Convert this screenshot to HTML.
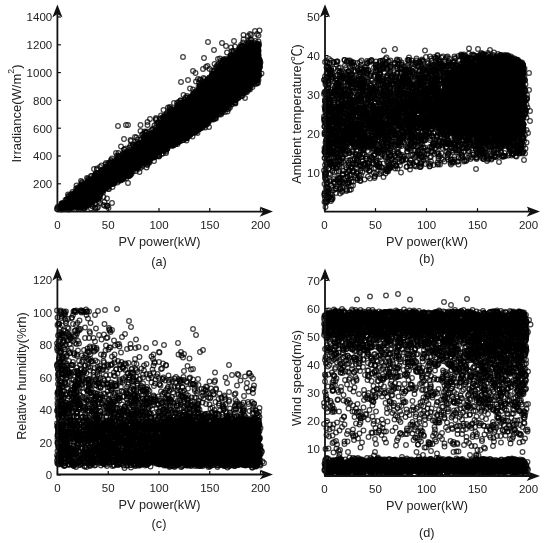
<!DOCTYPE html>
<html><head><meta charset="utf-8"><title>PV scatter</title>
<style>
html,body{margin:0;padding:0;background:#fff}
svg{display:block}
.t{font:11.5px "Liberation Sans","Noto Sans CJK SC",sans-serif;fill:#222}
.l{font:12.7px "Liberation Sans","Noto Sans CJK SC",sans-serif;fill:#222}
.p{fill:none;stroke:none;marker:url(#m)}
</style></head><body>
<svg width="550" height="543" viewBox="0 0 550 543">
<defs><marker id="m" markerUnits="userSpaceOnUse" markerWidth="16" markerHeight="16" refX="4" refY="4" viewBox="0 0 8 8"><circle cx="4" cy="4" r="2.33" fill="none" stroke="#000" stroke-opacity="0.74" stroke-width="1.25"/></marker></defs>
<rect width="550" height="543" fill="#fff"/>
<polyline class="p" transform="scale(.5)" points="246,353 202,362 411,170 280,324 358,276 386,247 261,330 301,279 268,330 497,151 487,148 366,230 253,351 506,111 480,112 408,245 414,172 210,350 508,122 404,179 172,414 138,398 493,172 466,187 515,88 516,95 509,161 515,117 392,250 437,211 281,310 347,252 186,386 441,176 492,106 423,162 393,220 177,398 219,361 301,277 508,128 444,179 480,188 507,131 268,318 460,141 204,361 190,359 204,380 411,206 226,367 392,215 157,418 213,333 323,280 295,295 481,97 361,228 284,311 258,350 312,261 199,348 194,346 514,157 330,247 213,351 283,295 263,302 203,373 440,176 470,134 437,197 389,225 483,134 184,396 446,193 427,233 241,317 221,368 281,322 479,182 447,121 291,270 443,150 220,370 213,358 407,230 515,157 495,137 502,91 284,316 311,256 504,160 281,324 298,293 390,196 435,168 382,215 327,244 434,185 307,288 388,229 233,356 371,250 199,346 369,243 498,80 502,123 351,230 414,201 210,363 340,272 386,250 405,162 128,416 450,136 382,219 414,231 318,309 377,254 447,151 199,369 423,229 473,181 289,263 245,348 476,156 454,203 504,93 467,178 213,365 371,246 193,379 236,357 430,220 372,254 180,386 391,221 262,308 406,189 385,261 446,152 485,151 503,87 257,332 406,169 500,96 420,217 124,416 331,269 296,311 414,173 477,176 214,368 210,358 235,337 487,158 420,162 472,191 369,208 237,306 168,408 289,288 438,137 442,161 489,141 405,232 253,311 356,283 146,388 495,130 247,340 482,178 348,219 305,282 384,235 156,399 439,204 456,208 329,279 240,359 373,245 496,166 325,235 326,252 412,245 214,334 209,364 325,267 394,254 238,343 504,135 397,174 469,119 516,144 334,290 154,383 347,260 439,151 251,327 367,218 309,276 300,238 268,313 421,209 406,235 452,168 486,111 425,150 155,411 462,118 506,152 142,409 419,202 381,254 206,353 376,228 448,145 469,122 169,393 245,309 322,288 217,359 317,304 411,197 353,221 462,110 393,239 454,121 398,216 486,170 124,411 351,279 157,397 458,178 391,252 461,136 380,271 239,356 242,320 243,328 498,155 460,131 334,259 339,241 324,296 169,415 252,336 334,298 483,110 191,393 474,175 221,325 441,152 499,162 456,155 208,356 500,99 482,157 317,245 430,221 227,335 335,287 466,122 361,267 157,389 463,153 467,128 384,197 232,351 430,230 331,271 165,389 404,195 348,284 488,115 292,265 313,264 345,250 389,260 237,320 277,318 462,95 433,174 253,320 225,368 392,237 512,124 457,156 290,285 442,229 409,248 326,266 355,288 236,319 440,156 467,113 502,79 200,383 369,222 263,332 434,220 418,208 393,239 411,236 414,249 451,123 430,164 446,179 448,203 338,226 391,208 468,145 420,202 495,149 335,257 276,299 451,215 516,99 325,282 389,224 455,159 257,316 283,324 399,179 213,349 203,341 192,352 464,175 478,163 340,232 510,139 223,322 370,246 152,400 276,324 420,174 377,208 369,272 235,365 225,365 343,223 502,132 292,326 422,222 275,308 150,397 230,340 192,390 242,329 520,122 414,166 337,252 486,187 296,318 416,161 389,250 282,279 331,290 479,100 478,151 348,275 448,122 300,293 265,334 361,262 247,349 513,131 368,250 470,135 423,202 186,366 317,275 174,402 276,298 314,296 467,161 427,216 297,272 337,246 407,205 490,140 276,298 411,165 175,399 507,140 505,134 188,379 469,181 455,152 451,173 307,290 126,408 497,179 252,348 514,93 407,208 504,132 485,192 491,178 184,394 464,148 451,144 249,299 412,187 413,196 190,368 512,110 487,181 269,318 242,329 422,237 405,182 262,323 323,281 351,282 165,412 389,235 349,245 115,418 467,135 226,364 385,241 183,403 490,94 332,278 247,348 466,163 473,170 381,237 485,124 383,222 190,350 330,294 182,378 360,227 410,221 318,250 506,112 117,414 228,338 364,273 323,272 440,117 508,117 399,244 147,409 246,321 433,153 223,345 439,197 179,406 284,311 413,208 324,256 480,114 477,136 342,250 470,186 409,227 514,165 322,252 328,287 210,352 212,370 408,245 226,347 125,408 387,256 465,142 205,379 354,271 246,345 456,206 427,203 149,406 271,313 422,225 473,159 251,341 485,152 341,286 503,132 422,232 321,264 177,362 345,241 497,84 304,281 441,143 336,245 397,208 214,372 270,331 448,215 499,105 315,272 304,282 303,270 397,233 406,175 486,153 269,334 229,334 179,401 318,286 450,168 431,170 322,300 327,220 164,391 396,253 283,323 385,198 350,264 461,200 204,365 312,236 300,319 431,166 382,208 199,381 217,350 410,174 470,122 248,328 320,255 395,237 362,273 343,246 425,205 414,191 467,198 480,122 432,134 172,385 409,185 348,283 447,175 389,207 178,358 449,157 472,141 181,385 414,213 164,364 311,261 225,352 286,268 454,212 392,186 259,326 468,133 401,193 498,116 453,134 285,307 271,292 256,306 445,188 339,223 489,170 237,324 425,233 181,371 198,375 351,280 247,344 470,125 313,261 411,203 468,106 287,284 313,247 394,230 213,341 446,159 250,312 114,418 465,137 458,169 410,255 477,137 265,309 168,410 494,184 369,251 394,230 363,232 402,216 213,376 514,127 516,118 295,320 266,330 166,388 361,224 466,174 480,156 455,193 178,397 381,239 352,255 240,328 188,390 329,281 216,346 502,135 274,319 267,327 496,165 519,119 217,355 372,277 468,143 506,147 349,223 318,287 294,284 189,353 402,221 156,405 237,326 496,121 518,88 323,308 282,319 355,248 292,273 301,285 303,260 187,373 476,141 394,239 339,244 490,123 360,280 365,225 345,236 452,153 425,156 199,391 440,138 273,275 374,229 382,267 448,200 406,195 395,199 441,150 209,346 495,120 214,337 431,232 414,211 451,160 442,135 391,252 403,204 347,277 490,112 297,325 506,159 409,224 444,135 309,311 232,344 425,158 495,115 345,286 258,334 309,287 406,210 374,246 273,310 224,317 164,390 144,407 390,190 354,242 329,266 446,134 457,137 195,378 291,318 403,249 426,229 159,396 306,293 185,389 517,91 466,178 434,176 322,246 380,218 490,129 367,190 378,269 292,306 157,411 273,307 282,322 295,313 206,381 463,173 406,227 251,352 173,368 421,165 434,223 180,365 481,139 372,204 208,369 234,349 342,262 226,340 457,141 319,283 476,125 455,183 340,242 216,372 469,144 433,205 207,366 285,332 307,264 501,121 410,181 256,325 256,308 422,191 517,115 299,325 438,149 410,181 512,129 273,331 407,224 392,226 307,313 343,265 170,376 448,178 460,131 401,211 453,185 422,173 314,300 406,219 502,109 189,375 205,343 219,334 400,182 454,123 490,156 512,153 437,213 279,286 234,356 297,289 442,165 397,242 509,121 408,251 456,122 257,352 228,362 387,204 437,197 503,151 412,234 414,172 263,312 369,270 343,274 177,362 464,118 461,112 519,126 251,326 448,133 452,162 482,114 384,229 509,153 154,391 399,230 133,417 501,149 242,312 439,210 485,176 367,260 497,99 292,277 392,163 275,320 352,258 389,265 432,237 515,93 434,171 447,207 495,157 321,261 143,394 438,177 492,184 343,284 479,153 487,112 323,285 428,165 337,290 270,318 346,268 515,117 411,234 237,314 354,281 188,393 481,174 458,161 204,376 244,328 334,287 412,211 346,253 457,150 471,108 410,175 493,138 275,322 474,165 255,309 257,314 472,159 446,156 216,373 460,202 313,267 322,299 459,155 512,162 361,201 339,259 492,162 415,237 278,294 509,130 318,287 256,339 449,207 448,201 268,314 289,275 475,110 426,186 328,267 456,144 493,152 383,193 482,107 147,395 460,178 381,228 309,299 317,289 507,111 203,376 435,174 237,362 512,96 160,402 477,104 381,239 267,305 486,104 189,352 481,132 236,359 467,184 330,246 497,99 197,359 492,114 429,153 374,244 275,329 407,178 425,237 513,146 452,132 348,245 398,237 406,179 299,307 258,313 395,253 161,388 474,166 429,197 393,240 340,214 422,219 439,208 253,343 424,141 361,247 454,105 292,315 252,318 156,407 467,124 438,161 454,145 516,149 247,356 256,322 188,386 474,133 336,273 214,339 391,184 514,91 232,329 498,109 257,327 316,247 187,373 503,90 352,288 422,157 457,184 508,96 425,216 286,274 491,183 472,200 223,358 285,320 286,320 348,222 351,274 201,362 514,153 442,207 336,275 483,106 158,415 131,408 316,289 477,148 255,330 412,169 406,180 262,337 420,167 257,328 386,254 512,128 280,309 329,270 282,297 223,340 352,268 333,290 227,363 248,346 291,302 227,359 471,140 507,136 349,248 413,240 251,350 408,176 233,340 463,160 159,405 415,241 501,147 443,201 444,216 198,388 204,380 306,257 276,303 208,372 480,132 441,197 406,219 155,407 219,365 342,229 187,400 511,145 414,215 251,318 447,155 199,354 206,382 460,142 417,227 336,231 190,354 179,367 178,366 240,322 287,326 515,103 422,226 257,304 477,173 356,266 412,182 168,373 472,155 224,362 397,184 268,332 341,274 384,223 356,251 415,166 469,114 507,158 268,327 388,224 189,388 412,234 512,112 215,347 398,204 278,300 324,249 413,197 253,337 412,226 214,334 328,250 449,168 209,371 466,162 248,355 376,237 425,202 417,231 423,228 158,412 421,223 512,121 480,145 424,228 301,297 383,263 446,174 292,265 167,385 364,276 174,394 512,108 323,274 284,311 319,261 145,398 379,197 320,303 344,236 393,261 318,297 277,310 439,183 445,181 237,311 413,232 326,296 462,205 398,216 416,242 213,360 167,384 446,168 390,207 493,115 185,378 423,236 430,146 253,333 393,221 388,237 289,322 361,277 201,351 418,222 363,272 136,413 440,227 470,191 517,71 503,93 303,284 456,179 390,211 369,223 516,114 393,184 307,311 366,237 130,411 514,154 357,222 508,140 311,292 519,135 452,137 295,292 230,355 363,208 356,226 503,168 476,187 331,299 445,151 191,353 456,180 477,115 523,147 296,303 295,250 211,337 501,114 313,288 281,326 332,252 465,165 338,258 453,218 298,303 296,292 352,284 488,167 354,274 379,251 216,337 478,122 513,106 442,162 448,214 156,401 511,82 273,318 484,157 433,163 433,186 512,168 230,347 424,198 139,399 458,174 459,205 342,285 418,173 149,386 461,148 363,205 338,238 414,176 511,132 491,180 213,346 173,406 330,236 137,413 434,193 492,167 404,179 215,352 342,266 248,324 167,403 385,257 287,288 359,251 266,320 472,163 480,184 300,271 270,304 396,204 139,408 169,386 176,360 329,265 382,230 428,149 444,214 287,304 494,107 191,380 473,126 362,243 460,196 143,411 308,297 493,158 142,390 250,340 235,338 308,297 500,127 277,325 488,163 335,273 376,234 450,185 236,329 163,386 407,212 362,261 306,282 419,192 214,334 214,343 493,95 231,362 316,303 321,257 402,184 215,366 492,139 301,268 354,238 487,109 444,127 445,191 476,135 480,148 342,254 350,275 417,200 390,196 401,160 305,260 269,313 263,342 230,338 426,211 414,193 188,371 177,391 276,318 436,221 251,308 138,410 475,185 153,399 495,159 485,102 133,399 419,200 215,352 360,228 274,333 342,221 475,163 466,165 471,126 507,112 481,155 264,303 364,260 145,393 190,385 328,244 172,388 470,119 405,239 368,234 222,320 363,259 469,164 308,272 489,107 241,323 494,158 380,242 309,301 291,308 286,304 330,287 323,290 509,146 361,231 219,362 215,335 377,262 217,352 502,146 448,201 464,123 310,304 509,164 153,393 389,195 229,327 324,255 416,202 476,138 332,290 384,219 155,392 490,146 381,228 466,114 471,187 326,255 301,316 373,244 232,345 405,190 470,149 493,131 205,381 514,119 297,289 394,220 377,207 323,287 453,155 350,256 159,391 213,345 499,100 495,119 220,335 243,339 305,304 150,411 217,354 424,221 307,278 203,358 477,115 430,148 450,224 497,98 311,297 310,309 468,204 319,265 289,310 506,90 334,297 329,291 340,245 265,323 489,106 361,277 275,279 510,111 419,179 473,157 438,189 327,270 453,156 508,121 232,323 315,274 514,112 368,269 399,232 467,136 186,395 464,178 178,408 513,103 217,357 253,356 458,155 415,185 377,200 453,214 490,176 385,273 174,394 191,351 237,326 345,281 518,151 284,292 332,254 396,250 476,108 341,239 420,205 210,338 230,342 369,232 346,251 454,135 240,347 425,173 158,377 121,416 127,408 386,230 469,181 358,282 258,352 346,263 217,362 294,329 411,230 412,184 384,210 269,333 182,361 223,336 204,381 299,317 272,333 356,250 331,243 178,391 450,136 373,240 397,192 424,152 193,383 404,221 261,349 376,229 319,251 359,239 385,203 362,240 285,302 460,207 226,348 296,292 370,228 335,242 229,363 475,150 492,163 436,175 434,178 360,278 510,62 181,360 171,388 371,228 168,370 285,295 247,336 515,144 341,265 203,341 428,143 200,334 463,203 483,130 404,199 305,312 277,302 419,210 467,142 345,258 479,118 349,261 359,281 345,230 161,400 457,126 512,94 301,291 478,134 338,263 415,132 460,215 168,377 240,323 411,198 362,242 349,256 179,410 338,253 495,90 135,408 414,177 343,235 301,295 170,408 357,225 413,210 336,288 344,292 324,299 493,118 355,233 353,281 418,198 424,232 360,218 421,207 308,315 425,188 513,153 510,108 504,170 485,107 204,367 480,174 505,110 380,269 294,325 320,263 217,341 282,317 369,277 309,251 412,217 365,215 425,167 177,394 421,200 170,404 227,324 157,393 502,80 401,256 388,201 490,159 434,200 442,161 359,265 272,294 163,387 211,337 329,277 352,276 177,365 485,110 436,211 365,249 395,213 517,93 404,245 351,267 478,187 448,210 226,350 155,384 167,417 488,133 329,297 214,346 237,346 474,117 456,134 197,378 323,259 361,208 234,323 368,203 445,209 324,286 293,309 320,286 248,344 145,394 275,335 468,143 472,125 342,237 258,339 341,238 495,133 373,269 408,206 431,235 293,315 492,117 404,165 373,273 454,181 364,264 169,377 429,216 517,103 301,302 182,370 451,158 449,132 438,220 418,221 445,213 500,179 163,395 208,348 475,140 332,280 361,230 442,147 516,151 318,266 399,184 443,202 154,413 444,146 436,185 484,148 283,300 501,106 371,271 299,309 361,201 358,221 424,189 413,167 362,278 318,280 244,342 260,341 512,123 494,97 322,301 140,401 442,207 322,272 249,334 494,137 242,325 139,407 271,293 472,146 191,361 459,212 401,197 335,267 239,334 381,250 145,412 310,284 402,237 353,261 496,138 245,341 512,156 511,99 308,270 416,216 460,192 469,146 301,268 392,190 417,198 395,247 371,247 244,319 388,193 248,299 392,254 352,251 328,251 375,269 212,360 427,161 456,204 319,290 388,245 229,356 327,233 492,122 317,248 431,223 342,217 184,374 421,193 431,148 296,312 466,129 465,195 413,236 469,166 438,229 261,291 162,384 386,202 399,228 218,361 470,181 186,395 481,174 261,304 177,403 415,162 177,368 326,273 478,143 326,246 480,191 176,357 473,172 281,250 356,284 307,305 332,291 385,251 237,336 305,270 510,162 517,144 492,141 421,231 139,417 187,388 456,146 397,208 389,256 517,131 188,338 320,237 380,206 243,341 431,187 163,412 350,280 280,310 415,176 393,230 364,245 487,176 458,201 375,231 478,102 471,135 507,108 185,394 507,85 403,240 194,396 377,220 380,225 411,227 515,114 501,138 323,286 303,288 496,98 323,288 122,412 306,298 475,130 436,177 301,313 291,306 429,222 362,250 399,188 290,269 262,282 383,238 208,376 499,134 453,134 345,260 152,418 375,195 372,275 340,219 449,146 214,335 343,275 428,178 363,260 233,321 328,273 220,328 476,187 439,170 262,341 382,240 208,366 512,129 198,349 368,210 371,224 451,182 226,355 369,217 202,369 190,372 500,134 434,137 171,410 497,107 486,169 358,269 296,308 286,326 514,155 515,111 491,139 323,280 204,341 453,187 308,314 263,348 156,399 354,224 153,382 211,356 398,165 453,169 295,324 295,301 458,182 479,130 276,301 457,147 515,149 442,176 392,237 388,201 371,259 343,260 194,337 507,132 261,321 162,392 454,160 468,156 169,417 399,228 437,205 390,195 165,408 457,218 384,212 338,263 345,247 440,222 159,405 437,152 356,278 143,412 262,320 499,132 432,209 157,406 471,191 258,321 285,289 285,295 164,375 304,298 496,138 434,199 469,118 293,325 156,393 256,333 344,276 341,278 228,365 202,346 172,376 299,286 470,195 291,324 456,192 464,112 188,392 429,180 353,242 440,179 331,259 469,138 366,242 302,276 281,262 228,367 511,120 174,398 401,197 346,268 317,283 267,326 423,236 449,186 396,223 332,272 332,287 283,306 207,358 232,345 233,345 164,370 333,233 328,238 192,392 467,124 411,223 263,313 217,352 363,225 498,162 315,292 401,257 280,306 156,388 291,309 436,218 242,360 215,355 498,157 384,254 211,329 182,367 167,412 441,168 379,201 390,183 174,407 377,246 330,295 487,145 311,302 464,193 231,325 241,349 505,151 222,346 491,181 200,378 142,417 487,181 246,359 141,406 241,343 424,215 386,223 445,133 441,204 400,224 303,286 167,398 201,361 309,291 461,146 309,303 125,409 197,360 499,113 415,226 353,216 221,359 322,263 140,411 439,146 443,129 388,222 365,216 277,287 189,379 395,236 285,317 324,291 411,176 388,238 136,397 496,88 382,201 483,160 468,114 345,277 363,255 407,208 247,318 261,280 400,221 323,247 300,313 401,213 334,281 199,364 270,274 463,179 462,175 467,165 160,385 325,285 322,297 431,220 321,296 419,175 185,379 429,147 471,107 178,386 289,276 383,205 216,378 207,349 359,278 321,240 200,389 418,195 393,200 503,163 441,132 365,274 485,180 297,280 470,185 406,219 426,180 198,364 215,361 399,200 425,192 125,415 309,295 251,341 418,180 331,299 326,246 294,281 292,299 278,303 377,258 175,370 242,345 489,106 378,242 303,312 484,181 450,127 482,173 410,195 478,150 461,154 452,129 398,226 373,235 466,153 335,297 376,226 420,205 448,185 245,311 155,386 472,113 352,284 514,89 439,169 234,357 174,396 436,217 366,280 419,164 516,106 239,322 498,175 490,152 241,361 353,228 498,112 404,231 247,349 345,257 491,120 301,279 267,338 296,273 399,188 220,332 458,168 411,193 454,126 368,247 329,235 490,90 236,350 499,100 430,169 342,244 314,268 442,139 374,208 415,222 429,175 134,412 375,201 300,286 442,148 452,207 159,399 275,297 451,213 422,168 395,213 441,172 468,167 492,106 325,288 441,179 433,201 426,210 320,284 456,136 465,155 454,142 498,118 401,199 245,338 422,238 257,324 313,283 366,268 455,148 189,373 209,353 292,307 223,333 494,152 487,101 420,239 370,227 432,220 316,263 430,152 423,171 282,317 252,340 507,164 183,383 269,321 347,247 215,374 457,188 352,234 466,116 172,378 427,217 465,163 172,376 487,183 467,102 475,110 448,179 348,274 415,219 449,145 148,391 279,317 412,244 241,353 485,122 289,292 159,405 132,410 361,235 262,315 276,289 388,187 414,171 230,336 425,212 433,185 271,335 461,159 367,270 484,147 502,111 474,195 471,127 385,215 260,302 468,127 238,323 342,240 308,278 444,162 397,179 159,374 393,263 346,258 502,132 406,231 477,108 486,141 293,276 279,307 484,111 335,277 246,347 260,336 439,199 429,128 490,143 314,312 212,338 470,93 462,182 389,231 479,164 214,336 294,322 380,269 228,336 429,159 236,330 253,306 255,313 216,341 219,340 433,228 481,117 508,98 442,188 353,217 286,323 353,255 352,227 400,159 303,268 342,242 347,269 332,306 459,141 115,414 374,204 517,90 406,188 209,378 451,122 360,259 393,244 424,212 485,123 467,172 484,102 467,120 360,245 187,385 460,120 137,419 367,262 322,250 519,61 289,325 246,309 345,247 281,331 513,150 264,307 383,267 479,168 363,229 315,278 184,385 325,302 240,347 484,159 330,300 218,326 191,397 456,176 427,197 154,380 207,376 452,190 413,164 165,410 204,357 480,138 175,393 414,180 512,89 295,330 228,344 477,153 478,98 324,295 449,196 416,211 291,280 436,118 152,378 149,408 500,157 441,156 489,120 277,316 422,196 513,149 419,214 418,210 285,323 405,182 406,225 187,395 493,124 434,193 418,204 449,158 429,180 324,299 368,222 380,254 382,235 342,253 313,276 510,148 226,365 300,276 482,178 417,170 378,238 210,346 396,198 425,175 442,216 222,333 429,141 444,153 415,182 151,389 396,258 272,317 312,283 150,412 405,193 223,341 147,390 355,217 430,170 175,400 416,216 230,325 416,161 515,160 441,186 470,117 364,212 192,353 495,110 279,327 468,185 398,217 436,181 282,290 332,241 457,146 383,267 518,118 508,91 347,248 259,326 436,175 318,311 511,96 342,266 480,168 475,195 426,209 231,347 513,98 481,142 297,315 501,131 164,387 173,403 156,399 344,273 248,334 325,254 236,333 444,197 200,394 518,142 379,195 417,202 490,148 180,397 307,270 513,111 362,241 388,194 125,406 313,268 296,308 320,301 284,299 375,215 150,390 276,311 374,256 407,250 483,125 497,105 272,327 431,160 489,103 285,314 416,211 493,156 293,305 499,133 315,263 407,245 245,330 130,407 456,162 488,170 431,160 450,118 429,149 475,181 323,242 504,147 236,357 365,234 432,209 337,246 478,141 227,356 138,391 502,133 170,387 480,160 354,241 474,134 421,187 374,192 302,307 252,322 514,145 472,115 279,288 209,366 331,245 428,233 306,309 365,261 251,334 461,177 398,180 384,225 198,350 331,279 348,233 307,266 179,363 414,172 317,245 420,159 361,246 434,208 425,161 203,362 355,284 414,242 419,138 290,311 471,172 262,329 279,303 507,125 180,374 405,248 432,203 518,122 345,235 182,401 502,94 345,229 224,357 250,312 146,398 432,166 158,406 441,156 456,178 502,170 424,229 445,147 385,241 170,403 514,121 212,350 419,217 448,156 425,191 213,371 391,214 429,206 443,158 452,119 313,287 483,107 376,214 305,280 339,275 377,259 402,222 400,257 121,414 257,320 388,214 238,359 429,174 365,243 449,192 452,178 179,403 496,164 205,369 473,154 360,205 408,202 309,278 503,167 346,263 413,200 437,176 202,351 399,257 207,355 191,391 401,229 326,253 210,353 402,237 406,170 494,93 182,384 492,144 478,131 361,252 505,155 350,248 463,205 465,163 385,260 252,297 474,177 452,170 419,210 200,368 289,322 434,189 165,372 195,396 426,220 208,357 313,307 221,354 449,174 393,187 373,240 315,269 396,212 421,203 414,160 364,253 246,336 156,384 389,220 200,361 174,395 440,197 458,131 425,177 243,348 176,387 454,187 203,348 436,166 275,290 458,193 297,282 402,213 440,145 412,218 484,93 481,114 507,144 391,223 360,280 259,347 324,257 359,247 257,339 460,177 496,112 485,131 477,170 361,245 506,111 455,223 475,143 318,271 456,184 269,336 483,113 223,358 409,158 501,150 501,102 436,177 411,224 362,218 211,347 444,144 399,198 505,138 258,324 398,242 389,192 506,148 427,217 465,116 466,196 336,242 483,110 453,183 256,324 476,195 384,233 421,212 470,206 436,133 284,270 181,381 482,141 502,112 261,317 392,207 425,232 471,126 449,219 487,134 389,265 401,251 437,160 361,282 164,366 499,146 292,289 295,276 144,405 282,315 188,393 225,367 374,204 462,135 402,203 384,259 367,246 462,142 518,124 137,393 359,222 168,410 208,356 218,352 440,154 323,283 239,320 502,97 481,150 296,310 350,253 419,198 170,379 521,125 134,411 392,249 326,253 489,96 359,271 340,237 454,168 219,359 444,219 427,164 373,228 380,217 289,313 318,285 421,181 417,230 396,228 427,153 138,403 447,181 346,273 450,202 367,216 408,200 392,215 490,134 463,131 346,267 463,203 475,178 312,238 168,413 382,258 435,183 438,153 463,175 474,149 505,117 212,352 295,323 163,395 453,141 152,394 391,146 370,243 473,127 175,381 317,279 455,186 367,268 240,346 237,357 436,190 504,111 416,179 362,274 473,116 256,307 471,207 353,260 296,315 326,307 204,380 246,339 424,213 422,192 291,287 370,199 409,241 226,354 424,221 172,410 195,380 312,296 438,215 515,136 205,353 157,402 415,203 380,244 391,205 244,316 372,269 342,247 422,184 301,296 359,268 238,327 352,256 218,378 467,141 225,333 472,199 181,369 380,198 460,189 346,288 451,151 446,204 413,245 508,142 291,310 345,255 397,232 400,213 266,343 257,309 191,348 438,195 447,119 124,409 484,95 472,147 367,269 240,345 511,93 220,355 242,318 461,139 141,415 360,211 248,311 285,284 508,142 470,200 436,159 408,164 158,390 454,159 404,215 448,132 425,215 333,286 288,289 476,145 309,275 392,245 274,302 519,150 213,337 496,138 374,213 327,255 506,118 135,408 186,383 434,169 436,175 313,295 388,233 517,111 416,241 434,208 424,149 413,245 414,200 233,354 142,411 342,236 433,230 324,250 491,144 360,231 514,102 479,122 414,167 446,200 502,149 139,398 302,296 415,196 449,134 427,214 492,129 339,291 424,165 500,95 485,139 134,399 258,342 516,114 149,389 140,396 376,238 320,279 352,273 445,189 351,240 373,268 173,398 471,143 496,162 296,294 185,400 198,383 351,256 159,413 370,239 488,123 372,276 168,369 409,185 255,323 347,291 506,161 175,386 264,316 340,283 179,372 435,208 178,408 466,200 187,384 427,228 339,216 435,173 227,326 272,323 271,310 517,152 271,330 512,139 365,275 404,226 284,318 193,389 430,225 410,172 254,321 178,403 193,376 296,285 170,407 436,193 257,331 520,134 261,336 424,165 140,413 485,167 350,275 401,198 145,384 425,179 410,194 389,199 451,193 437,173 477,196 486,119 225,350 467,128 368,242 207,363 351,225 234,311 325,253 241,345 453,209 274,330 452,194 416,204 133,406 274,328 373,270 499,138 342,281 395,266 454,187 447,171 400,212 342,276 355,265 354,284 295,299 409,215 153,371 486,163 320,269 496,102 477,105 242,337 382,207 460,191 256,322 504,152 163,406 178,387 330,292 263,329 360,217 175,380 156,378 458,177 217,365 243,343 175,366 454,165 193,389 319,277 256,317 247,317 510,141 459,175 139,408 417,231 353,250 408,169 373,230 451,159 336,255 472,156 187,366 288,298 471,190 455,140 434,164 476,184 320,285 451,209 409,196 479,182 306,304 468,148 425,197 247,315 505,109 405,205 241,322 198,379 260,351 317,273 397,200 512,91 431,211 361,247 294,295 474,172 400,218 400,170 514,138 155,415 205,349 346,237 387,205 460,173 359,238 337,270 504,129 255,303 462,202 376,227 231,341 288,322 252,315 181,383 389,245 143,405 388,194 368,222 419,207 321,270 397,258 155,375 281,296 301,290 227,336 124,417 472,146 145,412 406,181 181,403 389,220 440,223 201,376 212,376 501,141 275,320 314,288 351,288 163,409 429,201 450,176 188,396 458,179 318,269 519,127 268,317 405,172 131,412 230,331 468,172 516,129 276,297 323,250 261,305 347,288 491,162 505,152 446,218 278,324 422,225 178,382 497,136 360,213 427,228 135,400 302,284 441,216 463,128 193,382 295,306 378,226 411,210 481,173 412,202 472,130 445,171 379,266 292,283 386,179 510,113 131,400 299,322 310,304 230,335 504,134 295,275 210,338 265,310 501,112 498,127 435,205 418,160 235,339 442,144 418,170 507,121 227,349 508,142 434,176 336,244 466,166 288,280 180,384 447,181 445,222 409,168 464,209 468,128 414,203 278,332 259,304 500,159 419,201 173,389 453,172 205,363 433,225 505,137 389,257 453,190 382,237 480,187 202,366 413,217 458,121 323,246 399,230 343,278 499,144 188,359 398,247 363,261 439,211 516,116 425,211 366,214 226,324 341,258 351,235 303,286 496,91 370,241 316,300 406,187 436,221 507,143 492,121 347,256 424,175 453,186 397,226 509,141 186,384 259,308 507,126 404,208 426,232 152,385 399,247 421,222 401,237 497,154 427,201 218,366 383,240 373,221 407,207 158,405 498,173 457,143 260,338 422,226 462,204 221,333 490,169 179,380 405,180 470,133 389,246 346,250 263,326 471,195 383,264 356,210 439,167 455,122 190,394 417,243 369,252 379,245 479,119 492,141 171,409 366,209 429,193 379,219 488,176 286,285 422,186 481,152 141,410 356,263 254,329 390,243 447,143 332,291 206,385 464,102 206,352 402,192 438,154 206,361 479,131 430,179 487,125 487,70 468,130 450,133 310,295 446,185 429,213 272,293 227,333 387,262 379,225 372,223 479,171 351,251 388,188 162,369 442,193 213,361 297,320 233,352 485,184 490,121 237,318 151,396 393,238 298,296 234,332 448,171 408,215 279,330 349,240 245,318 276,304 398,247 407,196 497,171 303,301 256,339 304,295 225,343 509,162 181,364 179,372 494,131 343,268 507,147 145,393 148,411 447,153 432,198 170,412 196,368 328,284 469,149 429,168 459,178 474,122 405,235 405,195 318,313 254,317 187,391 487,122 499,165 508,166 229,366 492,95 265,313 460,114 427,149 283,313 374,218 498,116 300,282 269,298 517,160 379,218 517,100 385,192 504,166 456,212 423,184 346,282 449,209 247,318 468,136 307,282 289,282 251,345 262,327 162,390 510,110 382,227 401,181 231,346 390,199 483,159 500,110 364,220 312,295 346,271 432,147 419,195 409,231 282,310 382,253 505,97 506,112 193,379 277,300 353,265 288,315 196,374 512,117 485,92 313,282 473,170 477,130 211,344 298,274 284,309 388,195 136,389 190,390 502,139 164,401 175,392 493,167 340,229 437,142 361,263 307,280 364,277 414,186 258,343 462,171 462,185 333,246 479,138 472,173 453,156 272,300 510,95 418,233 245,344 320,294 312,269 470,145 417,226 188,370 359,274 262,311 439,190 191,349 338,271 315,300 405,181 518,128 294,280 301,304 442,221 210,356 358,283 401,215 306,300 512,108 274,314 445,138 281,317 397,247 375,240 353,226 205,346 172,371 495,104 258,333 123,416 171,376 287,323 383,250 172,411 359,224 342,287 453,150 340,280 498,85 167,398 495,124 397,258 125,412 214,337 485,114 337,291 238,354 325,251 485,172 352,254 309,297 184,401 154,397 510,159 484,107 385,258 302,277 492,159 491,132 410,246 448,217 365,240 359,282 380,228 158,391 271,321 207,351 140,393 309,293 272,318 397,191 404,248 511,138 369,200 400,174 262,303 505,119 246,340 481,148 416,227 360,235 423,169 477,174 405,221 194,339 452,162 375,236 409,206 449,180 477,195 290,280 361,222 362,230 360,241 131,415 180,405 492,162 274,316 411,221 326,295 325,283 248,354 320,275 303,276 276,289 188,375 484,122 256,328 281,330 493,109 325,270 427,204 361,259 491,135 163,379 499,107 213,354 436,218 278,316 351,252 504,132 434,151 439,149 185,359 512,107 315,305 501,94 391,264 516,135 413,172 443,211 157,398 514,147 226,347 423,172 287,315 516,147 454,127 344,251 270,306 437,193 252,334 264,293 130,412 265,325 295,310 364,264 437,129 463,113 272,322 153,387 460,178 373,255 493,108 132,416 487,79 254,337 502,109 187,399 436,186 398,215 349,271 312,304 500,136 369,245 256,343 486,171 268,301 226,352 346,224 496,127 406,230 191,393 460,180 394,246 460,159 347,290 384,215 334,226 439,144 308,322 144,391 236,340 413,248 368,231 347,267 459,117 168,397 371,225 284,324 267,323 430,237 207,348 367,280 489,144 413,245 249,330 294,275 399,211 316,301 179,367 438,186 385,210 259,305 465,188 477,156 301,311 257,323 411,220 159,401 497,153 324,249 190,398 421,233 373,202 146,411 407,176 205,351 203,350 259,295 348,256 441,161 309,301 311,288 357,271 297,299 244,321 474,125 278,301 249,333 441,145 505,101 494,139 238,338 417,245 444,155 374,276 353,246 363,218 485,162 326,261 291,325 255,324 147,393 412,203 351,272 351,248 423,214 354,225 402,234 309,305 178,382 441,201 390,202 199,367 441,146 485,185 482,182 437,166 454,199 469,199 452,212 383,264 385,246 432,153 405,232 433,204 431,191 504,164 484,159 496,155 399,196 327,265 360,267 378,250 309,297 263,307 456,183 456,203 418,235 466,201 421,203 400,195 401,230 377,239 254,304 464,201 396,232 370,212 201,354 213,339 279,294 307,285 397,259 150,389 372,269 363,253 511,118 216,360 196,358 452,214 352,238 262,309 378,247 186,358 206,342 176,396 244,324 174,356 363,216 470,205 430,212 514,166 495,163 446,184 310,264 484,175 352,257 203,331 347,222 274,333 403,210 459,127 228,358 460,206 190,401 466,128 385,246 166,387 400,244 471,181 325,289 436,174 217,372 191,395 453,171 494,112 285,306 432,165 382,198 182,352 469,149 193,368 402,182 425,214 443,181 455,127 428,157 415,160 386,195 340,282 465,192 399,190 489,101 374,258 421,162 439,160 433,207 432,199 346,279 126,412 423,200 359,217 164,382 410,178 255,327 445,197 437,175 418,156 327,278 232,337 177,374 429,189 217,364 444,190 248,341 334,260 344,231 427,194 463,140 438,183 290,289 157,404 210,366 502,164 382,259 365,228 178,366 186,393 189,367 330,231 443,126 221,365 414,168 127,414 397,185 257,330 212,343 193,355 252,309 385,254 247,328 379,196 372,251 370,204 430,153 271,290 445,152 337,250 274,305 469,161 394,196 423,221 425,224 400,220 456,201 289,309 305,283 259,308 247,328 382,266 330,291 320,259 503,106 212,326 440,159 396,247 483,129 430,212 476,167 308,290 413,242 490,101 381,241 495,110 245,358 238,354 406,253 209,345 485,165 470,153 180,394 438,135 270,300 189,387 157,384 206,355 511,87 321,289 472,172 294,302 168,367 418,196 501,140 444,207 159,375 468,82 126,407 499,102 441,206 196,375 376,218 414,170 335,268 473,178 193,354 301,269 428,164 292,324 479,187 443,151 282,324 480,94 447,183 304,316 514,159 498,139 184,370 161,383 506,111 514,142 420,207 477,173 369,225 447,138 466,114 186,388 294,283 411,224 298,318 251,320 259,316 144,415 420,158 242,342 325,291 381,225 466,175 321,290 516,139 220,325 356,281 499,116 445,179 318,312 239,348 436,196 449,141 513,150 193,360 197,382 385,207 357,213 333,274 424,239 188,396 186,377 516,113 280,300 432,222 395,206 331,237 517,83 424,148 165,384 393,190 378,239 460,190 441,211 237,338 266,290 249,338 325,273 375,263 428,226 231,358 411,182 164,380 440,202 235,345 436,202 405,200 191,358 365,207 267,303 374,240 411,225 378,203 311,269 505,114 480,140 378,247 442,151 424,154 364,246 468,126 319,300 292,302 406,174 496,174 180,387 302,301 482,110 496,111 442,164 440,141 184,386 455,131 333,275 510,128 317,255 451,166 497,139 253,325 295,244 413,179 330,269 373,281 414,169 288,322 272,295 232,326 279,344 332,303 123,419 260,315 508,150 296,299 275,312 297,300 137,410 462,181 391,264 162,414 405,255 478,176 397,187 345,262 424,162 375,241 350,280 479,184 335,271 369,246 403,211 189,352 451,204 210,357 505,106 492,122 464,194 174,384 500,102 151,414 461,195 327,294 456,147 503,163 474,134 188,355 322,263 261,345 474,168 478,122 302,274 484,121 182,393 371,273 236,357 363,212 436,177 304,313 444,165 380,258 313,291 257,333 137,409 163,415 341,271 346,254 331,255 350,267 490,178 253,347 381,223 373,273 161,397 294,263 255,331 322,293 225,374 172,400 459,127 481,126 380,254 447,149 225,365 283,313 213,340 279,307 467,104 307,308 328,281 255,324 399,186 206,370 430,224 312,261 488,120 434,178 435,215 194,376 380,207 496,149 486,130 359,228 267,304 505,130 400,171 291,314 184,387 426,227 403,177 263,322 460,198 504,126 485,171 341,249 464,169 234,318 322,231 464,179 329,235 250,320 240,322 419,155 362,210 221,334 358,243 374,209 371,195 140,403 160,406 297,311 419,164 483,192 259,333 258,332 454,193 357,204 369,222 336,284 356,222 298,277 439,176 481,122 376,212 482,187 389,235 328,254 505,102 215,371 440,184 244,338 327,281 268,298 141,415 251,311 366,222 510,122 334,284 517,109 333,229 416,225 143,414 436,223 225,345 363,272 329,269 274,336 475,177 406,205 442,212 475,120 454,186 371,236 160,402 515,100 160,400 196,365 412,173 208,371 233,349 401,173 509,129 355,210 321,277 414,227 385,240 419,215 461,196 463,169 387,188 294,310 258,336 369,271 478,175 244,333 486,186 235,357 359,224 510,121 319,273 177,379 424,233 239,326 330,287 507,102 234,324 278,309 389,244 492,116 335,269 468,114 450,143 463,181 441,179 349,222 465,180 397,255 497,113 507,157 505,174 299,304 495,120 235,314 196,371 200,367 268,313 228,331 268,324 145,410 274,331 402,193 474,160 348,206 359,270 312,240 411,204 336,215 280,310 396,187 423,160 233,342 193,371 346,251 291,265 356,271 293,335 425,205 484,182 483,108 415,232 453,132 300,286 464,153 403,207 472,154 209,374 376,212 289,278 363,240 153,389 512,98 330,278 277,313 184,352 467,173 409,180 385,189 173,398 355,241 335,270 240,324 488,159 446,219 329,256 324,283 358,243 228,339 229,352 412,210 456,144 451,163 232,306 365,266 195,369 424,170 288,273 335,289 348,284 184,404 287,289 279,312 249,334 423,153 357,284 407,250 422,216 214,347 205,378 471,133 123,407 508,101 215,357 136,409 386,211 432,157 308,265 300,300 354,272 493,151 366,220 368,233 405,186 444,225 463,202 367,276 333,299 205,355 225,339 517,131 310,314 387,203 262,326 456,133 297,273 445,170 464,121 290,292 211,343 449,146 368,273 230,353 361,265 417,191 450,189 488,105 446,133 164,408 457,201 482,90 425,228 253,322 350,256 507,131 360,241 389,228 448,160 213,350 176,408 123,408 207,371 257,313 447,137 398,218 218,353 195,357 395,185 437,161 386,211 449,170 500,125 372,270 434,131 193,349 152,412 281,297 449,150 504,94 354,258 171,398 354,226 504,137 321,285 298,279 221,334 380,230 494,120 246,352 120,415 240,315 147,411 160,415 388,231 481,135 359,269 514,140 479,107 306,301 481,182 443,226 227,350 349,269 276,315 369,272 319,276 458,162 475,165 492,97 262,305 168,380 242,331 368,266 220,335 283,319 465,202 492,114 282,335 330,283 438,168 484,148 436,154 253,317 391,195 342,241 203,383 417,241 310,308 256,319 503,147 288,313 136,406 362,213 353,265 455,147 490,133 469,135 338,236 351,250 485,154 216,327 462,176 238,321 341,280 379,205 435,171 482,109 423,234 380,177 161,410 436,173 484,92 231,323 139,403 517,139 441,181 276,338 143,388 191,368 427,190 444,221 468,120 243,350 426,211 490,96 477,135 352,282 499,90 399,237 495,147 428,158 240,322 439,168 503,156 486,85 285,287 287,321 494,101 267,290 477,104 184,378 345,266 357,209 311,277 239,338 345,290 135,415 438,220 407,197 462,187 163,373 446,167 240,356 288,283 484,178 420,158 266,299 247,347 380,237 427,239 196,386 296,301 389,260 279,296 379,225 358,255 510,123 177,396 242,293 252,349 455,164 320,283 449,148 254,343 196,382 296,277 162,362 225,366 449,197 280,300 354,206 508,159 456,169 450,213 490,179 425,198 330,267 450,207 284,308 216,372 459,186 272,342 327,237 499,177 222,334 493,149 287,303 459,165 441,122 483,177 509,163 211,353 437,143 401,248 363,214 401,234 203,372 152,410 415,210 354,266 356,247 416,188 365,275 405,231 430,186 445,186 271,328 451,196 473,192 486,112 493,180 390,219 457,157 190,370 446,146 440,210 501,132 376,273 435,221 453,180 260,316 435,203 195,363 433,204 292,281 229,355 314,291 407,209 302,313 262,306 427,163 389,260 506,120 512,162 341,277 265,326 320,263 490,134 383,226 411,200 170,383 467,191 499,98 490,196 253,351 510,110 474,108 262,306 483,112 407,156 248,305 233,349 366,259 496,135 241,334 433,213 316,305 496,150 149,400 344,240 436,200 403,234 485,175 416,159 454,196 502,70 287,282 170,394 438,206 434,162 402,249 239,328 496,176 470,115 341,277 421,203 438,180 426,211 447,139 369,272 452,128 374,276 211,337 240,320 449,179 356,252 475,134 276,311 254,311 210,340 378,206 274,285 428,173 494,165 458,148 260,318 188,399 500,97 289,302 346,221 518,135 454,148 324,286 439,192 346,288 257,323 159,409 419,173 299,299 411,195 471,146 416,201 467,136 369,210 480,104 334,240 333,247 340,223 299,273 350,236 290,285 358,266 345,239 409,224 359,274 416,184 403,175 442,194 191,401 422,225 444,160 466,137 366,236 520,132 509,108 405,239 399,242 183,401 346,278 251,331 438,179 238,353 246,351 419,176 197,402 182,394 183,409 182,417 197,396 191,417 196,414 217,416 181,396 210,412 185,394 187,395 186,398 185,393 207,394 184,404 182,392 184,402 184,405 215,412 182,404 184,397 207,410 185,413 197,398 190,407 214,411 209,404 190,415 214,397 183,401 193,398 366,114 416,84 408,116 444,86 452,92 428,100 386,142 362,164 376,160 396,158 406,138 412,134 236,252 252,250 256,250 248,278 256,366 418,254 516,166 500,68 514,68 496,72 200,406 214,412 224,406 194,416"/>
<polyline class="p" transform="scale(.5)" points="768,188 894,285 652,349 893,115 1021,130 988,151 1026,177 907,199 983,215 678,246 909,218 922,109 1037,167 949,151 870,187 1029,161 838,194 834,182 788,244 662,270 997,185 811,319 846,302 968,216 953,265 831,288 872,116 674,229 902,176 989,242 1003,115 667,358 1020,201 904,163 733,224 860,211 1004,294 1008,124 878,229 700,135 923,113 952,213 955,281 935,240 772,165 1018,263 764,278 795,146 1030,234 710,245 901,172 934,249 985,127 864,222 953,201 703,234 1029,204 809,313 947,165 953,113 1001,148 1030,152 872,179 744,175 782,262 938,148 927,210 975,176 780,201 871,180 992,215 722,274 877,308 921,137 911,129 765,245 933,225 948,211 956,196 689,235 1007,278 973,202 936,164 823,291 803,238 669,181 788,289 933,277 790,312 766,256 952,138 846,141 723,198 915,150 1016,180 832,333 846,238 800,208 870,176 690,131 1022,166 1031,203 993,229 1022,146 1012,227 781,183 972,197 944,141 816,213 1002,131 955,268 717,216 977,285 672,185 975,217 972,197 1035,208 1018,188 985,226 1045,210 1050,179 653,334 744,196 967,229 991,247 818,297 721,137 785,233 919,120 1032,294 678,226 766,249 954,259 818,120 819,164 996,140 926,123 718,332 691,179 731,224 845,169 955,170 837,244 1003,220 934,156 1003,212 806,156 1031,259 778,123 1047,223 972,278 780,336 1046,196 883,161 1027,165 954,178 1000,185 943,203 942,257 757,186 1045,176 662,301 1025,165 929,196 1018,244 1060,222 1020,211 739,254 883,263 982,211 969,179 1002,194 752,236 1025,136 677,136 967,134 898,179 910,227 930,253 857,204 965,222 894,221 844,314 998,266 674,300 1043,248 1041,267 948,262 990,311 1029,235 1019,206 910,209 847,216 659,267 685,350 839,123 665,191 710,199 887,246 989,129 700,223 996,268 1033,313 917,148 818,125 691,299 932,129 1016,192 993,189 997,167 706,206 903,173 815,217 1025,179 986,211 812,252 695,254 747,191 1022,121 1036,151 719,261 699,199 1046,204 1009,227 837,244 1044,227 1042,153 1005,180 1032,139 973,189 1017,255 769,132 709,131 1011,175 1005,233 904,185 976,130 905,304 858,180 1008,236 935,254 1025,272 884,252 736,353 790,222 983,127 839,309 1001,262 795,238 997,137 947,269 1001,141 881,205 959,171 1037,197 936,236 1025,137 749,287 725,246 992,278 959,201 829,301 981,207 976,230 982,235 1039,208 732,139 1014,204 697,157 1048,282 825,208 778,335 873,255 950,159 740,245 680,366 865,231 934,177 903,214 983,134 985,243 937,170 899,226 976,159 996,239 835,238 929,139 1020,241 1032,218 767,354 1004,171 896,282 794,146 921,265 893,198 1050,203 930,229 920,183 675,315 866,209 972,296 1020,117 666,324 966,257 797,307 977,222 812,215 695,150 949,168 1042,222 1009,150 762,248 738,276 722,135 898,188 743,235 1038,200 710,201 658,319 723,262 917,329 720,193 812,167 996,198 1032,235 754,138 689,228 752,231 1037,148 946,193 775,336 777,319 674,310 1016,211 1039,178 924,150 878,153 771,234 688,263 1017,203 874,239 987,143 701,321 978,178 663,141 677,279 896,227 826,128 867,141 653,359 936,258 1030,215 907,265 755,213 988,173 744,271 870,158 1037,220 842,196 884,199 763,200 882,257 1000,117 1026,188 1022,130 832,203 1036,215 942,153 703,200 894,175 916,187 1038,227 736,279 768,189 898,126 814,160 931,290 873,176 990,197 873,164 1031,139 1042,260 994,215 782,163 878,292 924,165 818,144 975,232 885,238 955,273 877,313 881,194 924,127 684,242 1037,201 1002,304 684,317 894,219 711,202 934,246 914,163 836,133 947,139 864,294 893,133 750,259 947,232 987,203 903,249 882,206 1055,215 910,267 955,233 838,143 1038,187 943,161 741,237 1006,213 692,378 689,263 1024,175 929,213 860,113 1050,161 680,135 1020,248 921,238 933,206 880,199 721,145 860,144 964,115 1042,217 707,168 872,156 969,248 757,303 789,201 809,180 940,157 914,199 766,128 767,138 695,346 997,152 963,204 844,241 1018,195 988,182 1001,249 1017,237 823,195 1025,308 685,301 754,326 739,254 982,120 749,285 1002,166 1019,148 992,242 961,125 687,287 991,164 893,277 1002,295 747,176 652,213 1044,162 1028,150 829,282 994,116 949,142 1009,205 654,135 993,251 955,148 962,180 995,244 770,251 1045,145 825,145 799,216 697,342 715,221 748,311 893,185 700,231 988,228 972,164 848,212 928,216 1010,121 680,321 1025,186 1015,183 859,266 741,148 693,289 917,161 1003,144 653,405 1024,229 747,326 1012,218 982,246 902,233 923,289 929,261 909,177 941,202 903,183 830,243 830,158 651,285 700,221 861,244 1038,157 795,258 764,161 688,268 1046,160 908,160 649,391 1029,209 657,301 1031,178 950,230 950,125 714,278 724,261 960,153 654,220 942,177 977,280 839,187 771,347 899,141 1025,136 965,194 946,291 1005,198 854,244 682,153 951,235 847,123 654,296 971,195 999,198 981,117 880,312 819,209 773,229 949,111 1025,116 821,262 983,236 663,285 1034,208 854,245 1013,196 1033,126 1015,133 762,246 1009,280 1031,266 933,142 709,292 899,129 1033,162 714,162 689,222 840,190 850,243 773,129 964,222 993,244 673,313 733,290 1022,185 761,149 974,223 998,191 921,253 991,159 1009,195 910,249 926,191 1023,150 1017,229 916,181 933,320 753,173 1023,210 868,223 798,287 663,141 935,295 931,245 1001,297 1041,225 917,160 1016,278 990,193 672,271 1025,301 911,222 765,249 822,156 929,120 787,233 804,137 813,155 676,141 729,267 1015,246 927,139 922,316 855,147 980,197 717,255 910,141 1000,249 929,201 744,255 649,316 830,210 983,125 903,131 999,170 915,157 673,254 917,216 934,133 918,275 799,215 701,149 1033,205 911,215 835,252 922,249 986,187 708,342 733,232 924,172 951,193 855,171 667,272 1030,195 950,153 983,164 1034,178 1018,264 901,176 789,267 940,312 899,264 950,268 834,245 1015,205 655,221 1048,195 687,157 712,313 1014,170 1036,210 901,155 656,244 1025,222 755,304 1024,129 713,287 1012,292 672,291 685,366 890,190 941,273 854,236 818,193 864,243 995,255 1037,229 1012,139 987,165 808,226 1042,265 902,201 951,246 855,249 902,212 875,325 1044,198 1033,138 896,307 762,248 844,225 750,227 1016,215 852,170 908,139 1027,236 907,185 1005,129 996,132 870,200 1026,189 1019,283 798,189 895,240 650,153 694,255 983,125 850,248 1022,258 758,205 1036,209 762,346 675,178 969,250 986,265 960,238 784,330 901,140 1021,204 993,183 822,194 799,311 705,161 1023,282 739,253 934,211 982,285 744,316 735,258 677,189 945,235 993,194 725,268 1038,238 1036,139 659,201 1044,231 900,208 843,167 1013,224 830,170 771,263 992,185 1042,250 833,166 931,190 804,215 1036,179 1002,282 982,155 1025,170 903,167 956,180 1044,162 886,225 758,300 973,185 1003,205 919,259 817,180 937,285 936,281 758,244 825,214 928,188 976,148 1040,163 901,213 724,272 683,222 962,303 758,333 701,239 1011,252 811,152 966,169 954,202 816,220 1043,140 991,199 952,148 819,249 978,247 1016,152 944,154 1028,229 961,204 1008,184 1002,251 863,189 686,211 912,232 713,284 717,218 1025,240 1040,194 1006,311 824,248 962,120 765,268 1048,193 984,158 652,281 664,304 682,362 1012,235 855,155 701,213 649,368 939,194 958,203 1043,218 1035,235 1004,273 910,217 1024,200 866,251 934,179 904,131 749,191 823,184 774,165 1037,206 954,182 669,233 902,254 921,143 662,152 905,222 1047,210 707,249 1000,209 970,133 778,200 927,178 826,137 863,171 714,288 1025,271 681,183 731,181 1004,124 904,148 878,292 961,278 1014,140 999,154 1010,189 1032,234 719,165 979,201 846,189 761,191 977,168 726,282 957,206 916,135 999,161 905,214 850,201 870,162 740,313 1007,279 984,234 989,167 1003,217 976,183 1005,163 976,117 832,222 848,225 940,243 920,143 984,202 972,177 1004,279 802,289 673,235 996,155 698,238 872,194 842,244 1042,251 978,184 923,221 852,193 1018,167 947,170 957,186 772,265 650,352 768,255 830,255 1012,185 713,233 948,206 940,160 851,237 739,236 1049,137 1003,237 956,225 995,239 1012,215 681,355 892,265 981,200 742,228 1043,211 954,123 685,316 700,320 958,191 949,251 860,276 1041,282 990,120 836,228 907,212 976,174 869,114 858,199 710,263 662,136 994,146 841,163 704,234 932,186 1033,237 736,326 841,288 1006,210 848,251 743,292 706,224 921,214 686,253 1001,231 693,247 1024,265 1043,243 1029,201 996,189 1040,204 1030,197 999,178 1001,205 1030,226 888,145 854,197 966,253 965,305 704,231 1020,242 971,216 989,210 826,189 898,191 652,311 892,178 889,191 795,136 708,225 1003,179 789,126 691,181 681,309 1047,302 829,214 686,226 807,203 661,245 728,196 889,276 703,240 799,178 1007,146 657,205 872,163 811,140 787,168 910,265 911,300 851,248 909,159 996,209 716,226 912,175 868,242 989,232 659,257 678,329 876,167 954,144 981,248 1002,251 861,237 875,156 693,293 797,268 930,246 976,228 774,138 706,301 947,230 981,138 1027,162 1001,217 1034,138 969,177 662,121 819,219 1046,176 823,203 1003,151 1012,154 993,149 1015,122 1025,253 956,174 1043,147 800,190 962,183 784,155 735,269 860,193 961,206 988,192 801,199 1035,143 815,174 856,219 980,253 967,269 1003,227 664,332 871,160 897,232 719,311 895,280 965,294 997,142 733,339 828,198 957,168 937,165 749,280 710,329 1023,262 705,286 913,208 986,155 908,296 914,217 1008,198 1011,160 709,221 1046,304 1018,172 983,150 995,201 1016,192 1009,173 902,230 953,251 729,222 988,138 918,230 691,199 907,204 1023,280 667,289 991,154 821,216 797,267 800,135 675,172 729,234 723,197 815,212 1038,164 957,275 1002,193 929,208 848,199 845,206 826,143 1016,156 842,171 912,202 969,194 837,228 950,208 911,227 857,218 929,247 839,255 673,298 1011,188 726,179 912,192 922,154 818,248 966,162 739,342 886,113 783,259 933,237 1008,288 905,201 959,284 693,287 653,148 931,276 928,281 922,237 695,270 970,226 718,153 925,120 774,324 1033,249 731,249 921,159 930,131 996,140 1031,217 905,193 960,206 940,202 1034,267 822,293 818,242 983,173 997,202 987,151 1007,165 687,342 1032,193 1034,235 993,255 932,157 663,213 897,227 868,228 1012,149 984,268 893,176 960,171 823,189 1032,211 714,320 661,295 674,281 1041,299 758,178 926,251 753,251 956,142 806,274 925,247 766,296 883,127 1050,307 918,151 1019,174 759,334 926,187 1006,213 680,217 794,305 1024,119 1012,199 849,252 934,197 977,136 931,129 771,315 922,207 718,210 963,173 893,160 996,204 1038,123 724,162 879,251 1005,115 649,304 781,222 1021,164 946,152 987,304 1009,139 805,227 792,267 1029,240 706,254 943,231 950,261 894,229 1026,159 992,216 1043,266 976,293 1036,200 798,210 999,185 662,398 1040,229 1054,198 799,269 884,167 850,183 1012,265 709,155 859,222 909,319 693,189 778,330 1002,133 744,272 879,123 934,143 674,250 998,183 729,215 930,243 776,223 678,314 1009,181 995,265 980,196 985,199 980,278 898,151 735,281 1002,209 991,136 985,236 1013,245 834,171 950,225 991,245 989,201 988,201 771,129 795,178 1018,171 891,118 781,143 650,217 1040,126 965,108 941,198 1023,184 1043,293 955,216 1043,234 1000,189 665,186 675,150 749,262 944,315 843,266 994,134 1045,211 1012,232 936,212 975,152 887,231 750,212 877,328 962,180 834,192 971,286 1041,203 1028,152 1004,263 831,140 1048,174 673,249 738,238 973,163 975,131 998,262 684,283 703,230 1000,243 990,178 952,198 951,233 967,124 685,291 895,314 965,173 973,208 703,286 1001,234 1045,147 975,219 1040,164 913,170 706,255 969,256 668,186 873,233 733,143 1031,292 976,109 946,255 905,221 886,249 661,241 923,208 824,196 794,245 765,158 792,154 698,163 850,140 971,166 1008,161 964,193 969,277 984,203 913,154 928,252 1026,140 975,203 987,242 802,224 982,263 1016,195 927,239 721,342 726,257 778,201 840,172 758,153 916,248 877,227 748,310 655,296 864,222 900,289 971,208 703,285 726,230 678,312 1025,157 847,170 821,196 750,240 1038,134 946,168 738,293 1019,125 1002,194 878,225 917,285 683,285 783,201 971,165 1053,260 717,243 730,221 969,119 868,211 877,183 685,364 731,257 950,288 678,250 706,326 737,140 789,187 698,306 952,228 1031,135 1001,122 697,182 917,240 1008,188 944,260 995,114 769,300 967,210 903,235 985,218 985,169 728,170 806,170 782,317 928,205 1046,252 713,250 712,252 962,253 658,323 722,130 704,270 819,250 789,239 1045,161 986,110 1041,289 936,238 701,125 915,291 1019,184 984,130 904,229 983,133 975,222 693,158 982,187 959,170 965,313 850,190 1039,230 930,118 1002,131 730,249 1037,175 940,217 1021,173 946,196 673,168 901,266 684,300 1020,241 957,136 922,228 954,267 1029,228 705,304 673,129 956,298 981,253 926,256 1012,265 727,189 926,217 956,201 864,259 741,205 657,139 1025,143 852,260 766,288 942,165 715,259 857,145 795,337 944,183 662,241 1042,133 1031,220 925,209 805,276 1029,180 849,201 860,200 875,212 674,359 1022,183 1001,168 952,142 715,137 1035,149 733,207 985,194 1011,165 679,332 692,136 1014,242 673,335 997,228 675,183 683,202 686,156 868,211 831,125 939,204 653,222 870,167 1023,234 833,257 650,199 921,165 1011,259 1024,206 750,238 894,288 1017,180 871,201 951,256 695,301 799,128 788,246 1028,158 849,171 906,190 1024,141 880,131 955,223 897,308 866,230 679,145 795,229 797,295 936,208 827,232 1025,211 817,182 814,303 672,323 945,240 941,318 934,181 1034,121 932,141 933,181 856,302 747,222 890,202 1008,208 979,139 1001,259 824,170 889,268 726,177 973,184 825,277 650,203 707,230 709,186 818,208 1017,237 1048,218 1007,253 988,139 790,126 829,149 852,220 946,109 1005,145 1005,268 1038,158 929,205 819,175 986,216 1029,143 1030,230 1024,212 670,266 817,264 1023,163 983,236 873,214 872,122 654,273 1003,168 795,224 962,295 763,201 954,230 969,172 800,247 1051,297 1009,201 995,183 1038,301 850,295 1020,135 988,192 834,243 1045,190 1012,150 794,219 944,135 769,174 677,225 849,210 900,246 711,307 997,288 863,122 1038,151 934,128 716,322 1011,122 1025,159 713,218 1050,201 837,193 785,245 757,154 941,136 660,150 1017,242 850,227 952,193 891,265 733,287 663,253 1031,207 794,218 819,173 926,224 807,187 1026,225 689,187 719,149 671,246 765,168 655,308 776,289 869,230 697,325 1008,209 878,205 928,250 869,232 935,265 723,225 849,188 1039,174 1015,209 958,111 848,181 914,237 866,287 967,155 916,190 950,270 966,159 955,156 833,117 953,221 1004,219 1045,194 726,183 1039,205 934,251 729,214 971,259 963,250 722,219 777,231 1030,218 672,386 826,213 768,216 963,207 947,196 903,203 815,264 880,224 931,187 927,271 1041,199 872,208 924,223 738,242 734,205 833,208 792,243 711,219 1049,213 862,240 848,239 705,271 1046,141 886,319 973,266 981,223 1009,168 841,240 992,137 996,156 879,236 952,222 733,228 715,177 1021,168 700,159 682,292 693,209 1011,193 794,180 996,286 979,138 987,299 696,164 693,213 996,259 799,214 964,221 772,266 879,255 757,233 1006,166 1007,134 791,220 992,298 1013,247 961,118 751,196 938,127 929,158 955,185 738,205 702,247 698,340 714,347 1038,204 1042,247 749,224 959,245 673,246 1002,125 999,167 785,210 933,173 753,256 967,318 665,293 1006,190 1030,190 925,201 907,216 984,130 928,237 781,215 930,145 1013,122 744,182 898,117 1003,237 873,191 1007,203 978,293 923,111 1013,257 1015,123 1033,177 921,274 892,295 802,247 755,223 728,285 712,260 1024,118 839,164 923,211 970,284 810,189 670,233 846,189 911,287 918,192 768,252 931,129 692,228 916,323 1044,166 880,237 739,187 956,298 743,146 999,132 943,120 924,263 861,207 658,282 1005,169 721,177 1003,162 807,157 866,236 677,242 958,227 737,178 1039,206 908,290 1016,208 655,365 774,156 869,225 964,200 1004,200 648,160 653,238 695,237 801,216 966,303 934,126 1044,200 1026,254 862,178 784,334 1056,266 759,147 736,230 809,266 722,218 941,162 737,290 990,154 1044,182 1006,230 994,183 663,399 882,129 874,149 842,298 803,253 664,217 898,217 1027,225 1026,170 1047,199 1044,174 892,283 768,285 1025,185 718,264 663,276 884,251 1012,226 1044,214 650,201 807,223 862,242 982,167 1028,148 940,162 695,210 1022,182 649,253 923,306 668,197 863,220 771,221 661,325 680,189 769,311 934,223 1039,136 977,264 1016,272 894,223 951,161 1041,175 862,303 915,237 1008,313 937,284 669,266 726,249 842,171 652,309 1017,114 1039,257 1036,211 760,259 860,315 742,183 960,292 941,225 800,331 656,289 1043,184 1010,224 1037,250 817,151 869,308 823,248 990,163 702,271 1013,123 739,333 720,221 872,174 836,275 982,215 958,226 1019,196 976,319 1040,240 815,283 651,224 817,187 1039,221 1009,182 984,254 653,122 966,118 930,118 787,240 650,268 971,154 825,169 1029,150 786,265 696,166 1037,254 1050,270 703,174 765,135 803,292 720,282 978,143 928,109 1031,128 1018,172 825,271 902,172 903,214 861,191 1000,289 767,327 925,252 972,203 993,118 979,226 966,230 981,294 1033,229 900,148 702,334 974,215 896,208 665,220 860,332 993,240 1012,199 685,376 793,271 727,268 789,192 907,221 1039,202 996,188 807,265 743,284 732,182 949,159 852,258 746,232 726,218 1001,272 1036,212 840,157 675,174 836,274 1029,171 1023,229 962,211 1000,206 879,167 1017,221 923,213 985,246 979,233 837,187 745,298 909,113 1022,225 968,212 981,170 997,159 760,302 1017,283 684,359 696,275 1041,236 1034,222 896,164 984,214 963,156 791,162 1008,198 984,203 937,239 987,226 655,213 949,241 960,250 806,321 990,289 962,199 855,243 972,154 851,230 884,194 798,274 908,148 757,240 1051,169 988,127 1022,141 760,254 786,228 758,217 1000,222 942,226 852,186 900,244 877,243 1019,168 1001,110 793,156 939,294 1019,274 804,177 928,182 1031,312 996,199 815,193 982,216 873,179 1019,281 711,268 1028,185 813,294 987,237 1018,176 1030,176 1023,221 922,171 1040,218 687,236 1002,152 1033,173 826,309 689,280 917,190 905,163 1014,274 961,193 975,222 904,296 747,237 1035,175 1022,183 1050,160 1035,240 1047,291 775,265 826,198 666,260 696,222 773,153 990,277 1028,167 813,240 977,184 957,130 957,211 907,125 838,196 1028,141 981,142 997,216 952,146 799,218 908,325 967,205 947,187 883,128 964,299 664,195 817,207 1019,179 930,192 1012,162 994,202 698,196 1029,192 773,286 759,236 959,305 1002,200 1041,125 965,153 733,283 1015,241 907,224 1037,212 935,166 655,382 899,194 953,163 1037,166 866,199 776,343 894,161 958,143 999,177 983,208 841,221 710,240 671,245 1022,231 934,263 752,271 792,151 1019,154 961,162 806,153 1037,162 799,238 741,246 927,144 727,239 765,131 1017,206 780,183 969,148 1020,253 939,138 942,270 768,144 889,253 1023,162 771,232 864,191 1043,224 892,272 1040,130 977,193 858,157 962,161 1019,253 832,235 1040,207 754,290 869,217 937,183 916,197 1035,259 1046,150 1035,137 952,219 814,237 1034,178 1039,153 904,173 823,275 959,199 1035,301 930,293 935,188 930,229 1027,215 1045,186 946,136 733,211 1017,181 877,284 878,209 719,159 950,150 937,174 946,191 849,204 916,206 916,269 831,313 721,275 979,253 832,181 1030,258 1014,163 967,253 1027,213 986,173 784,153 878,200 760,239 1034,138 822,287 958,179 1034,298 952,209 1009,165 909,164 992,221 942,226 890,242 996,143 999,177 750,352 950,226 961,244 706,260 1046,193 679,213 727,279 949,161 1022,201 793,172 702,252 906,145 825,196 1014,277 728,224 821,182 1032,225 684,382 689,120 754,179 1018,146 1028,235 928,264 853,207 966,209 734,174 947,186 672,192 958,246 988,218 994,130 1034,215 754,288 876,231 766,248 985,174 966,217 850,196 932,322 923,138 844,246 784,204 918,212 987,208 682,210 686,257 958,277 860,176 752,134 1037,201 740,357 1045,149 722,220 1026,155 918,201 982,199 1026,216 921,214 1029,239 1031,153 729,280 987,140 979,187 1008,161 892,218 886,133 1009,217 927,243 841,247 674,230 927,165 844,160 722,286 659,208 923,202 714,202 810,221 979,213 838,239 685,347 770,278 911,147 682,302 793,240 773,338 817,213 921,262 1041,185 726,184 790,337 950,251 687,285 893,293 1018,119 730,155 931,165 723,297 684,191 820,238 670,262 800,273 1021,223 910,192 1039,205 1032,168 1028,120 910,289 782,216 876,255 725,231 1021,131 1009,162 714,169 1040,234 968,179 1040,142 998,169 757,162 1032,257 829,146 948,111 1001,125 788,241 729,285 817,120 1018,198 655,250 740,260 702,372 867,239 1021,185 975,199 892,184 1042,205 833,188 697,272 901,167 1024,221 822,230 865,180 1026,261 972,218 930,142 804,262 819,145 890,212 866,142 1029,159 1015,203 1016,160 834,172 1009,306 1039,191 1002,146 922,263 961,214 884,194 807,314 736,271 950,166 704,183 1035,283 701,357 914,261 676,260 864,151 653,268 1006,151 906,144 675,262 794,237 952,165 726,174 662,265 914,167 648,238 766,257 817,235 965,133 1037,215 906,130 983,169 1000,210 1038,237 999,149 874,233 1047,137 985,128 1028,258 867,209 986,232 922,230 995,178 968,140 1041,176 943,218 760,241 764,248 1018,246 803,260 858,234 924,266 862,181 695,285 1000,170 1046,130 915,259 897,217 764,293 990,213 840,334 974,203 879,195 1025,227 1001,197 923,179 1004,187 750,229 966,158 771,230 1032,187 1039,307 967,223 942,144 1036,185 889,323 810,186 941,144 1005,218 974,310 918,240 788,161 709,285 808,207 928,296 940,281 828,153 943,217 652,325 1023,202 711,294 1040,134 1001,242 1039,162 895,211 831,242 1030,173 794,167 830,268 847,275 1006,194 897,157 1034,230 926,156 1018,236 716,190 1027,270 817,224 746,189 997,213 1030,258 989,171 866,303 866,290 781,271 711,276 759,295 870,210 902,233 1019,156 1024,219 944,297 1024,220 911,210 658,395 811,147 967,166 767,208 932,146 1015,194 936,151 707,202 985,111 860,252 1047,248 1034,204 805,178 708,257 712,253 708,203 748,220 960,161 967,208 1045,209 1021,241 663,154 917,226 873,205 795,174 960,186 658,118 840,169 782,255 746,217 716,176 991,247 981,128 1022,113 975,268 938,302 903,222 654,403 1018,177 976,190 919,134 956,188 799,324 907,196 994,140 661,205 1016,216 938,107 791,322 974,225 693,335 916,142 1021,172 981,286 810,256 905,252 1033,173 1028,171 968,191 865,236 951,193 686,325 670,181 1046,132 1004,183 755,141 952,215 684,188 1028,222 733,216 889,208 716,259 1046,153 765,191 1030,139 959,234 681,379 1038,243 672,234 931,172 686,152 989,201 967,232 675,247 744,282 932,150 663,257 948,217 927,253 1003,175 764,223 789,184 653,281 716,189 880,135 729,219 952,203 854,250 917,178 947,180 1015,208 1016,175 657,305 778,209 1009,145 947,224 1027,205 744,189 1030,124 955,138 900,260 1044,218 972,165 778,159 875,271 953,142 1025,271 799,120 715,220 935,166 1039,194 678,299 661,147 666,306 797,232 1028,203 933,173 982,255 1008,201 729,328 762,265 888,285 841,156 959,248 656,249 1042,210 1036,215 696,233 703,251 977,198 715,126 955,192 1016,220 780,175 769,250 930,245 694,122 1041,166 780,279 782,138 963,221 1006,239 913,190 945,154 900,204 753,300 1007,225 1024,259 721,227 781,186 953,190 713,309 966,150 795,285 890,252 679,357 1038,181 971,221 1021,250 948,179 988,105 706,371 917,264 670,175 674,288 1016,175 864,211 971,262 754,188 776,223 898,258 949,123 915,237 738,189 1034,240 781,301 717,215 738,286 1010,231 943,244 931,204 1038,185 978,121 770,246 922,246 1025,127 668,365 892,204 713,329 831,252 879,241 913,241 954,239 831,196 811,163 996,198 776,171 794,258 959,177 842,168 748,218 1043,290 857,207 1026,195 1011,188 752,322 1031,180 1019,295 1044,254 966,142 904,319 666,241 968,182 840,329 831,209 737,199 978,184 724,182 892,162 953,227 954,158 856,125 965,181 938,150 889,205 1014,200 675,312 930,223 904,172 885,282 1037,123 1027,241 1007,138 1013,280 768,272 997,243 992,232 1032,149 979,292 948,254 976,220 1036,303 650,346 669,345 1025,308 924,310 958,114 888,138 864,222 904,173 956,185 799,156 900,239 741,197 700,190 721,267 957,227 742,171 925,295 694,257 707,175 1032,218 835,217 880,242 1016,131 745,193 757,269 958,216 922,208 964,306 869,161 1046,139 953,148 863,191 1041,240 752,248 1015,205 952,260 867,247 826,274 1036,221 675,277 708,290 940,149 937,194 658,241 983,165 1022,154 1013,186 668,124 765,121 723,157 987,265 804,160 910,151 874,307 808,214 1025,284 947,206 1008,276 746,257 1016,188 696,143 852,261 895,310 765,291 937,208 815,189 910,247 1012,135 952,231 653,252 780,240 782,256 1046,184 811,215 736,200 876,195 936,237 1013,271 898,248 1045,307 947,214 979,148 1040,187 754,199 954,190 1016,176 936,194 1045,183 892,244 914,206 1049,152 900,139 970,237 932,238 1013,184 726,271 755,243 1020,140 1007,224 1042,168 880,158 732,228 688,264 939,208 799,164 802,182 972,111 833,205 989,215 817,219 678,358 1036,274 1009,237 952,251 869,148 927,238 720,124 1036,246 971,283 859,273 1021,171 952,237 924,192 1042,234 724,265 886,207 773,200 694,199 976,174 735,333 832,216 820,270 1004,272 705,156 969,207 673,290 817,136 964,316 1020,187 911,285 996,225 867,137 950,246 678,300 913,279 709,284 852,114 703,210 778,148 955,246 933,239 873,274 700,227 925,217 995,141 976,152 1010,139 662,218 973,166 1018,245 843,283 984,233 661,326 728,164 1002,201 793,332 651,404 748,135 1025,165 1051,219 997,283 886,133 1017,311 829,183 770,215 1012,160 781,208 957,191 943,173 895,146 1038,193 989,179 838,188 711,356 748,337 909,141 815,120 652,402 722,285 1045,235 974,256 976,178 697,331 807,146 749,353 962,179 763,303 746,292 675,123 959,305 657,286 739,319 977,244 924,254 678,197 884,185 912,182 935,167 838,168 766,228 696,321 859,243 770,309 1016,207 745,278 970,207 725,145 650,305 928,155 698,183 833,272 851,248 822,206 767,271 1044,217 883,232 863,303 1003,150 890,251 774,278 1021,157 985,198 766,227 1027,191 897,158 878,215 828,191 836,155 734,226 1022,201 890,182 735,146 1042,302 918,245 805,283 896,232 958,237 1009,147 1009,242 1044,242 984,226 750,217 887,269 995,248 674,191 996,118 766,188 930,213 819,211 932,228 1014,287 743,120 700,236 677,231 862,245 848,206 695,268 789,252 934,144 973,163 970,291 974,155 1026,240 1045,177 1040,216 1053,285 740,151 789,311 658,286 987,189 656,177 1037,147 754,130 1012,193 868,166 867,169 995,123 1002,181 977,189 1003,178 710,260 655,154 869,155 969,209 1028,150 652,249 682,280 1035,250 1001,223 833,222 724,291 840,128 895,163 841,334 781,231 978,250 1023,255 806,253 1013,164 1004,266 910,187 856,221 933,265 953,315 674,238 926,194 899,186 885,257 1028,266 1042,193 863,258 984,195 876,175 985,205 1020,122 743,239 904,209 1028,193 1000,228 879,209 655,145 947,219 799,291 975,165 715,200 659,306 998,243 970,182 761,238 901,207 664,288 950,215 967,202 672,314 1033,245 963,278 685,341 767,222 1019,183 903,261 938,121 772,339 999,282 884,229 1039,263 726,255 875,227 978,131 715,357 658,219 1024,122 991,219 1040,229 852,317 923,148 963,231 915,207 979,191 1023,250 1030,257 931,260 983,274 891,165 740,171 727,163 696,211 974,267 791,220 984,171 807,273 1043,294 910,167 705,161 940,179 882,184 897,123 961,156 1037,155 889,152 988,196 1023,197 819,202 729,277 672,161 981,256 703,127 945,179 944,201 962,175 847,236 1029,210 1033,208 955,188 783,168 991,243 753,330 1022,269 892,236 800,309 823,169 852,213 939,190 878,232 976,243 777,324 863,132 973,246 984,280 788,224 975,155 908,271 778,159 931,220 1000,158 849,158 933,237 922,180 724,215 727,328 806,139 883,115 953,149 988,219 963,133 994,167 711,280 804,310 826,241 657,288 956,178 1013,277 672,244 1002,253 957,214 816,161 657,211 847,161 655,258 736,236 912,137 1006,221 1020,233 886,286 977,243 1034,231 960,171 842,294 931,144 1010,246 1034,191 1015,115 672,228 997,170 755,252 654,243 712,248 740,288 992,199 757,265 909,284 946,167 835,189 714,259 671,378 976,202 893,148 773,208 971,179 651,358 758,313 867,330 1016,266 1041,198 846,295 970,197 1017,270 696,121 831,238 944,202 652,375 960,257 987,168 1035,202 734,279 779,266 980,211 945,119 940,135 705,320 665,257 882,142 727,276 675,297 1029,200 666,192 788,230 1021,163 692,238 1012,236 1028,226 979,207 841,326 1032,145 1024,307 895,266 804,265 1020,202 983,301 989,122 966,168 946,192 1010,207 730,276 792,331 1038,159 995,203 934,117 849,236 878,250 882,136 961,188 873,279 974,219 1030,185 951,297 755,332 1000,173 874,184 738,246 985,164 923,220 1019,237 867,285 698,201 702,336 709,222 975,180 778,189 667,186 1003,151 716,314 796,169 781,236 857,141 906,184 848,135 997,187 879,137 651,245 1001,239 813,334 1022,216 911,239 697,246 965,193 813,229 751,254 670,272 1033,188 709,257 833,253 844,119 1036,223 682,252 684,299 782,154 1038,192 1020,271 938,161 678,343 790,292 1012,111 719,266 679,168 1030,211 711,220 834,245 872,162 729,238 684,184 779,194 699,152 921,270 649,296 1014,144 1014,163 991,176 969,204 780,145 856,254 1042,149 936,229 1047,220 995,250 877,317 705,210 1037,283 959,158 1010,157 868,227 1027,218 882,230 995,212 845,155 846,248 685,246 829,237 905,163 742,122 955,183 999,231 868,209 1033,295 842,314 658,348 1037,212 917,186 972,239 958,178 897,249 971,188 1003,156 720,356 685,296 1017,244 966,180 1016,124 990,233 791,284 1041,170 732,317 662,264 899,147 707,125 1028,175 911,199 727,286 1017,160 903,289 876,127 939,194 976,106 921,223 1023,191 696,261 682,171 1044,172 1019,196 1004,115 968,169 774,254 742,212 985,207 1019,194 947,260 1007,211 752,129 1008,251 687,274 682,242 983,311 880,163 1008,191 1017,202 993,313 844,288 955,275 766,236 681,277 880,235 771,191 960,210 847,138 1003,284 720,261 661,150 908,210 1039,189 1011,282 985,211 699,380 989,145 818,139 1047,162 899,234 1002,267 795,240 709,212 888,202 729,141 840,179 811,186 960,197 725,231 846,210 790,201 770,269 861,217 1027,221 861,328 1042,203 989,291 762,264 1046,278 822,321 764,284 755,303 757,203 1025,179 1004,115 652,297 934,166 1006,282 1017,139 986,178 779,298 1038,193 712,159 736,331 987,200 992,119 679,270 716,311 996,196 1042,179 827,230 780,236 926,272 792,315 913,282 784,222 987,147 1006,253 1008,151 831,199 927,113 982,143 947,213 1008,193 784,161 1028,229 797,200 853,188 826,241 794,191 754,252 955,157 649,184 840,277 906,141 1034,177 964,141 993,230 720,258 756,271 973,168 1035,277 729,223 847,247 684,177 894,133 956,213 707,288 862,313 981,251 911,297 1002,246 947,309 894,163 830,249 969,143 1013,193 960,229 977,121 822,273 700,259 1037,192 878,288 866,209 661,304 737,237 997,154 936,278 966,120 1021,294 1017,170 898,130 911,145 961,246 905,173 959,151 924,258 954,124 656,284 802,191 1031,199 887,166 766,175 910,279 997,124 782,232 726,321 1032,200 881,146 997,187 967,169 750,253 767,299 829,273 1042,206 687,189 985,143 1002,201 962,297 691,269 683,210 901,221 966,140 1027,168 945,236 774,198 715,266 780,335 760,218 997,158 1001,271 923,310 938,228 835,308 723,203 919,280 998,185 946,236 698,247 932,167 898,239 722,301 713,256 1024,178 1039,129 946,222 702,256 737,287 971,216 954,140 916,263 1012,280 804,165 1039,168 1024,137 854,187 713,320 696,265 816,281 957,220 896,219 825,221 658,378 778,211 887,223 659,215 1039,168 851,263 1042,166 982,277 763,161 1043,206 1040,146 1043,187 823,121 781,248 785,245 682,158 826,185 995,220 742,152 1032,226 935,237 989,230 993,115 967,124 1028,194 676,256 863,253 1034,220 1029,244 1024,175 937,203 832,254 1044,211 1008,220 877,254 890,176 1027,210 892,229 888,224 722,208 1022,166 956,276 1015,141 974,170 997,257 726,279 820,279 1038,222 1039,238 1037,231 784,223 1024,192 1046,274 751,231 900,180 883,307 1028,166 934,155 1024,224 1020,167 676,274 964,205 951,218 956,209 770,232 831,216 691,290 1036,275 1044,127 1019,211 811,205 983,129 955,241 654,155 996,195 980,228 1011,251 986,161 1001,178 1012,236 852,261 996,204 893,195 865,190 976,135 902,151 1041,222 769,193 926,111 728,221 845,150 1007,204 1005,240 870,282 949,219 1019,196 1004,132 903,167 1004,313 655,237 704,161 717,198 869,167 818,274 748,254 648,233 839,140 957,154 885,215 894,272 657,233 913,197 1039,259 782,310 743,121 944,268 734,126 924,151 859,246 939,186 1014,219 848,233 1030,181 957,293 895,183 937,119 804,166 850,134 671,223 1042,283 1026,286 992,210 970,161 931,253 982,210 836,194 988,284 970,258 816,294 800,156 1012,132 928,187 1051,226 895,113 999,194 927,236 979,141 698,212 723,271 697,236 754,268 821,206 948,237 655,161 796,318 1007,285 918,160 717,191 997,157 737,234 747,218 1029,132 1016,223 947,182 856,127 816,247 972,118 933,119 947,213 755,165 968,225 1044,182 942,217 672,377 981,226 1046,251 986,122 876,234 1042,187 970,164 1001,213 911,141 953,199 1035,221 693,124 971,151 656,275 959,192 916,300 851,280 753,230 907,181 1025,127 1045,161 987,230 949,229 998,186 965,225 768,262 863,212 752,123 891,220 704,177 926,162 994,305 670,330 1001,228 921,181 886,142 1025,167 707,363 1041,181 722,150 670,367 962,180 1004,215 980,115 684,203 970,222 977,259 904,236 977,209 862,267 1035,168 935,204 913,230 961,154 934,240 749,309 967,204 653,369 876,242 1003,118 962,264 803,147 763,274 748,180 742,240 661,348 1008,147 1007,162 995,242 741,210 982,221 817,222 873,227 949,153 985,265 659,147 1045,241 688,182 1002,193 678,249 907,205 753,254 995,152 1011,277 912,132 1041,171 927,191 895,174 751,324 995,278 654,318 1025,190 981,176 685,313 1029,156 1017,221 892,295 854,180 951,184 741,178 1019,266 872,158 776,285 967,228 956,178 1005,123 971,144 997,151 910,201 774,162 1032,224 686,217 805,279 938,230 1053,209 768,219 694,380 1038,302 955,220 1048,208 829,188 1000,270 956,154 929,288 935,115 900,264 723,337 914,246 766,137 835,207 981,229 749,269 1009,232 979,127 1007,205 875,214 912,182 817,168 935,234 996,196 1007,201 972,211 918,305 1011,242 850,187 1011,267 960,194 923,270 1014,246 993,208 991,192 934,199 977,137 739,177 1025,153 889,237 829,330 964,206 1037,250 765,278 947,131 1020,206 796,237 1013,178 706,263 1009,236 941,243 824,232 664,148 680,374 1007,197 1036,257 1038,204 1043,217 962,199 939,145 845,222 969,152 876,173 657,385 725,323 1012,195 699,184 828,200 994,201 764,335 704,280 1040,260 688,178 1035,186 1002,249 986,142 890,230 1003,229 1010,188 954,169 946,188 831,301 1031,196 1025,212 686,245 812,318 1036,248 1000,221 727,297 668,217 798,185 931,264 998,209 1018,180 758,229 672,177 998,182 678,322 736,256 992,280 1025,144 869,184 672,278 876,175 976,190 867,251 986,227 970,223 685,279 763,287 696,213 808,231 1044,246 963,222 962,194 997,133 1012,169 1022,146 941,210 954,137 1006,113 985,291 911,135 896,258 911,169 850,185 902,272 901,248 968,303 678,220 712,175 858,236 1025,240 980,250 966,234 929,182 1024,173 925,264 786,263 853,271 985,169 924,155 841,158 727,216 946,241 1037,192 1042,224 748,274 1027,199 771,284 877,191 1038,231 830,284 918,283 804,172 967,212 1044,225 859,137 651,169 1028,161 876,180 735,295 711,164 1000,238 895,159 1028,217 796,272 1019,229 1002,270 1031,211 1016,278 707,329 997,188 969,170 1017,154 662,326 892,200 989,209 964,189 913,268 916,216 927,252 1033,222 874,176 872,139 814,333 660,393 712,279 778,273 1016,175 976,138 1004,209 778,233 921,258 766,175 973,171 938,205 1009,115 835,301 649,388 787,288 934,191 900,267 906,180 1000,179 907,260 699,233 657,290 730,134 792,277 1032,155 896,177 924,313 907,210 1030,205 997,139 701,280 942,194 1044,170 861,171 916,180 901,140 812,230 983,317 900,215 851,228 892,241 1018,185 799,252 661,300 657,215 951,293 993,228 1031,139 816,169 705,336 794,299 762,219 1045,262 930,114 1025,196 923,194 826,270 887,197 927,197 907,197 759,327 968,269 820,281 758,327 703,249 1046,129 1032,195 976,238 1029,124 1003,213 746,260 975,140 858,263 953,318 872,144 719,194 985,244 1032,174 970,271 748,165 1037,239 935,241 835,231 958,214 886,130 969,130 990,265 761,258 1002,137 962,138 884,132 791,216 1022,207 991,121 981,255 1007,186 941,285 840,124 1046,163 912,116 1032,177 935,249 1015,211 753,242 1008,113 732,168 976,144 983,245 718,219 841,184 991,162 835,228 1037,215 991,195 882,200 866,189 1038,193 1000,255 810,203 1001,190 854,167 781,197 1012,276 672,336 664,219 774,295 868,139 654,281 922,134 760,264 1031,195 674,195 813,140 840,152 971,181 949,163 1005,176 954,305 919,174 1026,200 854,208 665,257 783,270 822,231 967,213 670,209 799,214 1010,258 746,213 820,207 909,146 1002,128 857,266 675,255 1040,207 976,214 1046,274 978,199 843,313 909,247 934,209 880,159 888,165 699,149 715,291 1028,137 961,219 988,230 962,235 970,215 909,124 666,243 668,303 655,328 885,261 1022,160 713,266 989,156 1000,221 757,274 863,225 685,225 905,324 800,281 960,158 1002,305 656,133 930,215 663,305 970,215 963,280 984,160 1044,160 652,211 953,249 913,193 1016,226 985,241 956,129 786,167 983,138 863,225 724,211 656,278 927,211 752,269 1038,167 825,232 923,188 929,248 949,171 989,254 916,176 698,274 1020,225 1037,164 893,304 1039,208 651,305 826,262 970,209 986,179 944,269 800,204 945,168 919,290 954,209 969,182 817,161 945,232 923,199 928,194 1009,156 960,168 936,169 858,227 903,218 901,288 918,210 786,189 820,243 1030,293 778,277 995,241 755,157 1018,133 913,243 1033,119 986,254 742,241 990,276 966,286 979,219 970,248 987,186 947,132 1030,293 787,242 857,229 1002,211 989,288 1042,156 751,130 1023,146 664,200 1012,150 875,290 820,291 1021,210 656,161 862,239 1002,127 848,255 997,145 731,200 948,292 1019,180 944,222 979,139 1010,127 812,270 895,130 946,169 835,183 902,130 786,220 785,213 888,131 989,213 843,184 782,264 1015,141 1004,220 1021,127 720,276 1031,182 939,215 974,272 829,283 840,206 954,151 991,314 1037,214 692,303 957,222 725,191 896,204 860,238 680,151 931,185 666,154 1030,252 1008,137 684,384 835,246 946,165 996,144 1033,214 846,206 1012,177 869,205 1036,298 941,268 975,233 747,297 1009,258 904,251 927,190 891,227 965,259 910,255 939,259 913,215 726,176 1041,155 939,275 1043,199 919,238 1004,257 838,241 804,129 990,182 684,155 852,146 983,174 1015,287 1021,236 996,170 845,262 937,131 971,304 771,171 968,153 1025,218 1035,187 895,176 862,323 808,226 1034,216 837,312 914,165 934,281 942,198 650,185 1036,151 700,121 904,164 954,282 823,240 1037,292 975,217 888,270 1031,157 1011,214 744,226 721,251 1046,248 754,269 756,133 931,203 761,122 684,265 855,203 941,116 1042,187 755,220 1036,198 838,245 891,201 924,196 689,301 944,155 649,404 1038,138 893,233 1040,220 836,215 899,195 943,185 963,208 964,198 714,317 766,167 993,202 694,253 997,149 847,184 993,198 986,190 1041,288 880,329 997,143 1000,258 1023,214 833,176 804,245 852,181 1001,199 1003,165 943,118 820,332 788,303 987,163 802,146 745,320 713,282 987,257 997,265 650,316 1033,252 935,153 688,267 654,199 1027,240 703,124 1022,132 853,218 912,245 697,143 1001,110 752,135 956,193 771,223 1040,178 1041,259 980,183 1030,152 768,213 1020,124 745,250 1023,239 681,289 917,316 791,269 1028,162 689,306 909,152 729,145 949,184 894,288 794,138 824,173 923,241 1037,138 936,217 852,163 695,179 707,235 921,247 976,291 997,187 1003,292 677,175 989,140 988,186 874,235 994,236 937,263 820,167 1016,150 925,177 1013,202 1007,153 958,166 1027,144 678,282 999,122 818,158 1033,247 1044,166 826,236 711,267 696,286 719,234 650,356 749,225 1001,154 650,330 720,238 991,158 920,151 841,162 1040,213 780,266 678,268 721,296 937,187 930,287 1004,285 795,230 982,177 691,330 1006,169 973,195 673,273 1007,199 652,302 767,246 847,313 924,225 778,276 755,281 796,195 1000,254 736,244 1039,145 984,176 825,276 990,129 995,170 1008,155 932,149 894,186 1028,267 935,254 1030,157 656,376 654,225 1009,174 1000,135 984,156 971,143 968,193 662,330 698,254 984,245 706,182 749,198 962,176 936,125 1042,186 863,167 913,137 904,175 763,267 846,281 964,128 1022,230 826,241 1008,188 916,275 975,144 934,117 849,281 1022,260 652,294 719,262 888,152 1033,176 960,164 755,150 844,218 1024,180 664,390 1021,283 1010,186 859,208 961,114 862,218 733,318 952,239 995,210 972,242 938,214 999,141 826,256 997,178 814,265 817,143 947,262 952,255 1036,247 772,181 1013,243 980,242 902,184 905,223 947,159 993,166 1034,120 651,162 780,135 940,155 701,186 953,265 901,243 1025,202 681,294 1041,256 816,259 909,210 911,267 1036,199 961,225 662,283 974,322 940,288 1043,215 1016,128 682,218 910,274 667,252 997,118 881,257 878,194 934,229 1033,271 836,242 691,225 875,204 1036,144 892,189 989,170 697,212 701,164 1030,175 661,388 943,252 1004,149 935,186 750,277 987,128 777,244 699,306 789,129 719,248 1048,217 955,201 982,207 805,212 838,291 714,264 649,241 1044,305 1036,150 815,303 988,156 927,151 767,163 991,238 801,242 843,133 792,195 1036,280 977,223 889,162 1013,192 902,182 692,308 742,194 695,353 703,245 1021,136 723,202 811,173 915,157 1040,157 689,233 959,239 1024,200 985,200 1019,246 746,212 815,234 765,257 748,346 853,194 1018,123 884,287 746,181 816,298 804,243 691,278 755,274 1026,164 665,171 961,226 1000,262 877,233 945,230 928,221 1047,249 1024,133 773,194 806,191 1044,285 985,207 1040,201 756,251 745,237 1006,186 653,365 966,126 744,272 707,344 894,152 650,266 994,248 828,290 951,231 1015,151 1017,240 723,245 730,328 730,281 944,267 1046,274 992,246 733,222 649,387 1010,248 890,203 842,210 726,271 1021,224 956,196 868,230 995,292 1005,126 1001,161 1009,208 957,240 873,149 669,286 988,301 930,145 705,268 707,284 1010,231 748,297 1030,272 928,303 851,249 652,298 926,209 702,334 807,163 775,285 1041,195 829,332 821,262 1025,206 1016,111 971,211 860,214 881,253 866,211 740,253 935,240 840,221 765,267 880,208 1025,221 961,154 1026,134 967,190 867,291 699,282 686,215 1019,140 1036,139 775,194 829,227 695,368 921,147 915,217 920,293 985,188 934,150 1004,147 1040,290 995,242 768,223 1030,181 810,167 716,209 1025,243 935,214 1020,200 680,142 693,257 966,239 974,187 997,199 758,258 1027,216 1037,216 853,220 1002,263 794,119 678,222 1018,185 692,206 998,191 720,292 776,123 782,176 978,195 675,217 824,227 914,207 650,348 915,254 728,214 857,163 957,162 885,296 958,116 657,166 1043,269 694,169 1013,120 834,253 909,193 817,208 847,252 905,251 985,128 805,188 775,151 980,149 667,306 982,149 732,162 1001,197 821,168 893,193 869,144 997,137 761,179 660,262 780,321 1013,122 820,221 1045,166 1038,202 1015,180 974,222 1026,219 844,218 1041,131 944,205 999,246 1026,157 873,164 939,144 721,279 1001,213 975,177 938,171 1017,155 695,278 907,180 1016,237 654,376 1034,148 1006,215 936,225 1011,312 915,180 1010,148 820,139 654,240 986,244 986,217 1005,210 1014,284 958,184 648,341 947,266 717,175 682,285 815,131 1025,152 1025,298 813,241 1012,184 1021,171 1005,277 777,293 902,294 870,297 759,229 791,331 792,215 1036,291 970,144 1041,203 986,250 971,282 881,262 673,231 1015,226 755,222 774,206 701,217 739,227 1011,218 1045,142 835,282 1037,166 900,264 794,180 905,210 756,217 881,273 877,264 698,248 1020,266 995,285 955,222 902,191 1019,184 793,290 972,149 826,202 729,223 995,234 953,316 709,224 945,151 977,209 1024,157 975,151 679,365 877,256 864,198 882,202 681,271 911,216 812,249 847,296 1025,194 702,149 924,201 1045,190 956,248 849,277 1032,173 959,260 963,180 812,229 944,191 658,245 1048,160 726,223 675,333 1051,229 1007,178 909,117 969,132 704,280 907,251 999,162 656,195 880,266 968,221 659,264 1003,141 703,227 980,189 1030,144 719,139 895,204 953,186 946,243 988,187 1011,255 1020,268 1023,184 1024,244 983,149 662,360 968,175 1001,183 1010,234 705,207 711,328 723,190 763,220 937,129 898,188 864,221 928,323 649,159 719,251 1027,193 842,279 882,256 664,146 715,189 1035,199 979,298 725,344 697,193 670,225 965,163 796,236 1021,208 677,247 1031,157 1011,142 976,220 1039,177 921,156 1026,134 988,235 953,144 801,285 1028,216 699,292 958,308 681,311 1025,241 907,186 1022,149 746,186 1036,263 928,202 1043,206 988,162 1045,248 942,263 745,264 1015,155 935,136 685,255 1002,177 943,190 1027,242 787,181 1009,207 779,177 966,223 803,169 835,305 827,230 905,249 805,238 1012,143 973,225 982,172 937,230 848,281 699,253 874,272 1038,203 751,252 864,210 996,266 1053,235 956,197 945,147 883,230 724,161 664,376 1019,242 660,304 946,243 1031,187 660,211 884,291 890,150 1039,156 890,175 919,219 660,363 995,164 997,227 1014,267 677,242 764,261 907,132 972,212 686,143 860,158 687,237 1018,160 962,203 964,274 949,285 979,172 917,112 1019,251 1041,189 704,132 1010,183 809,140 1027,218 833,311 1026,238 966,272 1033,262 887,219 1036,200 683,245 681,238 1026,156 1027,160 826,326 658,239 951,244 697,257 912,201 745,213 881,128 972,211 1016,281 721,290 938,276 936,238 728,248 922,230 1033,198 679,218 1023,245 862,151 1036,198 807,151 1009,195 986,210 834,158 802,184 899,130 906,199 859,333 915,204 737,164 992,235 1041,153 949,240 667,125 798,283 781,289 976,250 948,251 1045,210 882,269 896,178 917,159 871,242 688,297 848,271 991,170 682,322 996,245 660,324 834,256 727,152 766,299 851,265 1020,287 944,239 960,268 1046,184 1029,213 808,196 1016,275 1038,246 749,246 1032,147 935,245 754,228 987,151 799,167 1017,214 701,199 662,218 927,261 1010,125 1014,179 973,131 1016,170 778,235 831,211 900,263 947,205 900,175 1025,226 1018,286 842,223 785,170 962,244 889,217 803,130 1045,139 1016,241 943,199 705,130 699,268 883,232 673,222 879,249 1019,265 680,244 1046,213 659,262 961,212 910,186 962,236 1030,167 1018,188 817,160 767,209 1016,152 825,196 1012,223 995,230 770,276 733,155 1020,265 728,140 742,284 950,175 975,124 1016,200 995,192 1047,249 778,184 1003,121 1006,147 996,162 949,237 671,217 1038,172 718,240 926,174 922,171 856,219 938,241 959,173 695,154 982,223 737,266 991,204 1018,178 1016,167 945,276 1020,142 1045,225 791,219 1010,143 1034,170 672,287 893,176 916,226 1013,247 1036,180 1007,153 1015,177 759,184 705,303 660,292 704,204 1021,142 963,207 755,200 1015,157 828,216 742,280 1037,166 860,148 918,263 706,205 977,129 876,244 993,217 794,230 973,210 1035,300 1034,194 880,243 1007,128 934,280 750,232 974,248 923,240 1019,114 905,155 961,197 699,249 1042,204 846,186 783,152 1037,197 1035,191 758,227 991,201 895,146 871,211 980,127 914,136 847,241 995,198 854,244 839,210 928,179 905,253 954,246 925,132 672,157 910,233 940,131 795,231 720,175 947,177 1014,244 775,253 763,268 879,123 992,154 806,274 985,197 898,253 749,356 993,213 1009,138 795,204 820,166 982,113 771,198 974,155 866,186 795,129 659,228 957,209 741,211 931,182 1013,167 929,261 896,319 1035,172 982,160 962,254 1039,173 891,199 776,211 977,178 1041,165 988,313 930,143 988,224 754,251 1015,111 1038,129 1046,222 948,140 880,232 998,211 708,142 1020,223 726,301 908,207 930,127 677,262 665,261 973,268 970,256 1025,208 892,269 667,286 1037,260 764,309 715,292 691,146 862,146 770,272 772,242 929,321 950,289 704,276 693,192 758,269 927,128 948,207 966,244 1022,210 966,234 976,278 950,162 824,238 1003,228 845,206 721,362 988,175 710,220 653,229 863,293 1012,183 1041,189 1013,148 697,170 1027,308 649,244 802,248 802,345 940,244 762,342 977,199 857,156 1051,182 686,261 756,306 1019,270 649,269 1008,169 683,267 1047,276 929,147 1010,168 698,267 699,280 720,264 995,187 996,189 979,262 689,120 751,183 949,148 937,302 1037,196 816,153 908,209 912,147 924,171 1031,186 982,284 651,298 934,224 833,324 874,291 854,300 1030,245 868,152 998,139 811,255 1003,248 956,165 783,292 815,163 984,268 996,159 1039,151 824,272 968,111 704,149 760,281 831,255 783,186 961,254 983,200 799,181 668,316 1037,148 943,163 667,322 992,258 773,223 964,116 1034,137 783,275 896,166 678,289 790,204 1015,240 984,167 1008,153 977,158 1048,228 900,167 949,191 992,124 952,310 819,246 1041,149 987,279 970,139 842,332 767,220 856,155 970,241 812,238 829,218 659,296 949,246 683,264 759,141 996,112 998,308 1005,194 697,361 794,217 879,216 662,226 953,136 931,248 840,236 980,160 998,131 831,213 877,207 940,235 974,172 785,202 714,326 935,242 886,199 900,187 961,237 967,318 942,132 1024,258 1030,199 959,274 938,243 873,178 1023,182 731,235 834,175 742,201 759,348 909,164 976,313 858,158 964,186 1044,215 948,281 1037,204 958,199 951,143 1036,143 953,258 1014,159 818,262 721,331 1024,233 1014,198 753,176 1045,135 960,232 812,147 983,284 934,214 1036,244 1037,248 818,115 699,273 1032,131 1031,167 1049,226 976,187 929,171 863,219 967,161 653,220 1045,199 842,206 698,365 984,176 891,178 712,214 853,182 777,340 1022,184 929,215 838,155 1016,205 746,213 1017,270 988,194 650,124 1042,249 963,182 775,169 1048,181 1032,140 926,187 913,132 1022,138 886,145 1019,121 1013,233 797,267 853,220 991,224 703,208 981,152 767,183 985,194 727,291 949,229 999,242 788,327 843,327 1038,166 847,174 751,227 655,187 660,273 984,251 1034,136 863,117 964,167 703,363 1000,294 840,142 1018,198 963,124 676,206 985,146 872,216 957,235 1009,206 903,151 958,212 1024,166 760,210 962,138 1043,249 948,162 960,188 1026,284 682,238 991,202 969,245 1024,118 733,243 963,188 696,209 993,157 874,208 905,324 913,267 985,119 849,155 911,220 1004,173 1028,229 815,296 863,135 954,174 676,355 1004,222 1035,145 1019,132 1001,184 977,252 748,153 951,166 969,156 949,283 868,254 892,174 667,364 708,289 1054,190 946,127 998,146 837,302 860,280 926,192 1037,229 681,231 952,268 931,206 999,293 836,125 949,251 778,256 826,261 652,292 1019,150 1018,295 812,154 657,245 966,148 878,252 1030,237 798,226 841,164 845,251 928,218 976,235 686,211 699,341 1043,265 905,186 663,158 795,244 958,230 962,239 674,361 1011,158 988,165 899,285 1022,209 902,151 945,227 981,134 1003,154 1003,208 1003,262 1038,243 1032,266 1014,287 870,158 984,145 908,254 799,221 1012,291 827,175 779,336 677,357 864,206 1001,142 680,299 658,230 716,141 933,210 754,265 975,210 962,134 905,250 835,275 948,173 1036,231 898,177 1024,191 989,230 752,234 673,170 914,154 659,267 848,211 719,309 959,137 680,282 1001,259 987,166 1012,190 1047,233 790,269 933,219 960,244 997,184 682,283 923,211 794,241 772,172 1017,206 731,174 1022,192 926,135 667,293 905,240 953,275 1037,234 816,140 942,218 977,141 757,300 989,237 875,192 953,200 984,203 820,153 772,268 1043,218 788,327 930,275 805,196 993,148 856,233 1019,196 864,297 1036,153 854,154 885,139 710,263 847,155 1046,172 948,200 755,249 916,169 937,278 806,202 705,267 657,255 714,240 688,277 880,148 949,202 653,269 745,289 803,277 910,255 980,263 1037,145 1047,235 675,292 850,302 760,159 705,259 1016,158 987,146 849,255 966,223 1015,145 723,234 661,329 889,211 825,268 968,235 769,182 977,247 761,226 956,158 1036,156 753,162 1012,256 816,239 740,190 979,198 966,201 689,187 1023,208 1014,233 1037,213 932,291 713,301 923,187 1022,215 954,130 922,232 984,155 1028,203 680,278 947,149 771,126 887,197 657,193 672,305 848,211 704,308 900,187 722,291 668,205 764,301 979,150 953,314 855,251 1014,146 1014,274 878,198 943,207 987,188 747,220 689,194 879,268 678,216 1028,187 1038,291 665,395 918,224 778,224 736,285 978,198 895,287 952,136 955,228 1040,156 724,167 673,275 985,201 771,205 962,175 1009,110 989,300 972,204 1018,121 1035,245 676,276 678,181 984,174 1017,220 852,219 708,226 793,235 1033,303 738,183 975,144 723,139 665,398 814,213 959,136 720,167 1037,235 774,290 931,198 1034,164 1001,266 818,165 991,175 658,140 668,183 750,292 865,173 814,191 785,251 983,180 949,256 923,151 679,363 1037,185 782,232 766,205 899,304 931,169 983,188 734,127 879,160 729,260 904,325 1015,176 1018,123 764,298 861,161 763,257 1044,220 986,235 687,207 918,183 1010,208 973,194 909,206 817,170 800,253 1001,143 901,326 947,210 821,320 758,240 715,269 674,161 709,144 930,158 702,379 952,117 864,272 736,189 1031,175 996,189 700,164 652,257 925,239 655,279 943,110 942,156 1015,208 742,167 922,145 1025,143 753,242 937,172 912,230 874,227 825,210 813,259 955,260 885,222 860,183 1022,229 865,253 1010,201 657,238 667,241 1004,215 959,177 972,193 989,225 829,279 1011,127 874,203 993,212 723,121 1025,271 983,157 1026,286 1001,291 667,210 860,232 965,208 663,371 968,257 1013,165 910,159 936,211 903,157 795,148 1040,263 831,169 763,216 1032,241 901,320 930,145 909,180 854,270 964,274 997,116 896,217 789,220 852,244 974,118 715,250 651,189 1024,239 979,148 666,336 970,183 676,278 981,163 792,238 1019,285 964,113 740,247 861,252 868,177 696,268 1017,220 893,184 743,278 743,272 937,218 1005,231 823,141 837,282 991,193 1013,207 961,157 1042,195 976,209 793,225 921,129 1000,270 1041,140 652,295 915,323 1030,132 961,196 922,144 1038,255 649,253 836,131 1037,208 968,227 1006,152 825,238 809,166 1033,306 989,277 963,253 1053,199 882,229 754,300 825,286 951,129 968,223 959,155 874,126 1038,253 825,261 666,251 773,272 673,213 676,258 820,298 651,414 1020,183 657,163 950,173 981,232 867,167 667,302 676,166 1029,189 729,256 866,130 1014,248 732,293 912,156 656,191 1040,295 660,325 1002,239 816,197 852,212 879,125 807,157 977,250 1037,232 891,190 805,232 965,242 794,121 861,128 669,264 941,118 923,236 1013,126 997,307 875,304 1015,277 665,213 1000,183 717,218 935,191 1041,261 975,250 950,227 1006,238 794,133 815,146 813,240 823,285 649,239 764,243 997,215 909,314 795,236 662,316 720,272 1011,248 735,194 918,132 920,212 680,162 895,132 954,186 697,255 854,308 910,165 968,186 985,192 668,380 781,121 839,309 989,123 897,187 1018,225 857,201 973,218 1018,145 689,271 816,166 737,272 817,189 1015,201 659,248 1046,222 1015,192 977,133 737,142 882,247 1015,123 987,205 888,188 675,238 942,138 840,236 993,274 864,271 895,146 1008,148 967,217 914,300 923,160 929,135 735,266 964,256 895,270 934,131 735,237 809,133 688,275 1000,241 1039,215 1012,141 982,224 698,144 1020,268 1038,153 971,117 727,216 1016,183 871,206 1044,177 659,199 963,106 793,246 654,179 1023,193 904,156 678,262 670,174 976,248 725,294 722,257 947,270 836,262 1017,133 655,125 831,269 938,268 968,204 785,283 953,202 1005,180 867,266 1046,204 1005,265 876,246 789,209 696,367 908,268 918,234 728,300 954,293 896,227 1001,224 936,233 944,211 885,284 857,163 965,176 1001,149 1031,148 845,184 713,194 782,236 951,214 792,211 912,150 1012,281 956,201 898,221 1043,148 919,277 955,155 1025,225 664,184 1033,239 964,166 942,193 1000,175 732,280 807,219 913,259 749,179 669,282 776,134 780,177 981,213 996,138 988,169 806,200 907,124 994,202 951,178 654,398 1002,214 1023,185 706,281 907,203 989,254 911,231 1036,168 1032,151 1043,183 811,210 885,210 999,199 851,328 1006,203 676,216 963,197 797,252 739,342 910,179 875,112 961,141 869,214 985,266 908,174 985,261 818,254 922,166 649,303 945,151 871,224 977,243 883,237 658,292 975,230 1017,252 1012,155 996,157 1017,139 1009,187 806,242 936,306 843,155 690,356 697,239 988,182 844,223 1014,290 1002,173 699,221 1037,170 946,232 878,136 942,207 964,161 950,236 797,123 998,116 990,123 786,244 780,133 837,264 1014,187 1014,210 879,190 1016,155 987,207 936,207 1043,216 1024,238 674,123 972,306 747,327 1040,180 651,205 693,199 882,244 979,210 690,192 975,282 1029,133 733,140 966,108 780,252 1029,211 653,396 752,348 658,290 1046,262 992,257 1040,193 722,331 981,202 985,137 843,273 913,242 755,249 740,124 902,329 1002,154 930,177 1042,222 962,160 782,296 875,233 714,344 820,339 912,255 843,233 887,156 658,169 848,155 893,287 987,170 782,149 886,284 949,165 677,198 964,254 978,233 1032,134 838,130 1005,114 912,244 654,180 760,233 956,130 680,278 908,248 1027,217 907,239 980,139 831,255 964,119 910,264 926,204 930,206 795,177 1044,125 999,259 966,175 802,253 878,121 1016,158 957,266 979,251 959,203 749,238 909,252 783,217 1031,231 1000,154 961,114 705,341 980,130 823,176 918,209 658,136 1011,138 801,206 925,314 978,317 854,246 938,131 958,290 898,167 1023,238 1036,293 815,158 897,286 1019,252 1031,230 925,148 878,258 966,257 691,156 984,233 654,256 1013,205 991,203 758,158 799,183 913,256 849,246 975,177 1030,224 712,251 757,332 656,133 709,318 927,229 673,255 872,185 716,257 686,172 976,167 926,185 972,133 991,207 760,247 948,207 888,151 950,121 985,215 976,186 849,240 994,131 744,315 937,126 973,139 741,191 693,382 659,277 962,239 974,278 682,201 653,297 692,240 765,169 782,133 941,249 957,157 937,164 689,252 1045,145 892,242 987,220 1026,139 918,201 811,162 931,112 923,163 1039,175 779,240 722,282 708,157 784,164 941,201 1029,238 960,287 889,123 1002,176 978,240 875,224 970,283 986,282 898,145 1023,235 720,361 952,217 709,271 952,199 938,225 660,243 1038,205 1015,235 795,258 1015,211 778,280 977,193 849,314 1024,152 839,203 1037,265 1027,297 866,192 1029,117 842,238 1026,215 1019,291 1044,189 1044,266 847,250 726,166 787,150 770,313 990,247 861,174 961,151 1034,289 777,260 926,187 1014,213 866,131 981,231 734,233 978,256 1001,229 947,255 929,142 945,241 978,230 714,202 921,218 680,268 798,167 1017,211 972,110 771,223 701,253 1038,153 795,227 875,329 649,213 847,320 897,160 726,300 991,226 770,248 762,212 794,206 957,164 942,263 686,274 1019,158 893,174 893,192 1021,192 974,237 946,240 651,165 943,119 971,207 1002,227 994,152 1006,230 906,239 781,224 887,260 1025,208 722,250 705,252 966,249 777,307 991,173 1023,239 696,289 914,266 1049,197 914,304 899,195 952,179 892,250 1033,176 935,226 965,223 985,132 942,255 993,130 897,230 996,221 1007,190 1015,214 1032,179 966,224 964,205 651,219 983,319 661,206 695,354 775,230 1013,186 1012,201 665,342 1020,174 905,231 1019,299 997,267 985,244 843,230 684,195 715,232 753,220 769,177 966,209 799,188 933,177 936,244 921,172 846,182 975,125 1020,221 927,191 995,260 993,188 1022,192 1016,237 912,278 980,147 673,265 761,169 1020,187 986,200 1023,191 689,212 842,250 991,136 754,322 952,161 1032,195 738,232 872,221 878,250 1007,220 951,151 1042,235 967,116 763,262 1000,134 814,251 999,180 1004,224 887,268 874,178 696,285 650,384 1022,129 678,232 659,143 803,320 654,253 1028,194 751,253 774,136 800,155 761,139 797,305 1018,307 739,245 1043,254 780,243 701,189 867,214 976,283 1003,129 1046,260 897,196 711,257 951,187 1045,161 1007,151 929,135 891,166 989,193 961,137 1052,221 721,284 784,237 939,147 682,326 757,159 1045,150 976,179 964,272 660,217 788,204 684,148 1010,119 927,234 971,235 945,211 996,124 715,360 947,225 677,243 991,232 959,123 979,158 926,167 919,146 656,224 838,271 738,271 651,232 999,123 991,144 1019,161 964,213 952,243 1030,192 825,218 957,220 1026,233 654,275 883,227 797,234 1036,159 1013,221 991,213 882,196 949,212 838,189 1006,208 989,234 975,134 1041,169 938,240 1021,224 987,258 916,185 653,279 971,263 735,302 937,243 813,264 841,218 904,142 965,147 756,155 1036,144 986,139 915,166 963,193 1042,189 1023,311 857,327 981,235 730,236 1021,146 981,146 696,276 897,217 1018,243 1060,242 806,263 789,221 927,149 917,182 706,125 934,236 892,207 919,179 933,264 818,250 1014,272 1015,200 969,197 1007,235 752,249 833,240 656,276 765,161 873,129 813,139 998,124 893,238 832,207 991,131 1015,259 813,188 981,159 1025,184 673,233 952,266 941,210 711,165 1031,122 888,180 704,282 1017,120 683,145 1014,123 965,142 1013,283 846,138 1019,171 711,231 995,245 936,213 803,255 835,210 1009,281 700,196 1010,113 947,309 965,146 943,190 994,196 909,214 904,167 882,213 832,323 878,226 1019,216 946,231 947,140 853,204 955,185 1038,182 718,167 969,216 861,191 866,181 1040,197 782,271 740,250 1004,313 821,271 1054,196 769,173 1035,259 755,222 976,150 705,282 913,226 659,269 1000,137 704,241 998,218 963,207 1028,202 1038,199 901,147 871,117 1005,144 918,215 844,253 880,185 1018,148 831,236 790,155 970,223 726,281 952,298 762,154 836,213 991,139 702,253 703,278 1045,178 1010,177 729,309 939,199 1029,250 653,384 689,233 913,159 761,314 790,231 905,230 723,314 778,331 1014,157 740,286 717,253 860,142 896,211 965,209 843,246 799,163 985,154 985,194 1023,186 907,168 757,168 924,191 762,334 735,337 1019,243 912,245 796,209 854,214 926,296 983,145 721,259 655,262 1032,271 947,215 718,272 808,285 726,276 684,198 986,159 726,332 894,225 871,286 969,213 742,255 716,160 1024,168 940,290 957,241 948,260 956,179 1046,145 1021,131 835,174 980,156 745,258 826,253 955,221 936,219 833,126 860,294 966,300 994,152 998,131 1010,212 1025,275 853,202 988,314 713,241 664,226 987,234 1042,189 972,259 912,237 927,197 713,223 852,245 766,221 1042,162 1045,206 982,240 819,326 913,248 1046,186 906,242 949,219 656,309 909,222 1042,264 741,249 949,227 673,256 986,116 744,220 857,243 901,237 1005,125 917,199 886,191 1047,259 921,153 979,234 968,152 958,280 922,214 991,209 972,196 1001,179 971,242 1037,306 973,210 934,260 977,181 1007,207 982,239 897,237 1046,255 993,221 1040,180 902,248 743,314 1041,189 932,195 751,206 798,256 851,209 894,179 883,130 978,206 941,217 1014,136 976,227 1021,302 1032,154 981,216 809,142 905,215 694,263 1000,147 971,243 959,300 1000,121 926,152 704,169 1031,223 914,157 820,212 1002,145 938,252 927,234 1036,170 722,199 901,225 674,307 834,151 869,187 1031,123 700,255 940,215 871,201 909,138 1011,136 997,212 655,251 831,154 1030,219 847,137 1034,201 960,127 675,204 912,147 932,190 721,277 979,132 984,255 1008,223 964,262 680,220 970,200 953,166 970,286 960,292 700,208 930,126 798,192 951,155 996,238 1016,166 949,194 878,233 680,387 915,199 810,141 795,182 1034,199 858,201 901,229 706,253 867,220 970,160 1044,177 907,229 1048,144 703,230 960,168 911,244 947,244 1017,176 661,284 702,272 1008,219 1003,122 835,167 998,202 746,291 1025,299 878,233 841,264 940,132 946,232 738,327 1032,211 1010,256 738,341 970,269 777,305 994,210 968,208 886,222 653,158 1006,250 1000,229 1014,212 654,381 916,273 821,227 851,145 912,278 906,253 962,143 726,158 678,318 661,200 883,317 711,249 760,122 897,246 982,313 999,235 1018,165 996,219 877,128 951,186 954,114 1013,126 949,168 1029,266 1019,181 964,230 919,222 1039,201 974,123 1000,165 652,214 989,127 704,165 949,230 771,274 839,273 972,266 958,137 897,253 977,213 1037,204 718,351 1004,115 773,342 766,194 1026,300 688,265 1028,169 1041,286 978,146 712,249 967,143 851,147 907,187 754,229 923,280 972,156 800,220 887,184 912,259 943,136 980,239 958,207 921,185 790,269 1001,231 659,183 958,135 955,162 928,114 1043,156 1022,177 1012,252 875,116 1049,188 996,201 961,168 774,342 1045,214 888,233 1019,298 701,162 901,284 739,237 964,161 837,227 991,207 904,227 1040,142 822,279 1031,219 684,209 1026,140 675,165 659,126 998,174 697,152 751,203 1016,176 669,245 1043,229 810,219 677,207 972,272 764,265 888,199 712,239 858,132 986,262 995,133 656,388 666,250 709,239 718,197 889,223 952,284 1002,136 1009,277 1020,287 1024,163 914,192 1008,261 1041,178 1019,170 844,121 956,143 705,193 959,126 780,231 726,230 985,260 781,311 720,148 880,182 666,235 917,213 1040,153 995,189 994,190 913,232 1037,170 991,168 714,233 808,272 871,132 660,221 752,144 1016,192 1043,270 831,242 658,256 798,173 1031,198 731,183 747,247 1004,246 816,183 1005,267 879,199 936,239 1033,231 869,165 913,167 653,135 910,129 1035,165 1045,211 767,136 854,239 729,359 722,350 981,194 1012,160 718,171 1037,155 762,219 862,134 653,295 941,124 719,286 822,241 1033,280 910,145 688,205 842,201 734,292 857,198 793,199 676,263 991,288 825,194 1016,162 974,192 679,226 935,200 854,156 979,137 682,173 765,133 792,268 721,209 1020,223 696,221 805,186 778,167 928,209 902,213 1021,229 985,173 821,257 937,168 657,189 989,277 721,183 984,217 993,193 855,220 892,237 1006,145 766,122 956,209 1016,167 652,346 932,242 817,237 969,314 1041,175 673,188 956,217 927,138 725,309 787,224 1038,175 1029,208 940,162 941,168 806,243 941,139 922,188 912,131 1035,201 821,256 846,246 974,193 997,285 1012,204 800,137 759,149 847,232 689,254 751,177 983,202 927,171 820,182 897,253 823,249 910,195 931,194 853,246 1029,200 830,129 708,284 1004,174 790,159 983,216 757,190 677,217 975,168 932,254 803,209 742,290 896,287 671,275 911,164 757,192 649,265 691,367 984,130 845,142 725,234 984,212 898,169 914,223 919,264 971,266 843,324 961,262 720,197 666,333 660,188 995,167 1003,181 699,252 983,213 748,225 903,258 938,263 713,346 762,204 1044,228 938,194 966,190 651,338 810,136 958,233 781,223 928,267 1046,131 986,191 1032,277 749,230 1014,265 963,197 737,249 933,131 1007,172 664,155 969,199 901,179 974,286 885,184 735,173 774,210 1036,302 802,178 1046,204 845,122 933,195 738,123 875,110 721,193 928,143 979,168 729,327 923,150 804,322 1010,147 843,233 998,178 1008,123 998,179 736,328 889,173 1004,190 702,224 918,192 1031,238 851,224 1013,131 882,184 864,249 850,249 972,280 787,258 866,240 763,189 961,186 685,153 975,268 879,213 947,191 1002,226 897,165 1033,141 792,155 1038,138 962,299 1031,250 1002,227 1029,143 771,118 926,154 657,222 954,144 651,296 824,310 843,272 971,174 1035,171 1020,249 781,193 943,210 856,237 1005,160 987,194 951,144 698,232 1013,172 1013,156 924,221 1024,164 977,252 799,285 960,171 724,218 677,201 767,263 832,205 890,215 901,228 1014,200 1014,233 658,318 984,189 850,270 922,167 737,195 844,144 947,252 690,309 807,318 924,111 996,108 824,242 1038,240 952,213 997,178 746,303 736,206 1001,230 838,150 686,315 1025,227 914,221 836,184 1029,172 660,256 739,277 759,145 711,142 690,262 856,142 770,199 731,216 921,249 1031,183 958,173 879,241 899,286 741,194 924,178 887,251 972,143 867,287 1024,172 860,223 925,148 1001,143 881,235 912,272 1034,151 827,236 853,204 722,171 668,238 919,193 751,249 1038,142 998,217 751,336 900,233 999,152 701,175 1043,151 1012,264 664,309 1013,230 967,109 779,180 1041,258 966,126 856,228 874,242 876,133 878,142 788,214 823,268 983,128 993,176 992,184 782,223 657,175 942,205 736,287 1040,210 674,373 862,170 902,209 873,198 969,307 978,163 849,308 1022,155 719,172 780,313 771,207 1024,184 784,318 662,402 811,188 813,206 869,174 749,150 703,157 936,173 902,255 1045,210 945,190 1028,198 1003,111 660,225 1023,174 1003,130 981,218 913,230 934,213 1002,212 963,155 887,158 816,228 712,263 810,162 1030,190 1006,163 984,255 1021,192 893,229 684,160 1025,273 942,146 911,203 833,219 909,246 885,223 883,185 972,162 889,187 1030,211 653,286 671,277 820,326 1035,217 858,243 741,230 873,291 733,134 930,148 1009,289 871,197 674,284 652,215 841,281 961,253 936,316 657,337 972,186 1033,245 1045,158 761,163 1031,204 935,267 673,124 824,126 705,173 1020,293 899,243 837,213 696,164 683,166 794,212 693,278 991,172 701,351 735,285 1004,146 954,171 978,283 975,137 882,220 1011,223 927,184 1040,184 858,204 1023,143 871,225 722,198 993,275 980,212 766,203 899,219 932,117 663,301 832,178 895,264 891,169 890,179 975,133 976,158 1018,137 933,213 807,270 1028,156 931,127 1022,287 790,255 707,208 933,297 921,245 1031,229 1010,169 999,288 1039,265 820,234 867,265 1015,149 990,292 1035,218 984,178 1027,298 789,266 918,301 852,178 752,141 668,272 923,174 1024,155 972,117 1035,144 711,351 984,146 1036,120 748,222 894,168 994,180 714,265 917,190 1030,190 811,227 808,172 1043,200 939,212 686,349 797,159 1051,220 1023,187 1008,312 975,169 1040,130 789,230 917,290 760,247 990,186 936,153 1003,129 981,266 953,215 1038,305 964,236 690,233 925,245 794,273 1035,156 915,238 722,333 657,261 723,271 1018,226 894,222 730,189 725,224 982,195 760,126 669,164 954,306 1041,216 734,122 1013,204 946,192 875,274 827,292 979,190 821,310 823,257 772,178 1009,133 974,142 775,249 774,251 893,195 680,377 1001,212 992,274 929,153 727,222 711,211 960,234 712,294 1025,220 1021,161 962,200 896,197 1037,218 1009,170 841,219 667,234 1047,203 1011,131 885,289 944,224 990,242 702,141 985,117 971,246 671,283 696,365 937,174 1044,173 1013,275 686,242 918,187 1021,125 1009,206 833,121 894,249 981,163 981,164 967,200 974,267 1029,163 752,285 922,166 987,273 946,163 684,186 1033,179 987,210 775,152 811,246 942,134 942,199 1003,208 965,282 787,308 749,264 979,186 824,170 807,205 822,251 656,177 685,242 858,178 689,272 975,316 733,313 960,245 773,115 942,155 1042,143 1042,148 959,280 1002,267 650,396 961,309 919,273 933,242 987,207 878,245 725,181 968,235 776,300 899,146 990,144 854,247 1003,210 774,249 853,267 912,228 931,217 978,228 944,183 774,186 671,152 998,192 890,199 995,167 848,157 951,236 913,218 1034,226 749,310 729,236 1017,218 675,329 968,252 1041,146 700,276 984,190 933,144 1039,187 1021,121 665,232 660,142 1041,281 667,137 686,263 774,277 988,240 1009,249 961,109 705,218 792,241 985,209 783,204 1044,160 1001,237 789,236 688,243 962,302 919,245 955,236 970,217 939,169 745,216 1043,267 918,175 1017,259 929,188 1035,148 946,139 770,272 762,247 1015,148 982,265 993,189 901,127 658,337 743,161 1019,188 668,218 663,306 685,253 933,284 959,182 892,235 677,173 757,237 963,164 666,229 942,125 940,217 989,260 715,160 971,159 870,143 726,307 1019,163 699,351 773,247 1047,258 921,134 736,158 879,282 940,198 947,117 971,203 684,213 847,256 1018,247 798,226 1029,170 806,158 726,168 835,293 919,255 990,120 923,238 944,262 1007,313 923,266 996,170 973,155 894,146 670,327 1040,163 1038,180 904,255 981,203 1040,191 876,217 719,184 983,184 922,149 1020,189 1008,244 969,183 970,222 956,205 818,196 779,216 673,343 807,226 965,190 843,250 1025,197 847,252 927,200 782,230 1035,233 904,301 1017,234 900,221 1034,132 794,238 725,250 899,180 934,232 930,204 889,191 695,302 1014,213 884,241 1045,278 778,245 1032,205 650,220 980,114 1023,303 902,319 1031,152 937,125 652,182 993,213 902,247 960,256 970,158 655,197 671,240 717,199 926,227 776,180 812,207 987,163 760,147 949,259 741,223 1030,267 814,204 1031,237 786,194 989,185 648,188 803,125 1003,230 1026,227 889,133 815,223 790,283 952,338 998,324 1048,320 790,98 938,97 956,98 980,100 850,101 768,101 1058,146 1058,180"/>
<polyline class="p" transform="scale(.5)" points="468,917 189,877 171,899 507,869 406,932 409,831 330,878 421,897 371,899 120,875 336,886 115,853 455,879 126,747 238,875 513,847 315,748 384,931 217,855 385,891 462,915 244,908 487,850 264,872 189,895 372,919 327,813 376,902 212,859 489,889 298,916 353,850 219,895 357,828 134,835 385,849 454,856 294,871 200,906 252,926 333,831 446,925 476,886 135,739 262,904 401,865 228,828 445,863 140,752 217,874 117,856 257,830 248,839 389,861 507,920 222,808 298,907 431,875 217,902 511,932 337,882 441,852 259,879 169,743 132,689 164,869 136,638 127,724 410,906 221,695 435,878 400,907 244,851 414,871 451,886 301,933 223,769 324,917 412,844 355,772 362,934 180,895 195,724 492,853 508,911 184,917 116,783 323,849 153,844 319,912 472,897 253,787 413,847 366,865 311,887 434,858 497,927 508,905 198,850 455,917 445,887 402,848 228,930 322,846 440,905 327,755 171,907 488,848 492,904 328,866 139,689 425,913 233,887 127,682 392,796 446,898 485,903 422,888 426,909 258,849 362,869 381,901 137,815 225,840 465,857 192,912 504,908 359,891 150,771 498,865 206,855 467,926 216,846 401,919 177,918 493,868 366,881 500,887 485,901 240,866 248,823 214,907 409,876 219,910 498,873 508,865 128,783 147,908 407,919 444,882 368,924 494,873 510,901 439,845 482,897 396,850 397,828 423,879 178,766 500,847 228,919 514,879 486,896 272,888 478,872 254,879 461,829 502,885 306,798 410,908 508,894 194,831 426,915 114,729 453,874 201,773 219,695 294,868 445,893 386,923 477,889 121,887 308,772 428,828 417,908 209,925 229,725 510,918 400,885 460,913 374,828 271,844 499,864 143,766 490,753 431,913 499,888 375,859 141,745 486,861 128,915 516,858 134,776 206,839 307,731 382,854 356,786 158,925 407,907 402,875 431,845 500,856 189,736 387,860 123,902 501,851 429,842 466,925 355,903 476,887 208,858 212,889 433,880 499,906 373,897 508,900 124,842 427,851 368,794 492,916 274,882 259,861 156,756 434,855 237,831 247,820 321,844 300,853 201,916 424,888 471,853 257,896 269,875 474,840 224,819 354,882 357,709 515,912 485,906 442,916 392,914 228,787 419,917 342,820 336,829 467,858 282,914 431,868 205,917 510,871 290,800 385,903 312,889 518,842 302,909 229,873 143,796 463,918 281,923 326,867 311,901 256,921 495,873 358,893 378,863 308,875 502,924 121,900 389,923 426,880 126,685 170,879 503,882 138,722 217,915 148,850 497,877 485,908 236,913 190,886 123,873 473,894 507,813 309,848 473,882 184,822 154,794 476,887 123,666 383,877 472,844 399,892 399,851 273,904 480,879 438,904 488,892 301,834 349,773 166,851 196,857 203,873 517,893 126,715 231,828 243,828 377,881 360,817 432,857 286,774 137,930 454,885 379,909 475,860 468,858 170,816 358,843 382,883 389,908 290,906 339,851 141,923 121,706 366,795 398,880 372,851 313,864 174,780 505,863 381,856 302,918 468,844 489,882 333,930 508,874 114,911 318,927 291,866 247,931 147,796 428,875 481,885 307,925 311,921 416,915 401,921 225,918 414,774 358,890 473,898 396,895 352,866 257,923 403,860 171,832 373,852 237,915 374,845 296,846 379,863 478,875 148,862 284,921 284,885 228,837 202,931 409,857 333,889 329,827 259,835 351,927 435,916 375,879 518,910 391,895 357,857 494,860 505,859 440,877 509,899 289,802 122,804 499,918 314,753 492,844 404,841 380,847 178,859 482,847 326,905 336,836 247,828 180,861 316,882 158,881 388,922 122,912 509,853 275,806 356,875 140,813 446,849 179,839 132,713 503,916 206,909 302,798 367,905 340,898 449,844 508,807 272,802 371,872 431,899 205,925 309,915 336,821 458,924 202,797 409,921 510,883 214,843 381,925 325,887 227,915 384,886 285,817 484,912 505,908 420,902 399,932 367,830 452,841 193,788 124,737 339,841 207,927 429,876 473,854 224,728 520,894 197,739 263,890 345,882 386,910 142,807 130,751 321,889 135,893 514,900 232,853 377,815 209,860 298,879 397,915 243,844 500,904 442,895 117,823 292,834 484,854 298,922 135,845 516,859 221,803 249,921 424,876 430,837 338,848 306,924 364,861 308,883 251,885 133,835 180,867 360,763 116,850 444,869 128,932 189,823 454,896 506,844 205,875 182,786 492,883 219,869 205,909 442,930 261,917 308,885 289,873 303,923 513,932 393,850 154,808 376,806 283,929 168,715 123,833 153,900 389,910 419,874 135,885 426,876 361,868 468,920 522,907 453,838 427,845 454,928 327,893 465,926 493,850 451,890 192,836 403,857 468,879 362,918 341,904 251,912 310,795 496,917 180,876 171,836 188,703 416,858 464,908 406,872 155,646 506,921 396,880 254,793 320,857 423,850 202,709 450,893 519,878 332,731 418,862 237,911 124,633 397,893 460,924 485,921 186,870 148,833 149,662 267,779 356,844 293,911 416,852 458,922 505,868 348,854 389,913 279,920 234,816 479,846 425,849 447,854 305,863 453,925 207,757 488,856 480,928 124,849 125,768 410,839 433,885 195,787 329,916 277,808 183,898 506,857 280,859 455,859 437,901 344,914 394,855 292,887 231,893 477,885 429,898 175,907 499,900 355,895 394,911 176,637 455,869 198,814 287,867 510,891 389,890 468,848 430,925 154,742 490,860 514,861 286,780 436,905 383,868 175,782 396,815 267,865 218,808 339,925 130,699 220,894 192,837 158,866 375,875 506,900 225,858 163,770 144,730 447,871 427,788 447,896 474,916 342,839 442,892 175,782 189,918 318,856 465,837 348,889 361,782 150,908 508,929 330,840 501,849 326,819 226,893 370,895 322,898 425,873 327,852 511,881 279,926 445,848 378,882 452,875 380,856 294,925 507,871 332,901 249,814 397,834 154,833 513,892 204,890 182,877 386,871 190,848 249,881 470,811 331,916 352,901 462,866 476,864 328,901 307,745 417,893 270,929 343,870 385,862 513,906 388,901 399,856 361,854 481,885 294,854 414,859 128,684 205,860 300,870 202,893 228,912 469,909 474,897 139,903 439,891 329,866 133,756 446,883 484,842 490,899 218,810 194,897 351,766 117,682 354,846 442,842 464,918 292,827 487,840 447,816 449,881 269,854 175,703 173,840 338,881 174,918 148,788 176,858 278,869 484,857 316,881 220,898 376,871 473,832 438,830 448,859 483,890 377,926 279,926 288,907 328,882 264,738 518,891 292,921 519,849 385,900 204,806 168,700 401,884 519,816 353,931 311,923 407,870 269,905 181,765 327,898 285,908 420,832 396,849 451,921 371,915 153,827 275,849 483,871 445,809 194,898 350,890 422,915 273,861 159,801 418,879 250,908 443,863 160,880 326,927 177,768 135,904 387,903 154,709 414,912 158,687 308,799 164,917 157,870 379,925 451,909 177,734 263,905 252,886 461,891 440,917 181,887 382,889 465,885 461,860 124,897 472,817 490,870 432,847 487,879 205,884 160,730 259,890 208,912 479,841 391,925 437,798 486,874 246,855 261,688 456,903 330,844 450,877 421,862 147,925 505,905 134,744 218,893 297,918 161,918 310,800 382,910 360,904 417,851 496,863 498,883 148,744 356,865 390,850 312,921 405,911 279,902 199,911 264,843 263,925 385,921 372,788 234,915 361,805 270,791 139,871 292,859 374,918 410,926 479,861 415,877 480,913 506,839 469,907 215,769 454,930 427,863 166,908 502,889 271,931 117,785 456,835 432,891 120,858 230,752 488,816 283,857 504,874 345,915 171,835 521,931 432,779 416,907 162,849 447,884 135,655 277,851 390,833 350,887 349,901 227,923 439,847 131,879 411,897 204,914 355,802 320,895 505,927 302,844 479,889 496,907 387,895 443,928 286,922 152,863 337,791 146,809 339,885 154,735 442,902 139,890 491,929 347,877 493,880 280,928 121,762 345,895 131,789 220,928 259,833 116,817 194,859 282,883 515,905 460,910 479,904 442,898 412,882 423,826 122,922 406,791 511,873 231,925 480,874 290,848 396,932 328,819 189,876 475,913 228,799 243,863 290,910 446,916 472,883 271,818 512,822 138,840 430,906 261,846 490,832 263,738 114,732 483,853 292,916 287,851 471,882 367,867 193,925 342,842 447,913 511,901 483,887 148,841 312,865 405,916 176,852 141,812 173,874 250,889 238,873 335,886 398,892 327,911 388,877 268,919 397,906 377,851 128,746 319,874 496,919 327,881 187,851 499,909 154,880 127,661 200,830 399,913 279,929 307,897 263,866 190,912 471,931 500,881 447,894 156,866 268,811 467,918 269,855 271,829 479,888 373,929 461,847 465,862 357,864 124,782 501,866 395,917 259,828 216,758 257,926 430,876 274,846 128,870 429,885 269,832 406,916 513,827 494,860 374,843 507,882 244,848 351,846 137,746 433,926 297,916 460,929 434,850 493,776 469,857 195,734 156,924 488,792 412,930 336,873 243,912 207,904 383,857 333,911 241,764 439,902 345,868 379,844 517,904 224,907 203,870 278,870 237,797 193,845 366,849 132,810 489,911 456,853 285,815 404,913 243,848 192,847 334,847 337,881 194,917 517,901 225,932 457,870 323,912 213,879 497,913 486,878 510,838 130,707 134,896 392,910 435,916 253,781 115,855 426,918 383,920 357,811 384,916 177,846 432,876 189,807 469,893 170,797 230,841 286,921 355,911 311,871 352,825 374,882 115,885 206,739 477,930 268,914 385,911 430,745 278,886 472,837 309,888 135,823 159,790 288,877 434,930 326,839 210,869 455,861 239,801 497,862 285,873 207,905 395,809 178,835 153,784 372,911 512,850 475,890 299,782 474,862 471,893 236,722 177,881 390,867 225,837 212,740 265,879 186,875 460,853 137,819 461,871 364,921 254,897 447,846 466,922 429,868 215,911 183,905 150,798 463,891 146,724 512,923 307,791 308,876 389,854 378,925 470,863 234,816 307,895 433,872 304,810 487,916 145,816 439,907 138,912 430,873 406,832 390,929 505,888 348,877 412,883 381,887 130,822 417,913 180,908 490,898 415,874 397,857 506,889 271,860 435,910 252,889 300,805 199,881 128,926 478,903 376,845 268,761 472,886 270,914 505,844 435,934 127,850 293,929 505,891 369,839 329,844 482,840 484,875 473,930 132,758 331,848 334,805 161,791 276,834 501,918 507,777 455,859 422,922 246,820 178,812 195,895 391,858 212,888 277,931 253,912 408,917 478,876 368,760 320,885 293,728 438,925 476,856 503,914 462,850 394,820 374,862 136,903 192,824 211,876 333,816 399,880 221,888 117,896 217,893 119,776 316,793 453,870 178,856 323,884 254,698 463,930 161,810 513,920 267,910 313,900 119,692 136,868 451,918 271,826 148,706 259,886 274,903 255,865 257,924 463,850 370,888 270,789 368,855 294,885 503,902 495,875 381,910 351,846 350,866 384,845 245,917 476,843 193,918 297,927 238,791 147,853 269,781 432,850 123,739 334,918 117,648 384,922 243,724 323,829 375,859 154,834 413,881 432,777 415,928 358,875 448,876 472,899 288,925 476,890 385,855 182,911 469,878 121,696 356,873 181,930 306,883 364,845 507,932 213,884 292,778 224,773 494,766 369,911 471,899 185,908 501,898 368,781 236,829 458,911 225,816 339,893 260,881 426,920 471,896 498,848 239,905 304,895 360,907 410,860 488,861 371,874 358,861 430,914 134,845 397,807 181,871 296,917 149,790 398,917 407,927 457,847 372,841 366,785 356,852 507,857 183,927 235,747 167,854 413,916 424,854 178,720 496,858 116,671 349,840 374,904 237,884 348,905 358,831 429,914 256,837 115,701 508,926 495,929 115,870 211,865 240,881 432,853 479,892 453,842 460,858 119,666 445,927 148,932 299,900 498,929 450,900 318,911 390,825 401,923 501,848 353,880 497,887 240,823 353,928 346,929 208,848 420,859 502,856 424,905 325,860 507,882 501,922 210,904 378,925 178,787 115,853 282,771 467,861 350,927 367,849 369,906 457,846 439,852 498,839 308,856 170,867 358,866 115,927 205,914 334,799 117,923 183,850 372,870 270,928 126,822 483,901 473,876 444,913 315,908 410,856 152,745 388,768 118,719 500,876 186,893 516,926 447,843 317,906 240,900 218,872 402,794 172,715 439,888 416,883 511,873 118,860 363,899 515,878 505,917 225,815 338,874 228,857 342,847 319,917 193,860 477,911 377,870 285,831 348,884 465,852 368,911 428,849 119,820 379,826 328,785 430,894 462,863 403,853 212,894 251,891 432,914 125,819 348,922 411,863 234,886 400,913 427,878 428,880 304,897 217,811 430,921 129,895 341,800 223,892 121,845 305,845 474,918 339,797 504,935 489,897 167,869 194,863 500,930 341,881 516,892 311,759 471,880 123,807 358,891 343,905 360,882 280,876 296,926 502,892 274,778 478,858 498,881 297,904 468,860 445,910 442,929 117,911 502,881 334,823 503,865 311,845 389,880 132,855 210,917 205,740 409,911 499,877 384,832 373,893 250,817 283,853 214,877 356,874 514,868 420,898 123,636 409,893 477,880 510,852 258,858 305,866 121,896 471,787 279,848 119,882 367,882 380,869 504,878 424,910 519,925 493,894 432,852 508,854 335,911 323,899 250,853 460,928 363,852 209,850 177,842 377,896 454,844 144,848 354,875 359,893 351,842 193,837 330,903 391,892 411,876 120,813 296,919 515,886 447,880 484,885 252,857 418,851 369,892 234,913 384,863 379,888 422,853 415,888 466,881 409,919 509,899 248,914 444,861 232,909 375,842 465,879 168,904 226,904 499,908 433,926 222,780 352,860 285,871 501,866 397,887 464,850 262,869 480,893 304,870 445,865 343,909 462,911 122,841 493,922 290,931 458,865 324,873 444,858 274,884 306,838 364,846 178,866 237,837 316,838 219,923 307,906 432,853 366,884 152,650 244,912 362,921 435,885 479,867 461,847 228,681 479,895 255,822 366,894 234,920 463,847 494,880 440,871 200,875 176,869 311,915 364,870 474,918 211,919 161,858 415,908 278,759 457,890 215,866 366,870 335,915 312,927 215,919 456,927 290,806 444,887 123,906 365,774 210,888 427,930 159,760 509,888 466,863 505,918 215,823 231,771 273,740 274,821 146,682 478,916 174,847 510,894 191,856 497,858 262,913 172,796 500,925 395,815 127,852 190,821 473,903 515,882 357,905 503,894 481,895 314,857 505,861 390,782 163,880 463,865 438,885 351,847 157,803 261,842 217,918 496,846 126,864 385,905 478,929 342,881 156,749 476,899 161,910 325,758 191,819 334,930 303,765 180,785 469,851 389,867 475,847 284,924 216,878 454,884 246,852 458,847 345,860 456,846 250,902 361,900 143,730 416,892 457,888 436,852 273,800 459,909 226,907 230,872 220,919 169,884 139,706 191,891 344,805 153,772 513,850 117,920 239,879 327,863 242,705 285,892 239,729 452,905 370,902 396,907 132,841 511,900 134,681 191,892 205,919 115,879 318,756 336,917 126,888 340,903 134,787 384,883 332,796 416,928 252,918 214,923 356,863 184,919 126,807 135,879 347,849 167,908 156,873 295,817 382,863 122,765 312,922 293,779 412,828 342,851 396,849 203,920 409,917 262,843 251,727 238,893 315,872 253,819 202,908 352,925 210,827 398,913 406,920 251,754 258,847 252,898 473,884 180,932 316,810 330,921 437,847 447,910 192,850 453,826 224,809 282,872 134,711 480,926 146,848 304,916 368,906 123,849 453,895 348,909 290,838 450,846 129,892 376,797 503,888 271,908 193,771 432,884 242,774 417,931 448,895 447,820 503,909 191,924 131,891 462,849 359,859 268,815 354,901 468,853 381,879 460,871 195,863 395,851 368,862 358,870 447,854 443,884 133,738 150,874 123,920 508,875 129,627 389,890 345,920 164,711 488,888 443,889 268,727 451,809 434,847 469,883 312,914 345,900 355,869 357,758 491,925 289,892 405,862 280,849 356,873 125,834 435,851 510,859 515,868 521,899 436,842 411,889 320,832 211,908 499,878 170,905 310,799 373,872 364,843 512,908 144,859 363,842 490,892 203,853 313,875 164,897 337,845 434,904 256,788 354,916 347,902 204,842 383,919 376,910 200,822 483,861 116,865 407,873 325,857 517,878 180,921 450,916 208,890 243,782 249,823 387,895 126,863 492,843 253,873 339,928 391,874 442,877 259,860 505,915 511,910 397,872 279,923 452,881 199,903 402,921 114,921 386,874 325,893 259,910 455,833 207,921 476,924 508,891 343,856 477,899 286,914 420,933 420,899 338,859 229,719 361,863 308,900 213,911 473,920 136,742 444,859 442,915 405,848 302,907 117,750 486,844 375,840 496,878 205,793 348,906 200,860 343,902 320,815 316,928 462,865 386,866 482,895 143,736 125,893 311,834 270,915 132,790 317,808 400,859 514,922 373,904 211,904 363,892 379,930 119,855 489,890 363,888 511,882 356,775 322,886 481,835 133,899 394,892 142,868 437,902 118,823 239,818 130,879 219,853 510,854 412,788 438,890 509,901 362,869 282,912 505,841 466,927 487,836 331,925 463,899 441,857 141,908 502,867 257,879 337,864 480,920 194,899 251,882 332,810 483,866 472,872 177,851 461,899 114,821 412,871 372,913 290,815 476,917 216,729 142,696 123,788 308,920 474,771 375,878 345,870 281,901 284,880 179,895 451,881 166,749 410,842 265,885 480,879 481,872 513,892 129,824 428,880 371,920 159,858 125,671 142,807 202,874 465,927 289,902 366,849 374,885 118,879 335,857 294,884 500,928 126,673 264,915 262,916 363,711 486,892 342,861 493,865 304,914 120,893 354,928 388,830 345,853 169,883 155,811 348,875 499,908 481,886 477,898 147,883 242,853 157,745 379,874 120,724 435,877 405,877 383,902 175,697 186,877 159,919 470,913 321,894 410,914 382,886 443,863 221,730 424,869 421,924 257,923 372,913 418,918 473,876 373,833 453,918 386,847 161,875 396,885 177,758 370,927 226,902 135,870 294,863 318,904 116,916 465,853 423,922 355,914 401,912 394,926 504,883 503,855 239,910 449,914 359,850 499,923 277,694 243,883 145,824 211,920 369,879 464,865 503,914 265,792 375,889 123,862 359,865 478,877 141,842 425,915 217,924 370,907 449,915 411,844 407,797 520,898 199,832 489,893 292,825 472,850 321,916 183,829 513,878 447,898 509,906 123,927 499,930 369,799 297,907 167,860 471,852 474,856 427,897 478,868 415,884 365,870 219,845 437,857 386,769 196,849 317,887 449,895 181,646 490,864 326,878 473,910 217,918 401,906 448,929 485,915 471,894 410,913 437,871 130,859 221,889 345,920 492,896 158,903 119,734 407,848 443,795 357,870 417,856 434,844 225,923 437,930 215,912 453,868 478,808 309,890 273,875 232,825 200,797 372,897 282,854 243,829 213,843 238,843 319,928 202,899 362,873 248,840 505,819 462,855 142,839 225,820 469,897 410,828 504,875 206,890 451,932 149,879 169,895 348,932 448,868 479,890 434,897 481,761 429,854 244,902 398,866 367,850 479,913 333,927 413,835 231,858 231,772 255,931 189,856 505,908 432,919 369,912 291,851 515,897 510,856 148,874 140,897 353,862 157,925 365,775 437,884 318,907 272,880 228,828 228,745 220,840 186,863 129,765 299,799 309,884 380,816 343,903 502,908 286,783 288,856 514,826 278,901 249,849 403,918 421,868 339,816 291,877 235,857 206,919 482,883 371,795 268,897 128,734 515,890 132,731 243,866 386,901 392,839 228,880 286,862 458,800 187,827 146,780 394,926 447,856 398,863 379,851 443,920 339,912 291,923 412,846 401,848 314,892 437,921 119,819 490,905 388,881 119,881 300,896 458,932 303,829 402,881 393,858 313,857 345,763 417,934 140,674 443,927 399,884 190,810 481,920 161,913 256,769 117,753 492,887 202,899 244,916 446,874 432,916 435,874 508,928 150,847 325,904 411,879 222,822 332,846 463,898 496,851 519,834 484,893 461,881 358,899 228,856 472,885 514,866 497,872 123,894 486,891 341,899 436,931 440,927 207,722 392,851 297,896 439,861 231,771 455,894 270,796 387,848 368,708 366,846 188,799 399,899 365,922 503,917 309,895 395,914 158,922 444,918 377,877 281,776 307,709 324,902 270,807 358,897 433,896 275,889 492,858 460,849 203,889 134,754 246,888 138,668 440,926 368,742 215,847 319,849 190,797 332,928 193,793 434,854 238,912 363,849 379,874 399,863 268,906 430,839 490,903 153,824 156,887 287,864 478,890 367,895 138,671 394,899 494,869 130,900 308,803 505,876 301,853 469,911 458,919 455,892 339,931 429,764 118,648 221,898 220,885 271,738 118,647 394,841 309,726 269,843 121,678 446,875 508,892 465,878 272,916 154,712 223,892 126,868 147,760 424,910 318,704 417,857 423,858 507,899 326,849 354,848 335,923 118,695 130,919 155,802 348,841 389,896 232,883 199,892 408,916 167,853 510,898 341,883 495,859 339,851 250,875 473,928 477,870 374,912 381,906 303,866 256,843 474,875 401,861 429,908 419,851 486,912 501,849 303,755 448,817 376,844 324,737 282,899 395,907 414,911 200,738 208,858 174,878 475,902 452,849 214,731 416,863 114,687 193,854 407,920 430,850 498,897 443,797 481,864 216,860 430,915 296,843 435,881 494,929 191,911 461,900 284,824 266,790 388,873 344,890 409,887 367,883 437,828 125,929 228,804 475,854 386,833 273,843 115,796 146,931 503,879 376,876 373,891 451,895 290,883 437,858 508,837 262,830 269,799 347,905 391,884 466,898 510,913 390,814 500,916 375,811 505,779 229,842 319,851 269,928 316,853 189,862 185,866 129,918 280,916 139,835 458,854 504,898 389,795 120,777 467,853 188,754 254,899 339,914 474,922 131,890 463,851 330,786 170,932 466,924 185,877 118,928 246,854 264,906 450,903 288,741 327,878 477,908 211,812 363,830 442,853 169,883 363,760 394,852 389,778 447,877 489,855 509,856 179,817 376,800 497,877 144,787 352,876 464,912 472,844 207,923 415,838 365,849 249,915 269,927 457,904 256,895 518,912 481,920 385,768 340,867 429,877 510,900 189,865 378,904 507,862 502,916 300,826 486,928 280,828 267,904 298,919 245,821 362,906 248,793 165,794 120,770 355,842 390,880 301,925 462,856 506,757 287,875 389,900 292,789 149,842 400,885 518,850 248,840 483,847 297,855 295,830 267,930 405,906 208,887 290,845 163,928 138,920 191,811 497,865 463,843 453,851 136,834 502,892 377,831 127,870 528,926 206,905 469,889 126,740 306,888 145,909 275,826 451,858 461,887 365,839 430,921 425,904 122,801 481,913 265,914 470,876 149,710 485,925 418,868 388,867 479,927 147,929 421,861 460,907 459,927 472,880 277,839 358,929 286,878 181,923 203,873 331,882 428,862 116,728 512,933 244,902 121,920 489,843 513,841 279,714 460,832 484,898 435,894 339,857 480,852 253,787 178,843 134,827 381,932 397,882 298,909 330,822 497,890 277,871 118,929 507,903 468,850 144,909 443,882 181,925 255,825 446,855 336,913 441,895 320,822 409,883 187,903 334,850 489,887 197,918 218,798 220,907 322,881 415,863 300,855 370,858 478,860 173,856 338,827 425,906 331,849 428,927 383,850 422,842 138,863 180,879 198,766 452,912 466,877 115,886 441,895 317,823 299,923 356,855 502,892 471,800 433,893 372,910 359,832 141,901 319,929 264,855 401,854 155,742 158,863 360,869 455,866 457,844 368,925 245,900 185,819 345,845 265,806 493,905 361,897 507,920 476,913 268,854 392,843 465,923 371,868 117,914 473,893 399,819 383,857 292,918 414,879 185,823 444,886 366,922 146,648 261,884 127,748 187,750 453,917 473,845 461,883 388,867 347,910 336,888 510,932 333,851 150,903 339,876 391,872 470,884 365,848 366,926 346,785 375,925 386,890 408,891 386,849 507,920 442,872 166,888 506,922 397,855 520,910 418,918 331,846 380,755 452,916 281,922 351,826 175,855 441,883 297,921 463,881 355,930 290,877 246,860 192,917 362,909 156,760 350,913 427,895 152,873 473,861 117,853 414,877 376,886 257,810 286,881 506,843 383,886 423,877 211,929 129,822 215,767 398,867 196,869 122,857 410,920 181,887 440,851 115,902 229,709 207,847 290,900 419,870 475,852 169,878 508,926 487,849 141,845 193,888 337,872 202,922 279,811 183,858 155,825 476,921 431,804 509,877 441,882 414,865 334,887 517,879 421,817 454,928 294,846 170,881 435,924 423,868 392,864 474,903 319,889 484,926 379,853 471,905 130,765 402,892 355,927 267,907 204,867 213,813 139,875 291,887 225,778 513,884 231,820 295,794 344,917 175,814 130,629 484,857 372,886 237,861 444,874 255,923 249,833 495,927 274,923 292,891 283,902 497,922 474,849 501,893 189,898 308,911 490,917 183,921 486,840 125,901 426,911 478,883 440,908 299,907 125,851 454,851 215,774 460,901 377,878 183,880 414,885 129,863 503,920 182,723 353,841 494,846 343,877 478,929 376,892 522,901 378,891 149,913 134,666 424,920 325,893 141,876 325,873 335,890 396,897 293,748 128,865 472,849 511,924 302,854 340,835 158,805 340,889 400,846 287,893 404,876 305,898 368,919 406,859 395,825 287,894 351,880 480,910 426,896 180,832 498,868 475,888 120,655 493,923 199,750 461,833 220,819 435,891 367,804 281,829 332,730 510,874 350,825 362,924 320,890 284,880 365,901 191,770 168,745 507,825 509,842 155,891 296,928 404,833 140,848 487,872 504,876 455,898 201,776 410,926 247,851 162,740 300,882 187,694 245,764 349,821 368,870 425,906 478,867 374,921 271,919 374,810 343,870 362,809 352,754 268,819 316,849 432,921 414,784 159,917 166,862 233,868 332,803 271,918 470,876 510,869 384,927 362,889 271,696 469,879 484,896 381,847 453,891 210,926 239,693 477,750 154,768 161,765 511,849 457,877 500,927 261,872 117,828 420,865 443,904 319,768 430,921 250,866 253,903 472,808 350,915 209,924 317,867 452,886 197,874 383,876 520,929 436,867 180,696 215,783 132,870 165,877 457,907 405,901 382,908 360,877 517,866 420,860 261,930 329,916 193,896 212,915 278,904 448,931 446,912 206,898 487,894 446,865 354,847 507,920 395,917 167,821 400,832 293,878 365,841 416,894 504,922 405,849 236,864 468,891 263,901 515,859 266,884 330,862 288,840 359,858 389,910 395,922 133,806 357,898 201,911 404,867 216,914 143,904 511,903 166,833 327,926 309,878 346,845 394,849 460,929 389,835 132,879 281,864 328,869 414,904 412,889 122,702 223,730 336,912 183,913 455,870 385,876 289,903 450,844 465,857 436,865 140,901 421,913 117,917 413,908 219,775 462,915 167,869 275,793 407,894 481,914 158,819 166,720 133,883 225,850 372,879 277,851 310,901 507,877 487,903 465,845 485,862 502,908 453,885 474,909 499,867 418,861 250,923 471,916 377,909 422,931 516,851 499,869 209,848 345,908 357,905 384,821 190,683 264,872 194,876 513,907 161,930 447,840 446,853 255,805 239,846 208,725 156,902 510,902 380,876 139,812 373,920 196,876 303,882 221,852 507,900 511,846 361,847 406,904 170,765 221,664 386,768 507,853 476,904 257,912 453,895 166,816 442,875 442,902 337,873 132,642 456,891 511,864 499,866 167,923 335,777 505,903 194,868 314,875 503,858 459,932 219,661 320,927 417,787 146,923 213,848 377,930 437,848 176,909 123,903 303,859 397,903 124,874 509,851 493,876 278,851 324,912 120,785 437,882 473,873 373,902 439,787 453,851 442,880 429,836 164,754 172,761 513,850 490,915 156,757 408,923 382,883 479,927 319,907 491,901 508,876 242,879 380,876 398,924 381,899 485,877 463,901 479,892 513,878 299,802 338,876 121,882 503,896 479,847 148,916 281,818 114,847 180,860 119,816 360,801 354,836 421,895 496,906 262,877 330,761 469,844 419,914 118,787 447,927 458,803 428,919 434,915 202,926 127,832 327,915 175,881 449,794 513,907 397,770 441,914 401,922 515,863 351,852 462,899 142,897 158,868 430,876 454,919 125,811 122,628 440,851 434,845 190,906 198,670 498,871 439,881 489,894 398,888 180,693 138,867 295,806 381,838 352,918 458,921 145,793 350,890 135,809 306,858 488,886 468,870 367,871 412,808 116,832 281,783 335,904 159,810 445,886 331,868 164,724 490,903 501,914 224,800 380,918 173,746 490,855 313,900 318,914 355,899 486,846 255,747 148,931 437,848 474,873 117,691 461,871 218,884 218,820 214,767 322,858 344,794 386,738 176,718 209,648 350,797 371,840 509,850 322,807 346,824 504,876 329,882 181,921 118,802 325,924 375,833 242,886 348,843 465,848 160,878 476,884 344,880 499,822 240,859 324,805 323,896 136,923 186,928 258,816 258,904 136,777 494,864 336,911 404,872 439,861 246,821 457,901 467,886 377,866 286,910 373,886 427,869 236,884 402,930 384,914 120,902 510,855 259,807 364,845 410,845 510,843 189,877 214,932 226,804 252,862 458,784 318,912 503,911 294,923 266,822 224,846 311,915 214,841 138,821 369,923 492,841 408,778 181,718 198,863 405,850 212,866 473,916 253,842 274,893 122,738 200,892 184,915 190,901 190,796 432,877 498,875 481,886 134,890 461,866 506,896 294,889 162,746 266,851 435,848 114,621 171,870 468,918 466,860 437,888 296,917 370,918 399,919 193,696 273,728 322,926 500,902 337,857 186,805 210,856 389,911 469,855 390,812 480,868 377,858 286,823 170,731 226,835 445,858 517,865 331,911 473,881 446,860 438,866 202,918 206,876 116,749 514,923 145,927 516,913 459,911 243,910 349,869 197,894 285,916 312,893 273,825 181,877 437,889 255,889 515,912 443,856 276,858 175,915 463,878 151,859 142,676 495,917 215,845 473,893 335,929 197,855 298,875 376,833 376,899 225,858 234,920 118,775 384,914 355,820 317,927 431,839 379,818 379,848 412,848 332,861 506,891 200,904 446,858 481,875 197,883 282,909 491,899 242,928 401,878 185,926 322,928 495,858 167,912 436,896 342,901 308,793 257,866 380,923 299,805 367,888 441,867 495,860 267,854 256,886 131,750 458,920 223,841 333,909 334,906 498,910 251,855 138,747 162,927 261,696 242,873 353,926 402,915 380,811 408,894 457,855 366,831 152,770 362,849 301,915 123,800 125,789 343,913 212,769 141,910 236,900 446,891 267,844 458,910 453,886 442,914 136,746 345,842 271,796 256,878 503,849 442,855 488,843 487,805 340,932 306,804 213,825 338,798 470,857 461,895 487,855 143,928 181,768 440,845 349,757 517,924 339,931 470,887 449,928 399,908 488,860 377,866 211,701 273,762 469,932 351,922 511,921 264,869 259,905 464,847 347,889 143,800 124,871 177,782 391,881 177,760 120,920 481,876 516,885 178,882 430,867 122,910 136,845 174,910 138,793 479,853 498,846 319,926 201,880 482,863 217,862 457,896 500,925 429,914 342,884 138,835 217,789 160,924 498,916 395,889 192,657 432,887 412,848 460,925 329,856 240,838 446,915 265,867 245,734 497,783 373,799 183,866 317,832 349,887 178,777 374,898 418,852 416,898 336,852 191,902 341,837 429,880 494,853 170,820 165,745 194,871 377,879 206,865 446,893 207,863 179,930 404,873 364,933 279,863 429,913 154,667 280,806 216,854 427,890 367,830 437,921 349,906 121,862 498,867 206,768 436,852 481,915 396,819 517,857 256,869 440,821 249,849 347,807 268,789 477,892 376,791 261,916 182,762 232,866 453,887 266,860 203,679 218,905 174,896 298,910 378,842 470,922 191,820 399,904 163,845 224,822 282,875 354,867 143,748 383,839 208,905 312,904 508,887 352,853 504,929 135,907 398,906 390,905 458,913 116,758 350,885 315,886 158,722 375,931 183,924 502,848 480,857 422,906 409,921 168,841 509,898 179,758 374,765 375,863 507,877 489,924 305,911 224,874 294,930 193,854 395,858 337,873 275,767 353,919 484,892 500,873 354,862 201,883 337,870 365,795 338,871 116,859 232,848 428,840 325,874 156,876 439,847 190,878 493,926 208,813 200,795 186,904 152,893 208,851 238,915 386,890 325,925 137,918 423,887 476,886 116,858 216,851 459,880 494,926 486,929 374,819 171,922 207,712 130,739 159,762 190,923 502,909 344,840 191,854 431,826 261,874 390,932 124,719 507,883 349,849 460,920 368,858 127,892 363,872 482,861 438,811 312,840 222,851 162,894 115,873 279,876 416,860 406,923 123,670 369,870 448,887 428,906 383,927 420,853 243,866 146,630 142,900 362,913 116,738 462,846 132,646 195,744 130,638 144,928 131,805 402,827 201,775 259,830 293,906 517,888 466,850 154,853 130,662 395,807 510,848 213,924 483,889 346,893 354,873 325,875 453,851 401,884 292,696 461,886 342,868 525,923 300,891 342,901 396,896 322,783 286,798 144,850 440,902 197,761 330,823 343,893 388,843 125,712 438,886 166,842 147,876 151,763 437,897 413,857 424,859 341,861 470,928 153,860 481,865 284,921 264,811 387,913 380,929 258,793 405,918 311,872 261,892 432,882 402,878 496,905 456,887 219,920 446,887 246,862 303,894 127,680 459,850 424,913 444,924 399,908 470,846 514,881 278,862 248,881 367,930 208,928 207,928 227,911 195,840 405,914 494,912 441,895 122,907 401,907 515,901 417,873 159,859 253,909 517,892 372,870 471,918 212,860 373,903 131,886 141,843 516,918 382,844 475,881 193,862 206,888 478,862 280,912 302,867 135,911 358,867 503,921 376,857 276,830 250,864 509,925 187,875 179,862 223,850 182,857 361,848 315,862 359,851 221,834 482,848 505,838 493,862 127,825 325,788 297,818 448,932 173,922 514,916 483,832 337,844 155,823 466,885 429,898 231,893 243,840 397,922 383,839 507,858 500,885 249,813 391,856 317,856 459,905 151,816 238,688 151,928 126,800 423,868 385,904 405,909 471,819 357,789 517,854 437,890 156,682 424,869 474,927 439,899 139,920 470,906 257,755 462,882 150,775 189,696 243,889 382,857 513,903 336,882 118,716 153,848 250,850 285,812 446,866 331,849 306,901 345,884 148,809 114,696 296,911 346,906 441,913 360,762 118,894 484,886 208,733 502,874 438,842 421,892 498,890 349,861 350,914 209,824 236,917 301,871 258,904 453,928 334,863 479,840 455,838 306,903 277,901 333,903 133,914 437,891 280,854 438,902 258,877 236,896 298,909 478,915 378,854 240,852 322,738 447,812 365,792 229,868 461,905 501,924 322,870 270,718 131,865 137,811 390,928 373,886 260,865 468,883 359,920 416,864 510,894 406,889 377,865 387,885 429,848 516,914 483,845 372,920 397,860 460,863 307,886 290,918 505,890 391,880 346,897 485,890 342,915 514,896 517,904 343,854 248,861 366,897 145,872 367,840 169,886 395,910 144,903 362,886 116,738 500,917 305,884 297,757 431,828 177,781 345,890 405,871 123,817 171,871 501,907 466,885 330,918 470,857 116,864 497,908 115,785 369,914 305,919 261,804 431,890 431,853 137,863 491,868 141,786 199,831 475,898 220,915 426,833 235,875 220,905 188,919 401,869 499,842 501,857 428,911 192,848 309,916 455,886 263,776 124,873 232,905 321,880 403,842 497,871 395,904 148,673 119,779 438,877 233,898 313,906 442,880 493,927 472,861 373,763 512,857 490,845 235,876 454,927 399,913 504,872 457,897 217,800 447,870 309,890 131,742 122,862 493,882 427,844 347,918 179,704 144,635 475,917 212,909 194,829 219,659 518,879 475,892 439,872 431,870 224,846 412,906 280,830 411,897 462,882 227,874 443,921 353,915 222,875 454,905 339,934 260,924 482,928 130,926 505,900 424,895 173,801 369,824 391,892 450,840 501,854 509,845 482,829 163,863 338,760 141,787 415,906 246,914 359,760 288,859 285,797 482,855 415,920 462,921 455,935 470,813 397,912 358,896 393,811 450,875 319,852 470,826 260,863 120,783 365,889 470,874 363,847 470,902 257,859 487,907 372,929 214,815 192,921 495,845 364,909 452,919 391,907 434,901 511,820 199,799 127,796 450,860 286,835 375,923 121,725 231,785 421,916 404,920 146,730 176,729 220,750 281,846 428,873 404,930 266,755 396,918 511,863 246,757 408,928 180,666 302,873 275,822 256,864 482,859 188,841 173,861 119,683 504,886 193,699 329,844 249,923 427,900 200,881 344,854 376,842 159,881 249,906 484,809 380,836 236,785 254,842 190,874 235,856 292,857 263,882 452,849 385,890 343,779 198,826 427,896 420,797 448,884 485,909 214,916 235,914 373,858 157,842 503,850 225,914 493,836 425,925 462,895 140,906 405,903 394,872 164,762 266,871 400,929 255,920 436,856 386,893 318,724 284,844 132,770 119,911 507,891 402,932 175,843 200,808 459,896 342,802 440,882 360,873 502,865 472,850 356,807 217,851 363,842 377,857 378,889 423,894 234,864 334,847 381,879 445,851 260,751 265,830 420,894 362,791 338,907 326,927 405,889 200,905 288,875 332,914 252,872 342,916 124,748 340,907 447,929 334,925 150,670 407,917 446,858 230,803 400,874 368,888 385,809 305,921 438,883 214,884 433,917 310,767 519,862 473,856 427,847 475,926 517,879 409,830 322,926 423,863 322,802 458,924 331,797 481,877 491,930 336,875 345,932 116,691 497,808 383,887 448,871 424,911 293,797 348,914 141,864 263,861 440,849 170,827 250,853 402,888 330,863 363,873 455,925 257,790 498,904 428,876 438,807 404,877 256,746 183,800 129,828 474,886 296,779 397,826 474,908 323,900 132,873 463,867 459,915 468,854 362,866 159,809 355,889 176,905 433,908 471,856 294,894 499,925 460,825 196,900 122,811 476,865 269,840 161,815 236,797 161,916 451,855 441,908 438,865 207,801 286,899 183,908 141,854 463,915 470,873 421,880 413,852 423,864 276,895 353,811 404,836 477,882 409,841 376,888 129,917 126,630 332,920 496,918 494,857 254,774 457,884 444,828 453,904 161,658 331,812 288,828 497,885 447,887 146,892 407,836 390,868 413,846 426,890 329,926 231,905 243,865 336,841 210,921 176,887 460,878 130,691 489,877 479,867 167,904 465,846 352,893 191,760 335,873 283,922 301,878 396,912 272,679 123,887 129,886 366,842 366,715 258,838 269,872 239,759 491,864 137,807 249,936 425,909 204,809 428,908 338,881 470,884 520,928 358,918 129,732 503,897 490,925 303,713 294,804 511,852 310,861 250,923 183,887 117,726 229,860 349,871 403,877 376,777 391,928 268,803 485,820 326,878 170,903 115,926 121,821 170,676 166,759 297,815 455,919 219,890 157,887 461,889 467,927 410,905 500,915 479,917 176,927 418,922 449,791 151,798 513,925 479,865 279,849 377,904 501,919 320,904 212,880 254,883 192,834 391,883 354,836 405,805 122,878 501,917 251,866 381,805 171,909 393,900 115,810 488,830 421,916 498,843 510,873 449,871 379,850 327,853 443,927 481,907 350,918 116,815 406,924 403,890 266,907 319,802 487,861 288,731 514,908 118,892 450,888 303,857 354,907 208,769 506,892 210,855 451,844 341,895 272,856 239,762 511,865 186,856 495,906 222,893 141,857 483,875 393,848 217,699 126,740 132,851 417,912 440,913 403,778 298,919 330,901 339,896 390,928 182,872 201,789 504,878 242,730 507,878 300,751 517,872 338,898 341,811 369,875 362,840 502,926 272,907 467,924 174,800 373,931 158,877 484,913 159,807 334,892 194,846 448,859 238,929 501,926 381,890 395,847 500,926 140,706 123,800 229,866 487,884 380,826 499,887 491,875 303,911 435,886 487,822 472,889 398,875 162,737 184,897 405,907 121,822 193,818 336,774 324,842 293,847 364,852 387,905 241,836 426,864 122,794 233,738 408,922 142,781 518,850 412,864 457,847 398,909 296,912 392,925 381,768 517,913 189,859 449,850 369,896 348,834 144,823 518,876 380,843 396,886 360,852 507,926 515,854 229,851 326,929 400,834 400,929 187,801 152,797 185,897 146,861 460,817 351,866 364,911 180,741 396,758 383,909 117,821 119,820 315,889 375,905 248,908 247,794 399,909 257,765 182,914 475,856 116,914 176,799 420,913 259,909 409,894 352,901 318,826 292,875 428,921 495,924 474,804 303,921 464,750 474,852 402,845 249,915 326,928 192,799 510,847 299,827 425,913 436,849 436,919 349,912 500,850 456,880 124,651 195,919 405,903 176,802 173,630 218,898 130,819 157,815 308,893 451,843 288,879 498,855 134,731 445,922 176,760 430,894 434,899 339,841 396,850 300,813 306,902 452,856 116,870 323,928 499,854 300,906 119,787 291,890 120,849 329,835 471,887 466,891 215,675 428,921 323,890 508,929 507,892 176,911 452,927 400,900 494,927 272,753 352,919 462,919 431,902 409,888 507,914 412,891 375,732 428,862 433,914 475,852 516,840 511,889 232,925 465,881 247,904 247,917 225,896 313,860 137,670 515,922 177,821 436,862 302,909 190,851 258,759 268,759 183,790 130,931 455,854 509,874 394,877 468,820 267,778 451,864 424,835 367,900 372,903 473,889 319,911 158,760 499,863 440,902 447,887 424,922 503,842 252,730 398,902 497,912 513,926 390,884 501,909 231,901 424,869 256,920 398,893 378,833 491,924 265,838 162,835 468,857 486,846 434,860 150,870 132,909 315,920 264,859 412,773 349,847 158,658 169,933 368,902 126,895 253,798 501,869 224,829 505,935 208,709 155,851 457,868 382,739 494,928 439,895 498,873 283,927 400,928 357,903 132,819 430,761 447,856 180,865 501,910 217,874 517,841 217,860 339,781 323,897 467,865 467,911 116,892 288,808 151,771 492,861 491,924 352,924 450,868 466,839 359,897 497,886 439,925 218,911 507,910 461,886 471,855 508,808 469,932 474,890 133,811 310,911 334,867 340,864 363,887 355,924 502,899 258,890 445,813 279,905 514,885 489,901 242,914 492,840 275,791 213,833 116,768 497,855 275,870 422,859 118,794 272,895 234,929 494,909 472,896 265,856 494,914 297,920 370,870 220,882 250,873 504,923 514,883 143,636 295,918 514,847 118,844 286,749 285,803 321,902 445,913 503,902 467,921 493,854 469,899 391,851 419,877 189,909 453,875 492,839 262,930 491,853 278,863 313,846 267,829 451,755 517,830 246,917 121,723 139,747 437,886 230,906 511,881 434,906 418,850 493,847 502,903 415,913 138,674 419,763 424,896 334,894 204,914 435,842 150,906 302,836 138,816 213,676 334,924 439,861 251,857 437,918 324,805 428,858 337,751 426,930 473,894 192,760 212,888 380,867 149,925 376,852 190,786 247,784 483,868 205,864 416,858 152,796 267,749 366,905 187,676 379,757 496,841 168,845 506,911 271,906 502,844 142,859 347,888 426,783 370,877 382,810 340,804 470,880 513,864 447,851 518,912 120,924 247,923 277,841 437,874 314,849 356,923 253,785 296,880 149,776 462,895 333,904 503,930 231,888 447,901 423,867 377,915 318,900 471,882 469,789 517,847 255,807 395,916 501,859 362,859 468,918 432,863 245,884 455,880 300,850 414,913 517,904 371,818 437,900 396,894 196,838 376,900 146,877 188,845 438,857 454,894 498,864 454,886 309,724 446,882 117,854 441,840 275,874 394,786 217,827 285,916 265,828 421,795 171,731 361,873 424,860 454,927 322,886 213,888 133,902 155,805 479,922 408,893 259,864 167,813 415,881 195,749 174,759 434,865 496,899 351,931 193,792 162,854 502,878 188,814 216,882 158,808 155,793 263,795 503,844 119,862 483,862 394,897 505,891 393,857 490,904 297,788 288,780 198,766 407,897 173,934 252,881 509,859 476,871 417,925 451,798 426,881 225,869 266,921 467,913 428,835 391,889 409,927 348,852 355,781 231,892 251,740 280,931 179,925 189,919 420,906 186,817 435,908 490,865 443,917 349,871 210,788 485,878 367,844 292,837 280,758 316,912 453,889 332,780 205,884 451,823 455,835 274,875 330,911 131,851 497,863 285,914 307,908 154,888 415,925 265,745 341,921 253,899 340,908 115,805 490,852 268,860 443,915 507,917 439,925 144,858 123,826 367,815 424,878 406,784 437,925 491,871 313,884 483,853 488,917 478,812 219,866 351,885 261,923 266,906 219,884 212,751 258,851 427,922 484,917 296,888 320,827 328,931 129,881 443,852 159,878 383,910 275,771 422,859 299,748 135,901 267,832 417,885 287,854 372,897 277,896 397,914 227,809 201,756 309,887 428,871 306,909 331,847 487,876 214,858 294,774 377,919 117,835 451,841 244,877 387,875 326,727 466,876 231,768 191,721 514,851 495,917 391,866 342,917 438,865 181,776 145,910 390,857 485,877 496,804 280,878 365,866 368,870 246,735 350,885 123,853 473,855 311,911 269,822 165,834 516,855 495,862 455,908 366,895 324,924 266,772 293,849 190,899 231,888 400,860 450,897 440,861 456,841 149,899 173,846 238,860 286,767 137,702 239,924 416,894 259,914 156,701 459,895 228,751 383,884 124,910 201,846 498,858 384,802 188,806 339,913 485,842 455,845 483,870 447,891 230,898 202,926 121,829 149,780 270,892 504,902 441,847 195,766 267,763 505,827 495,913 352,924 501,875 510,846 520,919 433,894 177,808 177,704 167,785 356,926 478,846 375,864 215,806 213,906 502,895 500,855 494,927 464,856 124,913 479,838 482,858 480,810 457,881 439,864 228,767 381,848 437,867 415,930 126,815 231,857 384,869 436,921 164,919 483,922 489,887 393,886 376,848 126,860 278,929 125,807 370,862 230,867 119,736 146,827 439,848 292,784 474,867 501,866 352,906 474,910 178,771 509,852 337,904 119,904 220,844 382,919 437,879 494,847 297,845 338,927 193,764 174,914 322,874 521,856 507,915 210,850 115,788 229,913 468,911 123,866 369,812 135,908 400,834 150,802 469,921 432,878 409,843 290,783 334,830 119,849 167,918 490,905 354,901 509,924 436,919 437,907 480,891 306,876 194,867 336,918 476,911 395,879 117,783 264,763 467,889 320,798 494,890 393,893 424,881 427,842 198,891 501,846 230,790 210,874 129,931 182,872 475,867 491,866 359,915 519,909 217,881 355,918 159,776 349,841 387,891 282,854 460,869 234,850 426,904 121,888 227,906 509,895 382,915 221,865 202,857 342,842 365,909 498,884 224,713 354,900 124,904 354,917 154,878 240,916 500,879 153,778 252,931 156,746 368,854 264,920 397,863 171,850 153,847 506,844 489,914 247,880 240,739 263,828 307,915 307,826 510,837 286,789 136,914 367,754 395,907 168,905 298,855 174,918 417,924 491,912 115,823 124,773 214,858 322,900 307,903 393,853 503,920 486,818 122,757 293,857 477,869 384,873 461,910 361,861 201,900 472,850 412,919 439,866 315,922 141,876 387,910 136,872 197,899 313,850 208,882 450,844 384,870 319,896 236,930 343,925 354,916 404,902 505,854 461,861 408,876 332,931 186,857 475,916 230,691 185,850 297,908 461,857 416,827 473,860 245,911 350,912 154,835 144,770 245,826 422,777 392,864 427,847 422,852 345,853 385,900 167,872 446,927 499,898 204,924 462,923 181,785 273,862 160,750 338,764 436,886 442,897 390,893 392,843 120,857 142,887 513,883 266,859 350,856 355,881 494,920 510,895 289,928 453,895 377,899 435,918 487,846 274,877 328,857 368,873 133,727 351,904 181,708 365,898 477,905 341,874 254,821 257,726 472,863 284,915 120,670 488,919 223,771 461,881 432,860 496,919 147,822 450,870 332,884 485,880 223,765 270,855 372,834 172,860 302,834 347,907 143,847 454,879 390,921 119,922 472,887 120,771 340,903 247,760 240,824 395,895 268,871 489,851 496,882 191,854 415,850 459,866 440,868 350,923 386,906 235,801 153,769 308,810 196,865 293,853 489,851 220,789 233,772 484,869 236,908 473,886 481,877 453,891 445,834 463,918 467,858 384,876 332,910 176,910 178,772 319,705 488,926 471,850 178,915 409,873 254,900 524,903 135,897 216,734 444,885 422,906 373,872 487,844 202,917 388,820 383,893 437,879 466,929 348,857 283,737 440,874 183,779 144,923 497,875 412,878 189,931 445,894 421,843 124,774 298,826 246,737 313,816 326,758 413,905 490,862 118,830 126,849 263,801 437,890 218,801 216,815 224,878 473,841 275,744 473,884 303,902 431,866 453,832 242,837 325,927 131,823 375,835 499,918 135,893 483,900 204,869 152,934 244,920 251,862 455,898 402,923 442,866 418,850 200,737 457,913 228,850 148,903 323,843 385,904 482,861 437,894 190,832 431,865 328,825 449,928 444,842 128,864 177,915 361,827 171,710 270,926 518,907 384,835 216,910 301,915 151,772 478,909 406,918 133,813 359,909 375,928 511,914 153,846 294,797 274,794 497,859 212,691 210,847 222,824 168,805 179,663 155,749 195,888 148,867 162,803 479,898 512,844 141,924 443,897 192,871 451,854 403,859 410,849 418,925 343,923 403,889 342,884 234,818 406,861 466,890 317,834 192,853 409,870 497,905 441,912 273,782 141,833 518,824 493,910 254,869 128,716 189,839 465,900 276,889 281,926 237,904 222,810 437,918 451,877 490,857 336,905 277,796 352,924 395,914 205,883 387,859 120,783 164,775 518,914 404,873 474,869 128,876 498,927 460,891 430,873 224,874 445,875 476,863 419,912 446,847 459,866 398,874 254,897 202,860 118,828 482,867 513,888 390,871 458,886 405,918 229,872 428,873 253,882 147,803 305,875 183,722 205,867 451,930 205,798 260,780 157,750 171,896 139,814 408,882 394,918 501,849 435,908 196,908 310,905 118,703 468,890 444,855 197,774 278,869 200,895 207,787 370,922 504,895 265,873 123,717 138,896 222,777 475,860 512,919 165,897 152,766 499,908 268,790 233,890 409,887 430,855 170,655 517,881 407,898 391,770 395,896 510,848 332,904 515,929 256,892 429,820 415,903 298,912 144,759 161,867 414,882 318,899 194,901 123,916 462,871 504,804 360,880 381,904 152,783 443,901 324,848 286,755 452,860 429,860 502,916 219,861 318,891 116,888 480,877 520,876 365,931 303,847 465,868 406,877 277,894 414,888 393,847 493,858 486,930 256,891 230,920 171,878 384,916 499,866 403,913 418,926 499,862 173,900 419,842 472,924 254,887 311,868 317,858 205,920 511,844 343,909 515,835 225,851 503,896 337,907 156,896 150,686 415,875 197,808 295,858 379,717 500,918 325,906 322,857 411,837 450,893 321,771 233,807 339,856 185,723 505,908 369,855 475,871 433,879 367,824 193,842 491,879 460,890 518,848 232,739 451,897 390,918 508,771 461,919 322,918 370,896 491,897 261,870 351,911 495,855 405,910 237,856 345,902 499,747 504,836 194,858 250,876 218,917 283,824 380,845 462,903 447,845 205,853 475,906 354,812 456,897 168,741 292,861 410,842 154,827 258,755 237,903 220,852 262,935 425,825 123,879 226,901 352,887 481,820 342,759 477,843 120,705 365,882 230,828 491,926 363,840 125,900 253,920 277,843 139,929 118,876 357,855 305,843 499,909 474,863 434,827 184,848 404,843 437,867 311,853 258,914 423,928 388,817 137,857 487,863 348,909 281,822 342,845 156,780 424,836 410,925 479,860 492,846 292,895 335,888 502,909 312,855 376,839 199,844 267,914 496,852 265,897 365,862 271,842 127,845 379,862 385,891 384,848 234,794 148,707 177,850 157,915 132,877 214,899 515,866 394,930 137,657 345,915 370,875 483,859 507,904 507,879 325,837 331,904 242,825 376,909 149,813 496,905 403,889 478,863 414,887 375,888 475,855 478,853 316,918 475,866 137,906 124,889 191,930 502,889 137,928 260,850 423,886 469,833 252,857 209,761 386,853 423,848 245,893 254,895 463,836 301,913 190,806 153,896 488,821 463,855 492,879 372,928 353,927 153,857 119,669 470,889 178,676 482,927 517,876 464,882 187,786 121,705 196,766 155,662 149,844 404,928 476,869 244,879 483,885 440,843 224,849 269,893 265,856 178,771 464,906 408,888 484,843 422,852 201,823 294,809 198,874 137,902 459,860 146,915 362,914 446,918 192,833 338,849 175,822 319,897 413,866 482,839 235,879 220,855 462,861 235,689 117,915 269,869 367,879 513,882 213,895 272,907 368,854 504,903 347,888 240,928 144,913 130,744 465,920 153,688 346,887 176,878 471,928 426,916 426,864 345,893 442,856 388,849 514,894 469,896 453,888 126,667 217,895 503,861 413,870 332,881 419,809 275,926 122,830 290,864 131,767 340,841 311,850 255,884 258,909 185,881 343,844 411,780 319,769 419,928 371,830 429,854 319,903 416,833 419,928 330,873 470,903 165,769 240,869 115,650 454,886 488,877 491,931 153,867 262,828 347,836 311,925 511,924 391,920 456,868 372,877 497,917 281,916 159,641 327,856 247,852 495,867 335,845 345,812 268,870 208,669 155,870 383,795 452,902 492,885 379,866 143,925 516,840 481,928 396,883 330,847 496,842 309,888 123,792 146,914 179,873 415,834 510,893 256,914 399,871 138,680 399,907 403,848 128,915 408,900 122,863 324,860 372,907 221,883 140,883 277,910 434,916 327,867 306,718 500,915 390,899 430,860 169,926 271,932 486,825 491,919 420,909 425,815 340,876 358,858 124,730 345,869 179,923 483,887 219,855 453,922 238,918 208,872 454,766 393,862 497,869 452,896 287,928 209,846 430,913 118,917 128,795 506,786 517,874 159,840 362,765 212,900 485,889 386,759 497,901 434,914 421,864 251,905 281,881 496,924 487,855 174,876 117,746 190,701 258,891 388,886 123,763 395,782 413,886 248,728 424,911 399,926 239,861 226,864 501,925 228,931 496,887 351,898 224,882 419,917 447,922 450,886 455,847 436,881 233,906 435,921 428,859 437,914 193,793 230,841 390,876 498,900 256,882 123,895 238,796 282,893 122,910 436,882 226,897 207,884 474,855 478,834 471,886 437,849 269,893 269,890 334,790 250,668 340,919 518,853 141,678 162,888 123,749 186,865 366,861 200,732 419,912 502,883 342,774 240,796 187,744 483,921 202,865 411,846 397,802 492,877 206,922 451,856 494,885 148,904 450,891 434,893 239,885 370,914 256,859 486,861 347,891 455,846 426,857 454,837 408,883 380,851 181,927 191,884 238,905 396,923 512,914 337,800 151,661 147,787 305,879 491,890 299,877 405,911 417,795 502,870 304,914 352,863 369,918 377,895 432,906 116,870 347,904 458,902 475,890 241,884 493,869 472,864 504,845 507,917 472,852 342,926 485,878 442,884 156,769 293,892 392,847 488,877 505,877 214,848 118,783 484,928 127,695 370,842 148,785 218,925 152,672 392,867 211,859 423,925 204,834 417,883 288,830 307,853 411,846 269,910 362,792 507,926 345,825 193,837 262,745 237,927 392,862 180,852 180,895 518,919 472,911 333,903 156,881 235,833 501,914 369,927 158,661 237,911 251,909 372,887 261,850 272,865 448,843 487,877 158,930 339,890 490,930 354,889 508,858 510,845 125,864 160,868 122,904 441,921 399,892 115,635 476,882 443,860 263,880 475,748 231,895 204,846 152,907 517,913 374,912 365,856 458,900 457,886 428,849 514,929 244,809 403,831 180,892 278,888 166,868 413,905 294,838 140,788 499,914 402,924 308,846 406,860 469,920 168,852 428,789 512,921 256,865 138,877 153,906 457,904 299,850 457,856 277,876 450,876 513,914 461,902 459,845 466,884 521,892 491,886 285,780 158,819 371,884 307,850 486,882 181,735 197,870 281,889 239,925 516,901 455,896 507,893 407,904 491,905 512,926 276,870 402,852 184,872 172,818 122,861 305,739 349,934 387,911 143,897 514,853 130,873 152,621 161,621 163,625 166,622 147,623 132,623 167,624 150,624 163,621 149,622 172,624 178,623 174,623 127,623 121,621 121,624 149,622 122,624 174,623 130,625 386,658 392,670 406,700 400,704 210,620 234,618 172,619 190,630 258,642 218,656 224,660 262,654 244,674 310,686 328,690 356,686 362,704 458,730 498,746 502,752 152,624 162,623 196,622"/>
<polyline class="p" transform="scale(.5)" points="1026,692 952,933 678,925 1027,713 969,654 1045,628 1018,684 977,748 997,695 748,709 974,665 1034,664 766,634 749,943 833,638 716,931 764,644 843,742 658,873 941,628 883,652 1045,678 950,698 964,632 998,649 950,631 701,697 937,638 707,640 794,705 989,687 677,944 927,676 730,664 884,814 766,738 998,658 765,758 1009,690 1007,644 744,747 1025,634 812,684 765,931 873,935 814,942 850,679 1015,800 954,922 783,934 780,681 770,935 872,626 824,645 711,689 888,784 804,914 972,923 888,939 798,646 812,935 761,711 1000,637 1006,944 707,647 843,939 854,926 1012,719 786,664 1045,854 927,657 1045,747 964,667 1047,770 728,945 672,939 881,657 817,723 920,683 768,666 923,642 878,682 1038,788 669,636 748,842 790,937 842,828 950,654 923,660 1027,933 870,841 703,666 703,661 891,781 1033,848 852,683 949,639 817,760 995,779 910,938 857,808 813,625 904,647 934,701 845,691 1020,932 712,943 719,918 1023,718 800,944 825,631 708,715 915,625 884,757 891,933 878,629 966,643 700,634 884,928 872,650 916,657 771,937 841,805 915,868 997,633 665,931 1040,636 1029,638 761,687 949,697 666,780 718,939 671,637 872,935 1009,928 1006,925 886,756 841,656 948,733 747,804 834,921 745,627 803,687 1002,793 675,646 1002,790 896,921 1042,659 986,698 874,700 684,938 759,660 977,650 673,630 758,623 925,672 947,634 824,929 914,939 960,945 969,942 795,636 683,666 995,926 845,717 998,922 718,648 875,657 901,941 955,664 998,672 980,698 764,932 1026,932 718,932 671,932 989,747 976,806 686,660 910,630 699,629 811,624 996,813 995,752 938,927 777,919 771,935 858,836 1017,920 1024,945 693,936 996,682 895,643 1003,761 1042,716 713,645 662,645 1030,654 1044,809 817,652 1035,939 706,638 790,635 976,808 871,696 1037,675 934,811 984,623 1036,705 860,643 1043,653 965,743 724,644 692,721 997,936 936,659 720,687 897,637 712,654 931,656 1015,651 836,646 886,722 989,942 997,689 694,769 685,632 819,830 989,654 982,652 992,624 825,934 685,654 918,735 882,800 649,813 895,697 932,858 999,646 1029,676 956,680 766,848 1050,831 872,625 772,928 1006,860 865,935 673,924 874,731 727,945 764,793 908,627 804,646 674,669 879,948 896,924 885,753 1010,689 869,643 682,632 1053,671 918,650 851,780 761,652 701,633 1009,679 692,641 837,671 664,774 891,642 782,752 833,904 847,636 690,760 830,925 784,921 775,938 947,697 719,926 688,834 725,633 951,864 846,651 905,935 734,647 849,690 949,929 923,670 909,706 822,678 785,665 765,653 938,671 925,735 798,768 978,927 926,655 670,946 1006,682 928,816 931,947 661,671 697,948 977,675 701,642 714,825 871,629 787,939 727,654 1018,931 719,694 1017,769 755,926 650,749 742,940 952,919 772,928 713,758 746,924 672,659 769,631 940,648 938,762 795,630 811,690 748,635 665,765 785,930 781,706 913,631 1017,655 786,628 898,623 991,682 1011,937 984,775 890,684 947,660 880,659 966,741 1012,640 823,635 969,677 716,941 824,703 708,629 908,756 688,646 665,824 702,627 690,940 815,933 822,638 697,800 785,673 1055,863 720,652 741,946 750,934 1030,859 954,939 970,734 761,655 1018,922 735,928 919,930 844,644 940,943 736,750 994,921 1015,778 1026,918 1009,658 801,624 942,625 1023,806 746,947 792,716 986,639 760,787 686,935 847,795 931,929 706,920 911,685 913,658 720,695 1056,939 974,934 969,695 977,720 776,934 1024,878 1014,686 760,923 977,942 958,636 735,661 1036,940 1028,670 1024,764 1013,653 827,659 963,799 755,920 860,626 962,823 852,938 813,659 691,687 726,689 962,762 1041,942 963,685 777,664 936,659 820,777 969,781 1012,931 1035,791 996,926 970,680 898,935 870,943 832,925 964,834 766,648 650,662 904,689 665,921 945,651 897,944 817,625 928,647 990,923 924,928 953,689 769,939 680,636 936,623 929,933 844,689 697,630 1051,927 997,631 1030,924 987,818 841,935 887,689 806,925 804,939 908,943 1007,738 921,719 1024,697 907,939 900,927 929,726 839,738 678,939 914,652 861,929 702,939 1014,927 966,929 908,653 988,623 953,801 691,681 717,937 935,635 966,733 1008,735 661,704 1010,933 883,934 949,642 712,702 659,660 920,939 697,692 814,737 1001,785 940,931 1002,667 783,945 1016,791 943,849 743,686 742,641 951,649 1032,736 819,655 983,664 807,670 868,707 828,934 1011,808 971,701 671,934 970,945 776,645 847,936 868,928 770,624 941,925 835,932 764,932 729,682 735,798 986,632 654,630 815,749 1052,693 977,695 1018,748 872,937 919,942 741,663 930,733 653,930 755,918 850,688 668,665 897,653 913,737 929,931 979,642 962,847 957,942 778,650 939,830 973,710 672,623 704,933 744,946 799,948 794,657 939,742 864,791 768,928 683,922 1048,717 976,828 670,710 946,717 782,625 1006,717 988,683 773,928 960,691 949,687 865,649 738,658 919,649 969,926 782,946 715,633 727,677 980,918 795,931 896,661 801,940 1022,650 1000,714 1022,939 650,650 952,910 871,946 846,631 799,731 883,677 778,642 981,718 783,939 850,925 677,925 740,939 783,930 1042,715 1006,650 957,933 876,671 673,934 926,825 678,632 920,941 659,684 856,936 913,937 993,649 812,926 711,677 1006,683 705,948 826,849 653,696 787,922 690,625 791,649 986,735 793,626 721,679 877,845 781,666 948,656 930,665 779,941 655,631 706,940 814,922 949,673 949,640 876,927 879,721 687,644 825,662 1048,934 681,745 667,638 976,707 950,933 1000,639 934,639 732,624 735,791 980,941 1049,675 1049,683 1042,632 966,666 866,945 841,676 926,626 923,942 915,940 907,921 1032,694 1001,645 979,926 690,652 985,693 913,624 755,917 1040,654 1048,631 1025,664 967,678 961,766 920,635 845,924 826,650 786,631 749,943 902,632 976,648 676,921 1005,924 963,658 757,942 652,796 846,929 1007,803 672,659 745,924 678,682 706,646 854,639 742,932 848,822 993,715 1014,789 951,674 960,641 702,694 943,781 723,691 680,900 921,671 932,643 1039,720 686,735 649,658 1024,635 947,767 809,643 654,629 942,638 964,918 830,698 736,694 982,624 950,854 861,919 950,651 770,641 994,821 911,712 986,800 740,933 694,667 669,643 663,627 847,813 709,627 990,920 992,637 673,656 1042,925 907,944 927,939 800,926 776,934 976,688 687,644 992,822 800,942 941,707 720,942 922,933 703,628 741,923 1043,922 783,677 789,663 1011,685 719,711 1002,708 930,671 899,766 801,752 703,932 698,652 857,625 940,647 1045,768 736,726 668,921 774,947 1038,666 962,639 680,637 1041,937 926,650 902,732 857,682 847,663 1039,932 773,946 923,946 840,946 824,924 976,927 813,632 818,638 999,762 687,700 811,804 771,661 788,943 889,629 718,788 794,632 902,948 716,916 993,674 965,701 663,630 995,824 902,936 704,619 779,938 695,668 685,925 946,870 744,665 727,861 686,659 832,723 837,643 981,939 741,688 919,649 681,676 1004,628 767,651 1005,718 990,860 961,732 819,938 945,939 759,628 754,925 913,629 861,665 953,928 801,866 912,944 940,691 1039,625 830,668 946,736 874,647 828,707 981,808 942,922 774,672 933,663 696,862 761,633 951,683 795,928 752,671 672,664 890,687 981,919 743,865 751,625 746,803 947,941 795,638 1021,638 852,936 751,654 863,660 957,653 1025,923 956,680 913,654 690,935 1013,927 816,673 1043,695 686,931 856,924 770,709 721,705 736,629 739,682 1032,942 657,654 791,745 956,633 945,644 939,643 902,650 952,661 1004,688 1043,927 889,797 796,626 748,629 878,941 939,683 959,932 1045,721 906,934 814,665 910,660 991,931 1046,672 725,688 815,628 1010,713 768,643 746,926 905,887 816,707 938,652 852,945 858,664 652,727 1000,690 1031,760 699,663 894,845 971,660 831,631 1005,815 771,625 749,648 731,665 968,626 796,736 677,634 872,625 773,754 1028,702 938,639 1041,868 1016,685 905,858 684,854 951,673 652,936 1015,741 941,684 786,923 766,672 934,658 787,944 776,647 953,665 963,643 804,784 886,813 739,665 1020,622 990,643 892,684 807,657 1041,665 942,946 930,702 762,625 1051,705 792,776 855,638 1041,747 809,653 1015,634 969,725 1009,944 938,652 949,719 850,839 888,928 849,671 768,757 1014,632 671,622 760,853 931,644 941,800 775,937 746,681 758,937 836,943 1052,809 1016,863 653,636 927,948 924,797 682,939 1019,739 882,926 956,756 801,944 814,935 901,646 1056,743 829,721 726,647 758,778 869,643 862,902 966,919 985,630 858,675 1031,635 963,820 928,632 941,674 827,712 993,948 875,624 754,630 829,788 779,707 838,943 741,916 679,658 777,668 693,937 814,917 914,655 968,756 847,935 740,638 916,662 1040,922 977,647 1011,643 811,834 850,919 894,654 872,883 969,946 1003,932 1029,630 765,931 899,730 778,946 1035,775 848,761 782,686 782,626 733,946 999,741 993,808 1038,935 1038,665 1053,643 738,924 854,661 688,642 949,943 680,637 888,684 954,677 1015,761 952,844 707,873 772,885 728,922 684,938 983,642 858,943 878,927 973,816 821,947 876,924 908,726 904,629 804,930 703,932 1031,659 800,656 722,675 741,920 870,922 947,822 663,636 732,628 676,799 985,921 722,942 1027,629 963,775 866,872 690,651 669,643 957,930 874,759 820,671 733,650 1020,686 983,675 945,643 821,644 910,933 775,794 1034,648 775,675 689,849 942,816 882,642 1001,671 913,656 789,930 693,928 702,635 896,942 656,652 803,812 945,847 772,925 1022,710 763,668 792,736 915,942 913,903 707,764 699,625 898,703 838,637 735,673 995,682 768,640 977,638 933,929 847,655 985,924 787,811 774,826 983,677 724,631 774,681 976,928 815,633 889,887 714,921 916,646 1022,921 1025,693 930,685 816,728 689,940 969,656 712,817 857,706 969,627 656,929 851,919 919,941 1007,940 658,700 767,714 698,716 691,638 729,636 912,745 1036,651 722,694 1040,688 744,694 908,667 875,927 774,655 959,687 918,724 718,650 653,870 1047,747 863,640 884,660 950,688 957,928 651,932 660,942 708,679 1044,671 1006,645 845,931 730,630 688,698 933,638 1041,805 923,653 735,760 777,930 796,628 760,931 738,754 807,632 1013,697 795,626 986,643 695,655 1004,929 792,932 909,644 688,833 944,929 919,738 833,663 993,678 767,921 838,914 856,937 912,673 998,691 806,675 807,942 972,838 976,740 819,941 893,776 966,930 933,882 1019,669 837,641 927,927 924,751 858,658 1024,671 933,939 821,849 696,649 935,665 821,923 990,801 849,626 783,762 1011,702 768,731 967,920 973,677 946,945 943,856 1018,943 702,668 813,942 912,643 998,841 835,944 969,692 931,681 980,943 1038,625 902,940 861,778 670,930 734,712 765,655 963,815 706,650 836,922 715,640 930,934 743,717 701,921 948,762 811,926 774,686 736,625 1005,658 1023,646 733,671 1027,663 1003,640 856,664 750,662 1012,643 783,806 715,641 752,630 711,718 725,645 909,923 983,637 1015,933 943,892 920,644 826,676 905,700 677,944 983,926 791,927 797,674 856,670 711,635 875,729 883,632 911,637 777,645 918,741 888,661 898,919 654,670 816,716 682,919 860,947 842,942 860,636 1040,938 971,694 679,930 845,652 934,664 1011,871 928,930 694,938 913,788 933,942 816,681 1008,921 815,658 861,769 1040,639 906,636 866,692 899,673 748,688 1031,710 868,924 927,758 1053,936 828,780 739,676 744,942 871,943 998,943 870,859 1012,654 1004,779 1049,711 677,926 763,870 948,642 884,941 679,663 875,655 884,718 710,917 779,665 929,924 658,663 893,714 757,696 872,784 872,641 787,630 870,705 792,621 985,814 992,938 726,628 716,681 699,924 1021,683 902,731 955,642 899,658 828,626 966,622 884,703 997,755 976,926 1026,742 1047,926 737,650 874,938 814,664 852,627 735,692 697,924 847,924 912,672 802,638 712,719 861,656 959,923 950,694 867,759 807,670 1052,644 696,633 755,654 901,786 1052,751 704,662 1037,940 1004,839 815,682 651,654 1001,734 971,756 838,651 981,875 721,920 949,840 918,653 753,931 799,685 997,828 1023,836 742,666 655,924 662,806 952,638 816,934 793,636 780,940 792,658 1036,757 994,872 794,937 897,629 741,729 965,947 1050,654 684,942 992,625 984,694 984,930 761,924 651,752 980,689 689,946 855,827 894,764 882,695 817,711 820,940 985,645 855,687 669,683 898,678 954,763 882,667 899,670 970,919 774,646 954,712 978,711 956,750 824,709 967,745 896,672 793,922 1039,644 699,943 970,662 815,944 931,921 768,939 677,625 932,658 712,741 856,645 919,773 793,711 767,757 848,625 882,695 667,649 944,640 1011,920 680,668 980,924 929,930 819,920 986,647 1034,677 942,750 999,714 867,663 920,644 655,701 977,934 705,630 939,651 1022,636 976,738 1002,920 813,819 914,935 1035,715 894,636 796,876 857,685 794,881 762,921 830,646 914,692 813,923 864,667 853,930 1017,691 815,638 712,728 752,945 689,942 996,941 728,941 920,728 972,934 789,932 991,925 1003,810 1012,691 831,927 933,764 919,942 956,644 1031,690 996,652 911,647 964,938 902,653 796,938 816,941 672,628 1018,930 868,921 967,669 856,697 860,643 875,940 732,633 954,942 681,728 754,940 989,924 883,711 928,651 717,735 1053,657 940,716 718,928 665,856 725,639 997,749 1004,924 706,699 834,645 852,664 884,920 672,882 679,861 681,737 819,946 979,625 810,921 677,641 750,945 724,836 701,932 777,781 765,625 922,722 662,945 989,768 935,684 1012,625 1034,941 1004,646 926,934 1039,922 746,649 1028,627 981,643 812,634 850,659 894,637 892,657 905,931 689,660 1050,766 1035,923 932,630 853,924 754,628 832,670 798,653 925,939 945,626 836,863 672,921 860,886 687,801 1009,646 1022,774 1013,857 950,934 785,790 884,648 823,657 652,919 872,926 712,929 794,624 666,770 860,739 966,637 931,667 800,944 714,942 785,721 929,942 1030,770 995,932 931,926 731,640 745,866 651,898 734,654 939,653 787,664 775,638 857,889 732,943 976,941 745,833 810,924 898,687 832,828 958,683 940,709 956,659 896,685 910,651 1042,784 834,928 976,935 654,663 935,932 865,638 803,829 982,929 936,721 780,727 720,824 877,941 669,929 750,790 720,668 944,675 855,944 741,643 872,945 924,839 877,919 842,869 764,839 875,926 986,720 895,921 758,751 793,754 960,937 779,637 705,690 982,632 960,944 794,651 1050,673 834,678 718,924 914,820 1050,650 841,687 862,944 798,666 817,664 975,639 776,683 998,653 797,776 752,680 782,929 922,729 865,639 928,890 667,849 1035,800 710,937 793,937 1042,759 1011,927 709,702 873,810 898,932 804,869 1045,921 745,943 747,653 981,696 959,648 663,651 929,631 921,651 994,740 1012,659 998,927 709,627 663,655 897,927 796,693 653,925 921,637 859,653 1012,727 743,652 993,742 827,674 969,923 1025,846 923,752 821,687 769,930 678,643 907,942 886,671 696,636 783,643 853,802 786,626 815,924 919,626 954,650 1014,924 817,670 668,884 753,643 721,631 848,931 936,646 891,931 1011,668 933,943 842,923 917,932 923,755 757,653 763,725 1044,674 935,704 750,904 935,631 1003,685 726,928 735,936 814,861 808,663 829,930 1036,714 926,724 996,743 730,936 1044,934 938,625 749,648 849,643 992,794 718,668 967,710 759,931 870,656 1043,624 693,669 996,768 941,674 690,931 662,937 727,662 947,705 940,637 974,628 690,925 909,656 1043,644 982,709 1048,625 924,921 897,655 950,771 842,932 1011,940 944,930 910,697 797,714 783,697 825,659 684,618 727,648 774,646 942,624 809,631 1036,921 651,714 945,773 807,661 845,716 907,661 994,790 1046,695 810,649 820,634 865,626 998,637 945,648 895,648 863,641 911,652 666,933 915,670 692,942 808,937 910,646 793,704 879,941 874,640 745,811 894,691 1022,666 962,932 674,933 681,674 853,925 769,641 1004,923 877,670 1014,776 690,669 940,937 825,802 854,927 665,886 832,942 814,857 971,797 668,710 777,640 958,639 719,705 726,662 966,943 869,655 927,669 708,744 955,629 920,668 907,933 807,664 1003,649 700,625 996,687 722,670 930,932 649,941 753,665 1014,932 993,855 982,668 987,759 844,658 873,646 673,630 718,933 665,930 706,811 1022,931 664,926 665,938 824,938 854,682 1037,753 682,922 958,846 718,947 1009,922 940,852 958,697 996,836 907,675 960,679 978,668 719,717 783,783 777,920 953,646 841,743 939,943 693,648 670,939 803,652 907,804 894,659 887,657 987,855 779,803 819,686 879,921 743,923 1040,822 950,655 951,632 1052,678 914,942 751,732 735,649 817,647 920,672 666,750 923,636 800,823 820,656 676,636 920,665 814,649 785,862 743,655 1026,743 1052,777 739,923 768,939 719,867 685,685 783,945 731,923 712,924 905,633 1015,863 931,744 1009,643 1040,721 982,657 948,924 800,652 842,641 979,759 879,654 827,940 757,650 897,626 1047,674 786,662 792,891 792,654 1046,741 963,643 948,923 1053,667 867,940 948,721 743,730 836,737 721,656 764,635 713,624 814,646 695,711 881,676 958,806 817,659 786,930 739,933 874,845 985,936 921,929 962,656 988,703 759,919 925,751 1035,695 901,882 1025,944 688,622 1014,930 749,933 877,649 893,922 653,916 682,745 886,741 761,927 881,662 921,791 994,712 1031,806 742,936 822,934 835,683 665,782 809,922 826,624 779,918 790,766 972,661 691,650 921,679 722,944 883,705 880,921 864,640 808,925 1011,761 934,938 649,641 1011,624 816,724 813,919 841,925 981,656 983,684 1029,666 1018,940 837,924 822,931 795,816 928,665 824,724 893,719 937,923 1040,732 1035,781 970,676 849,678 1012,926 949,930 993,687 949,630 762,933 709,823 838,921 966,726 811,633 999,779 989,752 972,654 768,625 951,788 753,678 970,705 842,661 885,637 995,639 871,942 861,943 902,762 921,931 925,653 1016,691 967,918 980,859 649,664 851,669 948,939 739,624 955,635 1037,745 745,620 1009,698 722,832 1035,639 742,658 885,633 994,667 777,709 968,928 912,826 834,633 802,654 1008,943 806,800 851,668 719,920 949,674 694,728 698,929 831,833 671,942 993,708 968,678 1046,939 1005,708 718,941 735,652 885,712 1035,681 846,779 889,893 827,624 958,752 1025,921 743,941 913,853 897,700 784,772 949,691 1010,751 812,890 1002,675 1051,738 832,725 1013,673 927,779 750,629 664,745 1022,774 1018,663 1006,741 974,939 973,920 897,688 1050,748 667,701 682,653 792,735 703,923 1028,920 694,937 759,658 735,641 679,921 988,685 893,941 965,935 966,707 813,641 861,714 685,692 668,941 920,675 852,635 811,924 1031,646 825,662 866,784 961,663 1025,768 996,700 1019,690 1049,667 993,680 972,650 1018,850 897,635 985,943 830,854 1041,717 968,742 916,699 952,725 736,939 737,786 690,637 1014,697 689,942 999,664 887,936 1017,655 1017,660 984,663 986,645 948,674 931,657 886,918 889,771 682,633 956,933 748,660 986,923 877,696 721,620 1052,761 741,692 925,918 1048,845 923,936 1006,843 1024,734 919,670 865,944 1034,698 804,643 728,699 966,803 912,940 864,922 994,937 761,700 899,727 916,670 757,947 1009,945 1022,737 743,669 744,661 678,665 1058,640 772,671 863,665 748,942 791,636 828,621 870,941 980,728 799,940 784,941 1029,662 832,743 711,945 759,931 656,926 830,860 897,932 893,638 887,945 770,671 675,780 697,939 836,889 956,644 785,826 775,925 958,652 908,651 749,678 1002,730 1047,705 1005,942 971,806 679,634 1032,753 795,944 742,717 930,696 838,939 932,752 733,933 670,685 789,921 747,652 1020,729 788,733 792,944 757,927 920,679 757,634 927,847 673,897 970,713 743,649 948,694 959,631 1015,671 737,922 739,797 943,681 889,633 749,920 797,666 679,658 985,709 1048,651 925,925 861,824 930,730 665,871 983,683 804,924 1045,742 750,663 857,928 918,624 1037,777 963,791 905,673 748,920 805,919 774,679 704,731 1031,684 811,782 827,941 1030,718 777,660 924,628 655,944 1007,652 978,681 903,631 924,762 758,933 854,646 756,929 727,937 719,627 787,646 997,659 1048,738 976,938 698,689 950,892 934,715 786,935 955,938 958,932 762,919 893,750 731,931 1030,640 978,661 980,719 999,709 656,733 969,922 860,918 886,685 803,944 942,702 983,698 875,640 729,681 815,718 987,708 1051,943 1028,820 991,774 876,940 777,653 715,628 1018,857 869,866 688,732 678,641 914,886 902,638 767,651 804,645 772,941 721,661 683,919 683,944 743,929 751,940 694,677 922,796 957,684 928,769 783,639 708,666 760,646 1010,632 986,844 943,707 660,939 871,628 677,623 937,691 779,623 908,821 690,712 784,690 983,718 845,940 675,676 774,817 992,765 1016,682 746,921 940,829 737,647 953,662 1014,920 738,634 673,941 880,940 1011,807 1036,730 749,731 679,691 929,631 750,930 932,928 770,626 722,657 1037,763 843,628 891,795 729,700 900,633 841,670 690,946 804,698 707,937 660,934 882,630 670,921 1039,938 1016,680 949,648 1052,680 874,651 656,928 1052,659 969,692 682,641 951,791 986,764 828,642 763,655 674,845 715,680 950,782 921,817 918,928 955,639 720,924 960,750 891,744 950,670 982,711 998,751 953,650 669,628 956,659 735,635 798,627 905,926 668,648 679,666 1002,694 971,655 743,644 1034,926 849,686 715,662 846,708 896,644 717,634 672,635 996,937 920,716 673,707 949,945 816,628 1006,778 909,929 1033,944 840,919 992,694 754,926 936,680 659,920 996,653 1040,932 978,692 910,738 1041,935 726,927 844,650 1031,683 1012,694 1037,708 933,874 906,624 761,710 892,654 1023,694 994,939 789,935 856,791 828,648 754,946 903,665 789,646 744,925 823,919 904,921 1006,785 1003,757 1040,840 798,667 948,643 934,636 896,684 795,623 775,677 853,939 902,777 791,673 743,926 854,939 921,707 826,677 922,648 801,724 784,627 704,637 1024,660 685,673 1026,627 721,895 811,645 961,726 951,637 846,632 824,770 994,834 951,681 886,681 893,701 1029,625 738,642 1030,784 836,651 817,641 836,638 847,658 1045,636 1015,707 741,676 1048,942 1049,629 808,938 788,933 834,920 928,645 706,697 998,925 814,634 719,849 663,632 846,827 956,677 898,938 988,942 909,686 802,641 670,706 990,663 916,699 957,765 654,649 658,650 1042,775 1041,937 963,921 782,639 1047,943 903,740 903,835 979,726 764,674 940,626 888,649 693,660 940,743 867,924 682,944 732,933 680,917 834,927 761,635 1030,698 910,942 700,689 959,929 1016,778 1019,766 898,643 1053,932 765,929 944,664 650,650 879,626 916,634 703,638 1023,634 1021,716 654,924 703,682 1028,941 919,664 1047,943 943,753 881,933 955,748 1037,648 1039,869 984,930 801,920 942,633 836,664 1030,663 931,925 1042,704 730,750 889,837 914,794 857,648 787,627 802,921 1030,810 683,740 932,831 872,689 865,929 668,942 881,627 849,646 824,626 874,944 675,686 972,753 930,933 939,798 957,669 764,646 937,740 1000,633 732,646 781,768 824,646 943,708 668,818 1048,923 893,656 887,623 743,695 1055,924 951,705 1035,656 813,639 963,941 799,632 945,654 1047,933 667,925 825,867 735,656 719,941 937,812 731,648 1051,650 742,642 1045,765 873,676 964,662 843,635 860,633 1045,787 903,850 757,922 827,650 708,880 1009,925 788,649 813,707 661,695 959,851 795,685 811,725 763,662 949,943 934,662 721,700 700,929 679,938 870,826 779,925 932,945 904,708 982,790 845,637 904,681 747,657 856,732 793,637 914,744 749,634 719,926 735,925 945,676 855,921 778,625 754,638 888,830 1021,649 995,943 670,678 1039,774 969,629 670,628 696,743 721,667 880,644 706,656 1052,630 651,659 950,722 683,648 801,654 729,633 925,661 927,939 768,709 845,649 676,940 1027,920 778,722 798,811 894,808 871,729 654,690 1033,639 720,722 973,818 780,709 874,830 1053,701 713,688 779,815 893,926 1012,646 1040,935 989,668 967,779 834,636 943,682 1000,637 835,690 1034,815 1016,631 753,721 844,755 652,652 1012,751 834,932 762,769 1002,717 648,670 901,625 991,669 952,669 679,662 722,643 721,845 735,636 987,695 801,651 979,944 757,932 1019,737 759,929 682,664 768,658 894,927 1022,704 680,631 948,926 652,665 962,722 704,629 851,680 924,782 917,919 1028,630 845,649 953,723 1040,698 990,939 846,627 733,829 1036,682 964,928 985,694 979,650 983,668 918,668 1008,745 1056,808 991,933 909,806 710,942 1042,946 892,802 885,923 954,673 869,650 973,699 993,746 896,941 698,631 1046,883 799,925 915,628 816,695 1033,696 1002,846 871,705 1002,674 930,932 1040,789 770,631 827,637 956,923 691,944 969,944 820,671 851,944 664,716 968,923 745,921 880,633 1031,694 674,889 937,639 970,927 892,635 900,919 1026,625 794,634 822,641 722,924 979,785 715,921 1013,787 951,938 732,681 946,715 816,934 655,671 838,657 738,924 1038,734 702,650 710,935 657,643 718,833 738,926 882,719 760,676 769,927 979,929 985,648 854,756 724,923 995,750 875,647 885,693 772,743 978,946 761,928 894,714 656,934 792,932 1017,927 944,943 910,922 662,647 992,824 987,927 670,738 664,639 922,622 699,630 806,660 717,948 719,665 657,943 800,679 739,630 845,934 927,723 957,649 718,694 835,666 877,841 794,934 866,639 987,772 1025,654 1000,633 930,707 794,658 731,649 663,650 794,706 909,804 1020,766 653,627 873,640 823,656 751,660 914,920 996,642 997,633 972,740 1001,704 766,661 748,911 871,928 692,942 874,628 914,660 904,675 1037,685 992,758 794,938 746,630 986,929 705,867 1021,887 1016,941 897,927 1051,660 1006,934 772,643 917,903 1017,919 795,699 729,789 922,945 699,648 984,728 968,770 884,650 898,656 686,935 873,916 869,724 933,848 676,938 953,708 773,943 960,730 882,760 676,923 814,825 1046,673 858,646 667,635 714,676 808,939 871,626 981,697 996,942 942,633 1034,639 775,942 1019,923 909,676 946,940 907,803 957,673 949,651 721,837 858,941 858,743 835,937 1000,935 942,708 961,655 785,641 839,675 920,654 822,723 763,940 678,655 779,676 707,928 794,924 983,664 938,929 741,931 952,707 959,647 949,813 898,942 658,940 658,621 840,650 955,702 689,936 860,925 832,648 796,930 749,743 712,664 833,817 903,694 992,942 882,920 817,664 761,757 949,628 772,643 1004,632 991,729 755,941 926,860 878,656 767,648 951,822 925,938 937,927 656,695 1010,812 688,652 661,688 943,647 1036,818 828,662 920,929 712,918 995,946 842,940 1007,679 971,939 875,927 887,745 1046,642 890,925 750,878 912,926 1045,926 749,929 669,699 1002,813 743,938 942,937 904,777 795,627 947,677 955,739 956,925 1012,653 934,624 879,845 1012,663 809,670 694,933 1045,729 833,936 730,649 817,649 970,650 819,691 843,651 711,871 856,793 969,761 791,927 676,672 975,633 875,653 1035,934 846,764 875,631 750,708 945,929 748,629 953,873 834,743 938,638 711,925 781,682 670,946 797,680 796,926 1021,941 964,922 829,665 971,680 886,641 690,654 995,933 867,652 684,839 1036,651 864,641 1036,637 838,660 995,925 827,727 854,945 750,666 829,625 1022,634 1011,636 805,933 821,769 650,930 838,672 778,632 1006,668 964,878 1023,659 1015,933 992,926 1016,710 966,793 895,771 921,635 798,645 998,686 856,943 679,724 742,671 848,656 893,940 1010,702 922,718 773,932 911,626 726,623 892,939 804,646 959,801 797,664 812,663 1009,723 907,709 679,623 1041,671 865,940 851,694 758,736 716,625 916,661 812,637 731,636 811,938 932,810 1018,801 976,684 889,835 884,660 706,635 996,756 762,782 697,644 801,844 771,919 666,821 890,932 959,661 1040,936 700,778 671,693 958,691 1026,716 826,671 765,940 960,652 1050,877 1029,651 811,924 1014,640 847,637 821,931 878,640 1049,847 675,938 985,819 731,828 664,699 942,644 880,677 719,633 1042,720 772,921 1002,885 667,761 798,710 877,942 1005,940 914,921 1030,643 844,655 964,668 756,637 984,669 757,651 1055,859 720,638 854,930 672,670 938,628 1033,626 787,773 1004,938 819,929 1050,634 1000,925 988,849 938,662 1019,703 1012,643 1031,795 668,719 654,656 970,632 681,945 863,817 1013,718 722,629 982,727 674,942 709,936 982,635 654,943 826,718 887,945 937,672 767,637 826,921 716,935 932,693 1009,709 978,635 933,933 1029,751 922,765 1036,923 818,936 840,919 674,636 807,675 767,940 934,938 813,923 816,938 778,927 673,931 792,651 849,922 869,676 949,641 912,764 725,626 742,944 1017,745 876,632 927,947 843,645 877,778 804,628 817,673 880,631 828,671 1006,689 670,770 676,932 937,662 1015,941 926,673 753,654 925,625 675,682 949,931 866,627 996,934 675,919 906,686 1009,808 853,928 947,671 1031,935 716,643 997,752 878,933 832,641 932,630 992,735 808,945 992,661 1024,704 771,624 776,716 840,768 1048,937 772,863 811,717 875,677 739,927 1016,828 1033,813 1029,859 948,634 875,662 780,802 903,706 921,655 1014,639 985,779 751,687 783,939 986,765 1014,649 845,802 745,665 1041,735 862,918 852,796 977,724 737,874 698,631 652,636 1049,926 964,724 866,659 943,664 862,773 680,937 811,868 1047,689 762,644 771,936 653,717 904,623 797,753 841,928 718,668 843,766 800,867 724,924 954,940 841,634 956,935 772,653 782,639 682,942 1009,863 1003,689 842,811 996,932 1042,761 794,632 789,642 938,684 1026,628 895,796 1020,745 901,920 717,726 983,944 970,651 996,941 751,794 801,647 1000,924 750,647 685,661 1050,947 893,806 828,640 810,750 823,943 716,945 825,671 956,794 1008,932 914,807 927,642 760,648 1005,629 882,658 817,778 970,634 741,923 883,656 682,672 954,922 856,940 667,655 901,758 1013,724 672,693 651,633 676,676 963,732 765,628 801,718 1046,766 653,669 1008,850 901,695 822,634 858,937 978,933 873,649 713,761 766,726 749,936 720,625 877,637 953,935 955,658 703,924 816,642 749,931 948,663 877,669 1017,628 1053,818 852,895 1004,724 1008,718 773,652 695,635 821,944 952,669 996,929 970,789 1021,644 715,637 914,771 922,651 870,879 957,927 707,640 838,945 981,648 1008,686 952,920 1022,919 1020,790 1018,930 758,680 886,792 726,734 970,926 992,684 1007,649 981,937 959,937 1049,695 919,929 808,937 706,859 1036,921 994,663 842,936 772,676 706,871 693,637 1023,920 1028,656 865,703 838,879 903,727 897,919 795,650 859,926 682,646 751,693 976,853 770,626 710,655 944,922 698,759 1036,636 1034,782 801,684 658,678 841,856 889,670 926,924 688,651 790,919 659,859 951,788 998,700 937,935 1007,741 665,640 700,655 658,671 726,629 954,690 712,646 855,934 965,656 790,641 665,811 801,685 736,708 892,650 1044,930 1040,850 724,664 862,784 1035,769 833,626 871,641 941,699 726,946 806,936 650,763 997,922 939,652 1016,699 776,752 800,631 998,627 688,654 671,652 1033,930 958,630 808,656 1002,690 965,761 836,928 970,921 890,792 1013,656 1018,664 796,925 791,635 756,915 832,626 757,921 1027,736 1041,785 844,780 714,689 978,652 963,673 732,640 1008,658 725,924 663,722 776,670 965,738 959,693 792,642 943,638 977,631 1006,643 675,800 677,784 923,623 892,855 671,648 1052,860 771,648 758,947 859,935 879,719 845,749 961,712 997,684 878,621 841,686 983,738 678,681 969,706 747,772 976,699 1034,932 784,642 801,677 871,937 915,930 1013,673 893,933 980,926 997,938 944,935 858,686 902,765 702,931 655,939 1023,689 666,654 977,645 768,925 1019,802 1031,766 989,638 977,944 717,930 1046,933 668,619 1019,639 740,943 935,625 1030,634 855,649 1017,738 687,716 663,662 911,946 735,705 812,932 961,937 799,932 912,936 949,644 679,946 1027,943 980,746 959,719 936,679 851,934 827,661 872,672 657,645 938,645 696,677 1037,708 1002,802 661,649 764,633 826,926 678,924 1046,935 774,929 1034,763 759,936 897,946 783,623 683,629 842,926 725,941 730,663 796,945 906,933 1039,625 852,769 766,670 906,668 856,643 1044,744 819,643 728,800 919,803 1022,747 1016,687 762,638 716,877 1013,691 697,817 687,790 806,642 1016,724 963,654 1021,650 802,931 730,644 786,727 709,936 666,635 817,927 787,920 654,942 920,625 774,672 724,929 1048,835 908,636 656,633 1033,645 921,648 1002,791 727,834 949,628 798,713 946,648 1047,628 959,760 917,738 773,678 926,673 696,660 862,685 890,723 1034,945 900,708 731,661 781,699 1051,760 968,780 1035,948 991,657 913,936 963,696 1027,689 969,822 1038,867 981,755 953,797 874,645 943,665 780,737 1033,865 975,643 863,921 1033,933 745,669 713,924 844,924 935,629 960,641 966,932 827,655 885,636 746,782 806,643 914,649 1009,818 648,848 729,699 818,934 768,627 1024,631 968,634 872,868 1049,665 1009,742 1038,674 664,712 699,650 955,657 661,802 792,663 886,947 705,922 1009,672 1028,868 674,933 945,923 981,813 693,946 804,662 649,927 1003,639 998,934 1001,677 951,744 854,657 962,660 975,796 863,930 698,745 1031,945 694,644 971,723 659,627 961,935 907,935 917,922 888,648 991,711 1037,641 897,672 867,932 781,669 915,643 1049,764 1024,945 1019,652 845,626 924,868 708,744 749,921 764,704 1044,828 1052,727 724,635 1005,741 946,673 939,941 880,873 935,944 853,927 751,646 1024,743 906,757 909,751 961,924 933,737 769,668 1035,931 1028,737 876,709 955,632 891,670 727,634 989,643 806,931 921,940 931,769 874,804 780,735 1039,940 925,942 1024,744 975,751 865,629 972,714 921,920 811,637 1026,818 711,646 728,780 838,924 1033,626 736,658 984,946 937,931 824,851 653,857 995,665 690,675 969,649 936,815 853,663 786,642 831,671 893,707 1023,674 765,644 717,651 850,947 685,665 821,640 895,712 841,941 669,679 751,920 987,929 1050,674 832,920 659,630 717,823 768,943 682,781 997,835 920,810 1022,930 952,702 865,888 961,946 667,638 794,753 786,922 740,922 801,672 825,844 985,668 952,916 1012,651 1021,647 995,678 781,942 883,824 799,627 910,696 877,643 1009,724 860,635 827,640 1042,870 827,687 1023,657 1038,711 875,830 887,707 718,644 763,630 987,934 921,664 1011,939 1022,687 851,660 1036,923 690,919 712,669 845,938 742,649 724,920 950,933 720,716 974,780 670,687 985,637 657,671 927,937 948,696 928,648 794,939 920,650 793,671 657,897 876,804 1019,723 876,932 823,643 847,870 712,945 695,883 896,632 760,921 772,686 962,743 1023,677 757,668 716,688 808,924 865,650 875,921 768,863 805,644 667,651 813,752 935,930 900,941 872,923 902,741 980,800 1018,919 867,628 741,694 1006,709 1000,787 740,937 711,649 861,725 891,927 760,646 735,705 854,936 854,653 654,660 863,942 813,923 983,680 789,712 937,634 678,914 834,641 981,860 969,869 957,713 771,806 782,633 1061,649 968,694 889,648 800,642 895,639 799,924 985,625 970,779 988,769 987,876 1049,753 989,731 914,741 871,663 815,639 704,926 915,630 933,708 736,752 995,817 940,696 860,700 684,739 820,645 869,636 714,640 657,651 668,625 670,649 838,622 872,646 898,661 1037,623 1046,626 904,793 920,852 906,638 937,708 1047,633 837,663 709,943 732,665 997,723 654,669 705,634 745,641 670,939 670,624 703,667 661,932 903,754 693,803 762,933 667,642 853,944 873,670 660,628 664,669 866,661 674,725 840,634 970,920 818,639 907,925 679,939 929,943 901,763 998,937 902,665 1017,695 966,654 704,919 966,704 915,669 1039,632 944,672 942,755 691,947 918,640 1002,622 788,658 824,722 666,657 654,650 765,933 950,631 966,937 775,945 857,925 998,653 978,672 835,676 755,669 756,667 796,934 885,629 903,701 842,883 848,939 951,634 698,656 660,813 978,937 811,657 1026,668 776,925 857,638 934,711 780,681 667,905 866,841 875,929 798,640 922,730 837,921 762,921 927,937 1036,723 799,923 911,624 1046,674 769,630 827,938 1024,644 726,929 698,727 755,723 1017,676 738,939 699,647 696,639 673,943 1022,921 984,673 858,628 832,876 927,852 1033,936 878,840 1008,841 785,635 801,944 723,939 900,630 813,642 786,943 664,943 944,705 826,625 685,940 738,656 689,625 1014,944 659,656 652,791 985,655 959,625 939,632 856,649 827,664 911,652 1017,694 697,661 653,675 896,823 791,831 793,920 705,654 830,875 780,641 1050,656 1038,821 703,684 1013,688 1029,663 880,629 762,673 936,659 661,664 996,940 955,672 838,641 987,784 743,714 669,667 1052,670 670,624 985,719 888,947 1021,809 943,693 1031,919 986,704 968,627 870,727 1043,699 903,665 973,687 789,667 994,929 1034,636 908,664 935,929 816,700 700,671 839,941 1022,686 896,690 788,806 687,700 780,749 1023,634 699,655 776,624 907,935 849,708 706,923 1041,658 909,646 790,653 738,941 1025,635 974,923 818,938 734,921 829,941 940,786 941,930 689,626 828,922 966,755 777,730 1050,682 831,778 769,629 970,919 804,637 789,776 739,923 653,677 795,933 746,624 959,645 668,751 937,931 1024,917 873,715 963,757 841,921 805,699 899,685 888,939 1035,841 1022,933 798,629 1034,751 838,671 968,738 766,760 801,650 769,936 1046,734 893,930 949,939 927,742 865,679 784,626 934,936 679,672 861,635 1004,758 1052,695 745,647 927,644 653,938 959,805 794,938 705,823 747,932 812,690 778,750 798,670 848,644 977,940 764,714 654,645 653,633 1024,862 879,702 947,930 812,657 889,647 810,749 729,935 765,626 673,929 673,687 1016,642 715,942 781,933 928,681 1034,729 979,933 656,704 964,935 1043,694 921,924 892,748 997,659 956,668 786,920 753,713 982,924 1039,688 685,727 1018,648 1001,746 961,633 928,714 914,931 755,762 706,916 912,647 984,705 735,651 971,945 1015,642 1003,919 661,625 683,652 932,940 1039,663 768,753 857,927 898,680 775,625 817,632 707,934 743,944 973,632 1026,697 975,919 711,620 884,920 702,688 1011,669 995,625 701,935 895,625 1025,688 878,820 684,632 1028,861 906,735 865,795 905,832 875,638 839,944 917,921 799,637 657,749 739,687 953,633 834,941 858,886 1005,718 919,928 698,939 707,933 736,653 934,801 864,680 926,651 895,639 1017,702 754,945 986,850 1022,637 654,628 798,653 1035,645 980,692 1044,655 770,697 1021,712 909,731 926,672 956,921 963,684 834,644 1029,940 699,923 939,812 805,630 1040,660 761,698 786,922 803,627 802,922 752,940 967,629 960,633 781,943 780,932 722,647 952,709 708,937 904,925 883,655 793,675 808,804 891,624 987,944 848,713 925,934 962,705 770,924 883,712 923,941 867,686 681,928 1016,918 906,635 986,925 880,642 695,941 1009,939 1016,654 731,645 1047,788 801,927 1045,700 1032,652 986,926 819,651 683,623 989,655 1016,641 727,638 969,801 985,636 999,649 677,646 658,674 1024,628 975,634 816,943 954,770 724,944 951,794 670,652 811,667 1036,935 1052,639 742,942 893,768 815,725 1031,804 857,929 720,660 655,658 873,646 759,636 741,922 808,926 847,625 1013,767 1015,760 971,674 904,942 1040,773 1035,780 1050,648 694,652 862,672 1028,943 875,787 650,784 1045,943 827,932 975,714 855,627 816,733 817,928 750,933 660,698 1022,656 989,676 893,711 826,734 796,941 1052,720 752,865 969,935 835,649 810,636 828,659 666,936 1004,674 659,653 752,647 672,937 795,834 1038,822 672,921 702,925 907,829 804,936 673,662 1009,762 1040,930 1013,821 993,624 860,671 1014,649 1022,674 724,919 729,701 916,941 708,939 1051,751 864,944 682,728 973,697 782,638 677,902 968,895 862,752 966,930 694,940 760,938 879,921 831,926 838,647 734,695 725,691 830,650 832,643 1052,698 856,788 688,932 892,651 757,711 809,768 731,932 869,854 973,660 1021,744 1052,931 839,944 839,934 725,674 996,929 1037,695 749,745 795,694 1039,939 713,627 808,662 733,942 1019,925 1003,639 1047,770 874,931 987,637 886,717 824,776 837,668 1020,931 854,946 811,783 973,861 861,648 705,924 745,794 855,817 1049,657 847,923 1049,729 995,630 1047,783 925,648 1014,661 1020,630 1030,947 845,751 818,667 968,626 677,705 709,649 897,807 857,652 878,703 994,709 776,634 894,919 987,657 923,919 937,701 886,947 719,943 922,705 751,856 843,669 996,646 1023,931 823,668 822,657 836,942 891,681 951,697 679,664 773,691 741,656 906,721 785,628 828,931 708,690 963,671 1036,752 748,626 888,760 819,930 859,703 841,662 1044,748 860,669 1028,718 808,648 827,642 654,674 1038,661 870,624 863,721 887,929 709,625 730,642 688,637 799,942 1006,758 876,659 768,948 876,634 824,756 1027,623 1042,743 845,651 884,866 842,626 882,931 792,938 971,773 729,628 1034,742 1004,765 682,924 690,928 715,679 868,697 1014,941 726,925 712,939 745,633 653,917 783,791 938,886 792,702 859,922 963,939 931,925 752,888 658,943 1038,697 1002,942 650,632 808,619 769,940 687,941 726,647 979,856 853,635 848,665 794,932 759,698 867,943 1025,939 980,944 980,922 1035,929 649,631 694,947 1046,922 1019,727 709,834 1022,934 1031,919 922,937 659,926 953,911 798,719 858,689 853,651 995,667 968,694 828,941 900,660 745,931 845,755 699,915 650,921 830,733 1017,667 1005,861 960,650 944,929 989,655 655,676 917,642 1039,692 745,721 952,695 989,944 746,648 676,690 1001,805 991,651 797,939 787,661 901,658 989,929 897,650 785,940 903,764 875,707 793,928 971,808 819,920 673,931 1050,643 758,861 765,924 1004,947 677,712 914,698 660,943 781,625 1045,629 842,663 650,720 942,630 775,843 886,764 835,658 1052,699 1007,633 761,664 1010,647 895,946 944,694 733,654 914,802 967,633 729,646 754,638 742,942 790,641 995,670 1043,632 700,932 734,916 1033,669 974,638 978,641 690,667 913,697 672,707 736,923 809,658 685,670 861,679 981,754 1021,642 789,648 700,806 1027,646 996,944 911,937 834,683 705,931 985,690 922,920 867,657 962,728 801,643 926,751 1010,941 996,730 862,681 954,924 836,634 1029,730 906,638 926,927 678,823 1000,669 665,944 787,947 698,674 1031,644 923,678 949,656 667,669 938,930 787,633 1053,645 1042,801 969,807 829,656 827,661 697,939 999,933 890,672 1056,664 774,664 1035,814 904,856 1046,672 905,663 1039,731 856,723 857,675 776,681 725,922 1034,719 743,762 700,756 1017,776 1045,927 706,675 745,747 664,817 662,639 856,748 909,932 964,671 870,741 907,798 850,938 1013,693 970,897 894,818 677,697 797,793 928,944 894,934 655,799 973,699 997,637 677,920 941,716 807,655 1001,729 900,665 862,935 855,695 726,924 908,688 833,709 953,703 660,940 740,635 789,927 708,924 814,747 748,782 880,623 956,779 912,700 1048,830 820,927 724,671 718,655 1018,698 699,715 1051,749 1021,682 802,661 1037,925 832,688 849,924 761,934 943,782 1022,640 1032,945 910,941 825,725 924,653 946,812 986,708 876,947 738,937 719,939 785,938 932,643 751,625 972,705 707,945 1016,701 889,684 982,701 799,649 840,649 894,684 682,653 1006,783 784,629 899,726 786,662 658,625 1029,639 708,647 1025,670 976,682 1043,779 839,844 816,632 862,648 677,634 680,644 837,675 717,655 690,638 724,627 936,934 818,934 880,946 782,926 790,665 915,945 1039,623 958,693 879,711 726,677 1029,630 961,920 955,709 732,795 1023,641 979,871 863,922 1044,668 683,666 1022,679 950,753 1048,927 830,697 961,650 1034,651 686,705 1030,922 896,751 871,682 725,650 922,757 944,717 908,936 837,927 1045,920 658,929 836,814 971,933 757,948 954,868 1024,665 972,781 737,741 902,647 937,626 1043,941 978,759 997,638 994,621 956,683 912,704 872,632 1025,703 1029,923 676,635 852,650 871,732 1040,924 770,635 659,634 653,817 679,908 887,937 971,700 736,709 901,946 988,648 928,673 786,660 720,632 660,631 707,654 672,641 823,932 952,920 958,804 1022,920 976,753 681,657 693,632 1036,808 727,720 868,931 789,637 859,943 788,641 913,766 944,752 938,940 692,927 1012,930 707,783 987,697 828,666 887,632 866,672 927,620 695,806 860,776 897,649 726,668 861,921 777,747 942,754 701,687 1043,790 832,635 1050,936 1006,767 968,948 944,650 849,940 892,925 826,661 971,940 778,744 918,654 855,647 953,747 982,941 698,936 807,655 885,646 1027,667 778,655 1000,692 868,688 1012,942 963,790 720,696 686,715 869,702 958,799 900,653 1052,675 752,923 987,713 788,687 901,673 853,639 752,627 806,920 664,653 689,883 989,864 743,800 672,716 953,623 912,934 915,930 933,654 798,679 802,624 865,703 754,778 995,772 1004,716 904,665 666,641 1008,648 878,649 835,668 697,650 777,658 862,702 727,815 901,714 798,939 769,687 695,660 833,625 755,675 919,765 817,945 954,945 783,944 877,934 893,925 1009,926 1001,676 775,943 1041,672 792,944 857,884 896,626 940,709 740,941 979,799 778,649 949,735 909,718 1039,714 886,642 1024,827 1037,668 997,792 684,943 762,649 931,765 845,863 915,860 777,662 1019,642 1026,874 858,942 715,944 683,626 955,924 776,944 1006,731 683,652 894,944 821,921 919,711 1030,812 936,650 674,714 867,937 882,666 957,730 784,935 769,699 977,672 1042,695 763,670 915,664 706,637 962,640 827,880 799,692 930,716 1049,654 987,652 745,944 763,667 735,701 822,691 729,628 663,943 1040,676 884,664 683,659 732,644 958,932 689,944 688,655 694,633 682,929 754,662 761,697 804,644 1025,935 868,728 1022,660 863,633 693,638 1004,649 791,928 963,675 725,932 992,630 911,840 660,931 808,629 976,689 826,659 882,829 991,636 978,929 699,934 769,640 838,731 840,933 757,670 779,724 870,630 1000,934 756,750 1024,644 752,751 886,680 993,632 989,676 797,931 887,656 906,640 701,942 698,942 717,659 906,693 668,922 770,652 794,942 820,708 863,944 833,668 896,928 976,934 854,714 769,878 844,937 978,642 706,927 887,825 672,865 834,848 973,642 1038,625 860,946 821,689 857,942 908,646 1043,685 988,668 917,922 936,804 1001,872 969,795 1032,926 1000,731 926,934 887,701 912,690 753,678 696,632 952,633 877,759 1001,655 829,936 651,928 943,937 747,925 686,637 930,635 803,941 1051,659 798,644 773,941 772,704 850,638 654,945 955,900 663,663 785,715 749,655 845,736 839,657 772,934 737,632 793,935 976,642 837,633 715,667 932,820 920,635 753,778 724,662 1017,685 835,708 896,925 862,647 905,773 926,742 1029,841 717,628 1041,706 885,935 739,696 813,934 855,683 811,942 757,694 1035,690 700,930 1006,625 693,646 896,674 968,777 909,935 932,924 736,839 1027,927 700,939 688,659 726,695 884,660 766,692 999,852 1017,666 807,805 899,920 1038,932 1025,636 1007,636 656,773 778,933 962,671 751,650 1036,765 1053,662 926,704 847,678 722,679 1016,640 961,702 802,921 1002,805 982,796 836,646 988,639 864,678 710,660 678,926 968,772 968,653 872,627 703,935 975,646 1036,929 920,935 1025,673 767,919 820,938 764,673 891,653 716,624 683,934 1022,624 720,742 762,647 832,931 999,688 976,798 889,925 659,730 935,929 879,647 899,660 670,644 921,757 656,917 1050,685 843,940 920,743 889,648 980,757 991,738 858,655 765,631 996,711 988,631 852,640 973,767 910,620 772,940 766,651 825,624 808,686 908,784 900,646 823,695 961,802 975,653 811,641 809,935 933,737 681,653 699,933 832,740 744,801 799,681 895,638 822,625 1050,710 972,670 897,657 903,651 908,687 896,663 799,694 691,694 1007,662 761,629 661,927 1038,726 834,631 970,653 799,638 887,799 865,632 709,719 695,657 945,620 721,836 878,935 1041,636 890,684 1044,771 755,664 986,719 650,698 911,628 999,944 1019,852 886,659 733,634 685,940 739,648 1032,694 949,646 1031,714 803,946 896,860 815,693 1046,635 778,632 971,731 788,821 698,683 821,658 968,937 735,671 983,693 958,777 726,632 906,929 975,929 1045,943 1014,942 884,644 767,941 899,677 704,699 1015,931 907,884 994,717 709,775 903,939 1041,647 1048,636 1039,751 901,926 1024,634 929,939 891,928 762,627 947,634 708,715 1034,690 1045,684 906,708 658,628 695,923 937,712 842,861 945,941 926,687 883,698 1051,708 909,665 703,948 1027,827 649,939 768,786 1051,779 733,657 910,825 821,630 891,778 794,750 1028,850 751,794 897,936 977,639 974,654 777,932 783,645 989,691 1047,676 1046,637 904,708 895,675 754,675 898,683 893,929 1030,666 746,649 993,723 919,834 976,944 913,917 935,814 772,724 811,625 847,939 950,748 791,755 715,808 948,657 753,647 678,635 818,656 956,673 976,792 865,943 850,849 787,945 972,677 1013,702 786,920 881,944 929,656 669,752 942,631 915,888 1028,630 692,698 855,931 1033,942 690,655 823,943 757,865 1016,842 897,786 856,937 1021,687 765,856 981,944 725,943 1026,810 848,872 736,630 959,692 871,636 751,647 744,935 740,941 860,639 895,727 959,677 739,626 898,941 693,646 972,735 823,820 872,697 648,648 855,944 696,926 983,852 802,648 907,647 998,801 1010,748 736,652 1022,735 906,670 937,939 921,928 787,626 948,791 693,698 689,667 897,729 729,644 696,669 742,931 727,718 770,938 860,889 697,721 663,934 699,637 706,932 974,690 720,651 831,938 940,928 669,823 708,674 923,923 995,720 803,938 1010,922 711,941 1031,645 997,702 886,929 934,654 805,778 988,937 945,650 869,936 903,924 1006,943 733,640 712,847 985,642 973,666 868,926 912,636 673,757 768,773 1030,674 918,690 817,691 721,643 939,720 689,691 958,816 659,653 818,741 747,719 950,681 1032,673 993,706 827,628 739,820 1039,885 1045,666 965,693 1045,904 715,944 908,889 717,941 981,650 679,943 948,628 752,630 878,916 696,712 1026,671 717,645 997,658 1049,836 960,938 1039,732 917,716 739,654 670,622 671,762 949,943 836,650 939,925 656,670 1017,691 688,625 656,940 1048,778 702,930 1002,932 874,636 868,685 763,929 937,852 987,635 1040,739 806,923 974,633 771,660 940,758 782,930 845,723 909,654 932,658 696,904 680,628 849,637 907,646 986,681 869,788 1031,697 872,921 746,670 854,673 873,657 1038,695 1004,662 899,935 989,695 648,636 666,931 997,835 993,661 907,904 1027,710 985,639 905,731 824,626 663,940 807,924 853,789 657,640 834,630 909,738 784,663 995,624 658,629 659,944 853,741 710,722 808,787 826,627 1001,788 999,668 652,646 792,675 835,875 997,729 946,768 922,644 877,931 1001,740 659,669 786,745 717,698 672,943 1051,939 789,685 907,923 932,670 654,842 1003,929 739,679 765,649 1039,801 884,629 737,620 795,941 760,648 972,690 903,728 1039,627 1037,657 1049,697 940,943 848,945 895,923 844,921 686,636 870,929 648,806 674,939 1001,677 944,929 936,791 1007,836 655,934 854,945 909,716 1017,731 988,623 718,945 828,924 748,639 1044,627 861,927 978,644 711,754 705,634 808,675 793,934 671,735 1014,744 779,647 787,779 987,939 985,939 898,937 743,627 658,720 789,839 994,648 933,657 902,714 791,855 685,746 700,941 764,651 690,631 995,662 1047,630 937,712 921,668 673,936 1048,824 660,648 752,823 933,730 1002,641 818,861 996,933 988,883 686,655 848,625 931,732 853,668 822,654 909,659 682,774 941,635 839,838 1006,633 897,818 724,885 797,692 666,627 899,935 945,775 699,938 877,728 995,659 1052,674 1028,729 769,935 713,675 956,701 744,922 1038,707 747,848 786,650 832,775 837,688 762,740 1045,641 941,938 835,744 708,935 926,645 655,669 774,649 789,944 934,926 943,919 1026,761 694,868 1004,940 1043,944 818,941 727,936 829,926 678,662 992,641 792,945 912,940 1007,704 832,928 756,931 741,630 877,642 1020,659 1040,919 975,642 1030,688 694,629 901,935 1027,849 762,946 938,778 841,639 986,632 770,925 890,922 957,923 835,693 842,866 957,911 749,664 833,675 690,635 992,740 775,739 967,634 937,789 942,678 726,923 693,947 950,679 749,943 838,653 941,924 868,637 989,767 749,921 940,910 730,695 931,939 1042,694 720,931 668,928 870,666 944,685 837,926 924,923 1036,926 742,632 798,840 1033,719 980,624 652,656 766,945 849,895 932,942 652,944 905,924 662,667 677,937 836,889 769,687 1002,733 773,784 839,658 790,653 719,922 823,688 950,647 956,715 984,655 1028,797 865,944 651,930 702,665 692,933 1005,696 773,652 855,930 897,789 776,931 1053,644 932,639 848,700 796,735 858,740 1049,939 945,945 781,925 997,660 938,925 1041,942 893,929 752,741 979,927 1009,721 761,931 859,727 963,790 1050,944 679,937 1046,826 770,927 1030,709 715,635 842,746 1027,635 1004,944 719,728 926,938 743,941 1003,822 834,652 742,939 889,925 861,939 841,926 962,701 819,621 1046,638 689,934 930,654 852,639 735,741 710,939 733,700 781,937 992,704 846,910 778,946 931,933 693,926 1011,719 938,930 866,922 905,628 682,670 973,745 905,706 784,658 1012,841 969,745 1004,693 898,921 898,765 715,663 766,926 1046,628 985,937 991,735 659,629 849,833 672,937 864,937 757,649 839,735 750,942 709,631 916,851 1040,682 819,933 928,663 654,664 1012,736 1046,925 932,659 817,654 910,677 892,942 970,634 686,667 836,940 686,696 826,814 691,743 800,684 976,657 718,936 871,678 871,844 739,638 948,641 1034,928 744,918 1000,640 652,653 940,631 693,641 672,637 657,637 842,691 986,892 935,946 940,935 708,651 757,762 982,666 838,666 702,634 849,921 680,921 781,925 776,641 866,790 1020,655 877,918 926,673 1025,932 967,724 962,638 687,636 755,842 1053,664 693,945 833,943 701,689 936,926 871,925 968,813 942,636 995,633 1020,878 972,651 1054,938 697,660 706,622 990,628 807,740 939,754 955,651 999,770 678,625 650,939 650,668 1045,931 822,769 899,935 1048,708 939,779 902,666 982,725 1000,645 999,778 964,882 809,935 821,731 979,742 983,767 737,641 795,738 709,715 823,936 953,942 655,824 951,671 744,936 927,655 666,921 945,874 900,647 730,925 876,631 860,833 932,740 955,661 1001,684 984,938 690,678 906,658 769,686 859,731 884,878 948,660 887,680 886,757 986,695 1010,942 859,723 941,720 660,849 695,934 702,946 1032,647 879,696 921,726 746,661 966,937 980,814 919,943 1048,822 830,699 814,868 751,730 1023,694 974,701 689,888 968,852 1039,787 872,692 763,942 953,833 991,688 751,638 1013,924 1037,630 1051,825 713,685 983,629 1028,804 1014,684 666,781 860,633 1039,667 770,786 881,646 704,738 956,711 849,684 921,829 796,944 923,932 961,900 827,820 859,760 907,927 967,851 1017,930 974,940 1007,924 928,686 1022,728 720,926 1001,708 987,820 1014,827 761,693 963,928 869,756 1043,929 963,940 1028,632 894,922 892,682 881,633 1027,687 1050,948 898,919 653,799 852,706 781,754 848,710 808,705 754,933 934,942 658,646 1004,778 915,647 874,907 977,636 868,711 840,629 830,928 1014,933 957,710 954,922 965,925 891,656 807,935 913,700 747,642 994,656 1023,924 714,599 740,593 772,591 796,588 820,599 888,604 902,610 934,598"/>
<path d="M57.4 13.4V211.6H264" fill="none" stroke="#111" stroke-width="1.8" stroke-linecap="square"/>
<path d="M57.4 4.4L62.5 17.4L57.4 14.0L52.3 17.4Z" fill="#111"/>
<path d="M273 211.6L259.6 206.5L263.2 211.6L259.6 216.7Z" fill="#111"/>
<path d="M57.5 211.6v-3.5" stroke="#111" stroke-width="1.2"/>
<text x="57.5" y="228.8" text-anchor="middle" class="t">0</text>
<path d="M108.25 211.6v-3.5" stroke="#111" stroke-width="1.2"/>
<text x="108.25" y="228.8" text-anchor="middle" class="t">50</text>
<path d="M159.0 211.6v-3.5" stroke="#111" stroke-width="1.2"/>
<text x="159.0" y="228.8" text-anchor="middle" class="t">100</text>
<path d="M209.75 211.6v-3.5" stroke="#111" stroke-width="1.2"/>
<text x="209.75" y="228.8" text-anchor="middle" class="t">150</text>
<path d="M260.5 211.6v-3.5" stroke="#111" stroke-width="1.2"/>
<text x="260.5" y="228.8" text-anchor="middle" class="t">200</text>
<path d="M57.4 183.79999999999998h3.5" stroke="#111" stroke-width="1.2"/>
<text x="52.199999999999996" y="188.1" text-anchor="end" class="t">200</text>
<path d="M57.4 156.0h3.5" stroke="#111" stroke-width="1.2"/>
<text x="52.199999999999996" y="160.3" text-anchor="end" class="t">400</text>
<path d="M57.4 128.2h3.5" stroke="#111" stroke-width="1.2"/>
<text x="52.199999999999996" y="132.5" text-anchor="end" class="t">600</text>
<path d="M57.4 100.39999999999999h3.5" stroke="#111" stroke-width="1.2"/>
<text x="52.199999999999996" y="104.69999999999999" text-anchor="end" class="t">800</text>
<path d="M57.4 72.6h3.5" stroke="#111" stroke-width="1.2"/>
<text x="52.199999999999996" y="76.89999999999999" text-anchor="end" class="t">1000</text>
<path d="M57.4 44.79999999999998h3.5" stroke="#111" stroke-width="1.2"/>
<text x="52.199999999999996" y="49.09999999999998" text-anchor="end" class="t">1200</text>
<path d="M57.4 17.0h3.5" stroke="#111" stroke-width="1.2"/>
<text x="52.199999999999996" y="21.3" text-anchor="end" class="t">1400</text>
<text x="159.5" y="245.8" text-anchor="middle" class="l">PV power(kW)</text>
<text transform="translate(20.6 113.5) rotate(-90)" text-anchor="middle" class="l"><tspan font-size="13">Irradiance(W/m<tspan dy="-6.2" font-size="8.8">2</tspan><tspan dy="6.2">)</tspan></tspan></text>
<text x="159" y="266" text-anchor="middle" class="l">(a)</text><path d="M325.0 13.3V211.6H531" fill="none" stroke="#111" stroke-width="1.8" stroke-linecap="square"/>
<path d="M325.0 4.3L330.1 17.3L325.0 13.899999999999999L319.9 17.3Z" fill="#111"/>
<path d="M540 211.6L526.6 206.5L530.2 211.6L526.6 216.7Z" fill="#111"/>
<path d="M324.5 211.6v-3.5" stroke="#111" stroke-width="1.2"/>
<text x="324.5" y="228.8" text-anchor="middle" class="t">0</text>
<path d="M375.5 211.6v-3.5" stroke="#111" stroke-width="1.2"/>
<text x="375.5" y="228.8" text-anchor="middle" class="t">50</text>
<path d="M426.5 211.6v-3.5" stroke="#111" stroke-width="1.2"/>
<text x="426.5" y="228.8" text-anchor="middle" class="t">100</text>
<path d="M477.5 211.6v-3.5" stroke="#111" stroke-width="1.2"/>
<text x="477.5" y="228.8" text-anchor="middle" class="t">150</text>
<path d="M528.5 211.6v-3.5" stroke="#111" stroke-width="1.2"/>
<text x="528.5" y="228.8" text-anchor="middle" class="t">200</text>
<path d="M325.0 173.04999999999998h3.5" stroke="#111" stroke-width="1.2"/>
<text x="319.8" y="177.35" text-anchor="end" class="t">10</text>
<path d="M325.0 133.89999999999998h3.5" stroke="#111" stroke-width="1.2"/>
<text x="319.8" y="138.2" text-anchor="end" class="t">20</text>
<path d="M325.0 94.75h3.5" stroke="#111" stroke-width="1.2"/>
<text x="319.8" y="99.05" text-anchor="end" class="t">30</text>
<path d="M325.0 55.599999999999994h3.5" stroke="#111" stroke-width="1.2"/>
<text x="319.8" y="59.89999999999999" text-anchor="end" class="t">40</text>
<path d="M325.0 16.44999999999999h3.5" stroke="#111" stroke-width="1.2"/>
<text x="319.8" y="20.74999999999999" text-anchor="end" class="t">50</text>
<text x="427.0" y="245.8" text-anchor="middle" class="l">PV power(kW)</text>
<text transform="translate(301 114) rotate(-90)" text-anchor="middle" class="l">Ambient temperature(℃)</text>
<text x="426.8" y="263.2" text-anchor="middle" class="l">(b)</text><path d="M57.4 276.8V474.5H264" fill="none" stroke="#111" stroke-width="1.8" stroke-linecap="square"/>
<path d="M57.4 267.8L62.5 280.8L57.4 277.40000000000003L52.3 280.8Z" fill="#111"/>
<path d="M273 474.5L259.6 469.4L263.2 474.5L259.6 479.6Z" fill="#111"/>
<path d="M57.5 474.5v-3.5" stroke="#111" stroke-width="1.2"/>
<text x="57.5" y="492" text-anchor="middle" class="t">0</text>
<path d="M108.25 474.5v-3.5" stroke="#111" stroke-width="1.2"/>
<text x="108.25" y="492" text-anchor="middle" class="t">50</text>
<path d="M159.0 474.5v-3.5" stroke="#111" stroke-width="1.2"/>
<text x="159.0" y="492" text-anchor="middle" class="t">100</text>
<path d="M209.75 474.5v-3.5" stroke="#111" stroke-width="1.2"/>
<text x="209.75" y="492" text-anchor="middle" class="t">150</text>
<path d="M260.5 474.5v-3.5" stroke="#111" stroke-width="1.2"/>
<text x="260.5" y="492" text-anchor="middle" class="t">200</text>
<path d="M57.4 474.9h3.5" stroke="#111" stroke-width="1.2"/>
<text x="52.199999999999996" y="479.2" text-anchor="end" class="t">0</text>
<path d="M57.4 442.4h3.5" stroke="#111" stroke-width="1.2"/>
<text x="52.199999999999996" y="446.7" text-anchor="end" class="t">20</text>
<path d="M57.4 409.9h3.5" stroke="#111" stroke-width="1.2"/>
<text x="52.199999999999996" y="414.2" text-anchor="end" class="t">40</text>
<path d="M57.4 377.4h3.5" stroke="#111" stroke-width="1.2"/>
<text x="52.199999999999996" y="381.7" text-anchor="end" class="t">60</text>
<path d="M57.4 344.9h3.5" stroke="#111" stroke-width="1.2"/>
<text x="52.199999999999996" y="349.2" text-anchor="end" class="t">80</text>
<path d="M57.4 312.4h3.5" stroke="#111" stroke-width="1.2"/>
<text x="52.199999999999996" y="316.7" text-anchor="end" class="t">100</text>
<path d="M57.4 279.9h3.5" stroke="#111" stroke-width="1.2"/>
<text x="52.199999999999996" y="284.2" text-anchor="end" class="t">120</text>
<text x="159.5" y="508.7" text-anchor="middle" class="l">PV power(kW)</text>
<text transform="translate(26 376) rotate(-90)" text-anchor="middle" class="l">Relative humidity(%rh)</text>
<text x="159" y="527.6" text-anchor="middle" class="l">(c)</text><path d="M325.0 277.5V476H531" fill="none" stroke="#111" stroke-width="1.8" stroke-linecap="square"/>
<path d="M325.0 268.5L330.1 281.5L325.0 278.1L319.9 281.5Z" fill="#111"/>
<path d="M540 476L526.6 470.9L530.2 476L526.6 481.1Z" fill="#111"/>
<path d="M324.5 476v-3.5" stroke="#111" stroke-width="1.2"/>
<text x="324.5" y="492.8" text-anchor="middle" class="t">0</text>
<path d="M375.5 476v-3.5" stroke="#111" stroke-width="1.2"/>
<text x="375.5" y="492.8" text-anchor="middle" class="t">50</text>
<path d="M426.5 476v-3.5" stroke="#111" stroke-width="1.2"/>
<text x="426.5" y="492.8" text-anchor="middle" class="t">100</text>
<path d="M477.5 476v-3.5" stroke="#111" stroke-width="1.2"/>
<text x="477.5" y="492.8" text-anchor="middle" class="t">150</text>
<path d="M528.5 476v-3.5" stroke="#111" stroke-width="1.2"/>
<text x="528.5" y="492.8" text-anchor="middle" class="t">200</text>
<path d="M325.0 448.4h3.5" stroke="#111" stroke-width="1.2"/>
<text x="319.8" y="452.7" text-anchor="end" class="t">10</text>
<path d="M325.0 420.4h3.5" stroke="#111" stroke-width="1.2"/>
<text x="319.8" y="424.7" text-anchor="end" class="t">20</text>
<path d="M325.0 392.4h3.5" stroke="#111" stroke-width="1.2"/>
<text x="319.8" y="396.7" text-anchor="end" class="t">30</text>
<path d="M325.0 364.4h3.5" stroke="#111" stroke-width="1.2"/>
<text x="319.8" y="368.7" text-anchor="end" class="t">40</text>
<path d="M325.0 336.4h3.5" stroke="#111" stroke-width="1.2"/>
<text x="319.8" y="340.7" text-anchor="end" class="t">50</text>
<path d="M325.0 308.4h3.5" stroke="#111" stroke-width="1.2"/>
<text x="319.8" y="312.7" text-anchor="end" class="t">60</text>
<path d="M325.0 280.4h3.5" stroke="#111" stroke-width="1.2"/>
<text x="319.8" y="284.7" text-anchor="end" class="t">70</text>
<text x="427.0" y="509.5" text-anchor="middle" class="l">PV power(kW)</text>
<text transform="translate(301 378) rotate(-90)" text-anchor="middle" class="l">Wind speed(m/s)</text>
<text x="426.8" y="536.5" text-anchor="middle" class="l">(d)</text></svg>
</body></html>
